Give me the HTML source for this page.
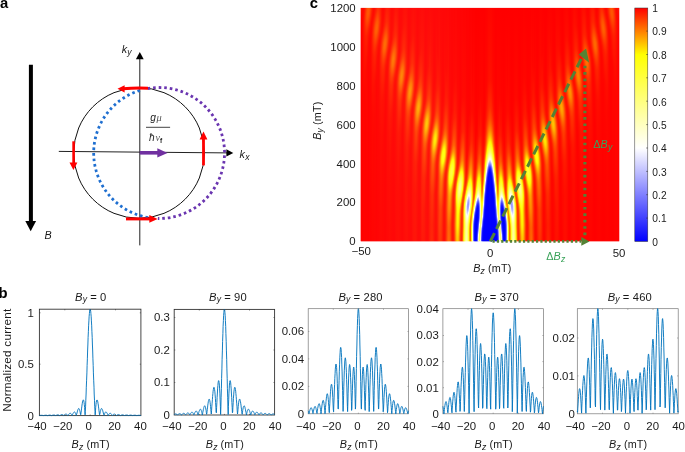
<!DOCTYPE html>
<html><head><meta charset="utf-8"><title>Figure</title>
<style>
html,body{margin:0;padding:0;background:#fff}
svg{display:block}
text{font-family:"Liberation Sans",sans-serif;fill:#1a1a1a;font-size:10.8px;letter-spacing:.15px}
.k{letter-spacing:0}
.i{font-style:italic}
.s{font-size:8.6px;font-style:italic;letter-spacing:0}
.b{font-weight:bold;font-size:14.8px;fill:#000;letter-spacing:0}
.ser{font-family:"Liberation Serif",serif;font-style:italic;fill:#555}
.g{fill:#3aa35a}
</style></head><body>
<svg width="685" height="452" viewBox="0 0 685 452">
<rect width="685" height="452" fill="#fff"/>
<defs>
<clipPath id="hc"><rect x="360.4" y="7.7" width="259.1" height="233.8"/></clipPath>
<linearGradient id="c0" x1="0" y1="0" x2="0" y2="1"><stop offset="0" stop-color="#ff1a00"/><stop offset=".034" stop-color="#ff0800"/><stop offset=".086" stop-color="#ff0100"/><stop offset="1" stop-color="#ff0000"/></linearGradient>
<linearGradient id="c1" x1="0" y1="0" x2="0" y2="1"><stop offset="0" stop-color="#ff0f00"/><stop offset=".052" stop-color="#ff0300"/><stop offset="1" stop-color="#ff0100"/></linearGradient>
<linearGradient id="c2" x1="0" y1="0" x2="0" y2="1"><stop offset="0" stop-color="#ff0600"/><stop offset=".086" stop-color="#ff0a00"/><stop offset="1" stop-color="#ff0100"/></linearGradient>
<linearGradient id="c3" x1="0" y1="0" x2="0" y2="1"><stop offset="0" stop-color="#ff0800"/><stop offset=".069" stop-color="#ff1800"/><stop offset=".378" stop-color="#ff0500"/><stop offset="1" stop-color="#ff0200"/></linearGradient>
<linearGradient id="c4" x1="0" y1="0" x2="0" y2="1"><stop offset="0" stop-color="#ff1700"/><stop offset=".039" stop-color="#ff2a00"/><stop offset=".06" stop-color="#ff2b00"/><stop offset=".133" stop-color="#ff1900"/><stop offset=".365" stop-color="#ff0600"/><stop offset="1" stop-color="#ff0200"/></linearGradient>
<linearGradient id="c5" x1="0" y1="0" x2="0" y2="1"><stop offset="0" stop-color="#ff2e00"/><stop offset=".03" stop-color="#ff3e00"/><stop offset=".047" stop-color="#ff4000"/><stop offset=".12" stop-color="#ff2000"/><stop offset=".275" stop-color="#ff0900"/><stop offset=".511" stop-color="#ff0200"/><stop offset="1" stop-color="#ff0100"/></linearGradient>
<linearGradient id="c6" x1="0" y1="0" x2="0" y2="1"><stop offset="0" stop-color="#ff4500"/><stop offset=".026" stop-color="#ff5100"/><stop offset=".043" stop-color="#ff5000"/><stop offset=".12" stop-color="#ff1e00"/><stop offset=".258" stop-color="#ff0700"/><stop offset="1" stop-color="#ff0000"/></linearGradient>
<linearGradient id="c7" x1="0" y1="0" x2="0" y2="1"><stop offset="0" stop-color="#ff5400"/><stop offset=".026" stop-color="#ff5a00"/><stop offset=".043" stop-color="#ff5300"/><stop offset=".094" stop-color="#ff2400"/><stop offset=".12" stop-color="#ff1600"/><stop offset=".227" stop-color="#ff0500"/><stop offset="1" stop-color="#ff0000"/></linearGradient>
<linearGradient id="c8" x1="0" y1="0" x2="0" y2="1"><stop offset="0" stop-color="#ff5700"/><stop offset=".03" stop-color="#ff5200"/><stop offset=".094" stop-color="#ff1700"/><stop offset=".146" stop-color="#ff0700"/><stop offset=".361" stop-color="#ff0000"/><stop offset="1" stop-color="#ff0000"/></linearGradient>
<linearGradient id="c9" x1="0" y1="0" x2="0" y2="1"><stop offset="0" stop-color="#ff4c00"/><stop offset=".026" stop-color="#ff4300"/><stop offset=".082" stop-color="#ff1100"/><stop offset=".124" stop-color="#ff0400"/><stop offset="1" stop-color="#ff0000"/></linearGradient>
<linearGradient id="c10" x1="0" y1="0" x2="0" y2="1"><stop offset="0" stop-color="#ff3700"/><stop offset=".021" stop-color="#ff2e00"/><stop offset=".06" stop-color="#ff1000"/><stop offset=".099" stop-color="#ff0500"/><stop offset="1" stop-color="#ff0100"/></linearGradient>
<linearGradient id="c11" x1="0" y1="0" x2="0" y2="1"><stop offset="0" stop-color="#ff2000"/><stop offset=".06" stop-color="#ff0700"/><stop offset=".146" stop-color="#ff1300"/><stop offset=".446" stop-color="#ff0500"/><stop offset="1" stop-color="#ff0200"/></linearGradient>
<linearGradient id="c12" x1="0" y1="0" x2="0" y2="1"><stop offset="0" stop-color="#ff0d00"/><stop offset=".043" stop-color="#ff0700"/><stop offset=".107" stop-color="#ff2400"/><stop offset=".133" stop-color="#ff2600"/><stop offset=".202" stop-color="#ff1800"/><stop offset=".451" stop-color="#ff0600"/><stop offset="1" stop-color="#ff0200"/></linearGradient>
<linearGradient id="c13" x1="0" y1="0" x2="0" y2="1"><stop offset="0" stop-color="#ff0500"/><stop offset=".03" stop-color="#ff0900"/><stop offset=".094" stop-color="#ff3800"/><stop offset=".12" stop-color="#ff3d00"/><stop offset=".21" stop-color="#ff1d00"/><stop offset=".339" stop-color="#ff0b00"/><stop offset=".575" stop-color="#ff0300"/><stop offset="1" stop-color="#ff0200"/></linearGradient>
<linearGradient id="c14" x1="0" y1="0" x2="0" y2="1"><stop offset="0" stop-color="#ff0800"/><stop offset=".034" stop-color="#ff1900"/><stop offset=".086" stop-color="#ff4c00"/><stop offset=".107" stop-color="#ff5200"/><stop offset=".193" stop-color="#ff2100"/><stop offset=".318" stop-color="#ff0a00"/><stop offset=".472" stop-color="#ff0300"/><stop offset="1" stop-color="#ff0100"/></linearGradient>
<linearGradient id="c15" x1="0" y1="0" x2="0" y2="1"><stop offset="0" stop-color="#ff1200"/><stop offset=".021" stop-color="#ff1f00"/><stop offset=".073" stop-color="#ff5600"/><stop offset=".099" stop-color="#ff5f00"/><stop offset=".12" stop-color="#ff5400"/><stop offset=".159" stop-color="#ff2f00"/><stop offset=".189" stop-color="#ff1c00"/><stop offset=".313" stop-color="#ff0600"/><stop offset="1" stop-color="#ff0000"/></linearGradient>
<linearGradient id="c16" x1="0" y1="0" x2="0" y2="1"><stop offset="0" stop-color="#ff1e00"/><stop offset=".017" stop-color="#ff2900"/><stop offset=".06" stop-color="#ff5600"/><stop offset=".086" stop-color="#ff6200"/><stop offset=".107" stop-color="#ff5800"/><stop offset=".146" stop-color="#ff2e00"/><stop offset=".172" stop-color="#ff1900"/><stop offset=".232" stop-color="#ff0900"/><stop offset=".361" stop-color="#ff0100"/><stop offset="1" stop-color="#ff0000"/></linearGradient>
<linearGradient id="c17" x1="0" y1="0" x2="0" y2="1"><stop offset="0" stop-color="#ff2700"/><stop offset=".056" stop-color="#ff5200"/><stop offset=".077" stop-color="#ff5800"/><stop offset=".099" stop-color="#ff4e00"/><stop offset=".142" stop-color="#ff2000"/><stop offset=".163" stop-color="#ff1000"/><stop offset=".206" stop-color="#ff0500"/><stop offset="1" stop-color="#ff0000"/></linearGradient>
<linearGradient id="c18" x1="0" y1="0" x2="0" y2="1"><stop offset="0" stop-color="#ff2700"/><stop offset=".064" stop-color="#ff4600"/><stop offset=".094" stop-color="#ff3900"/><stop offset=".142" stop-color="#ff0f00"/><stop offset=".176" stop-color="#ff0500"/><stop offset="1" stop-color="#ff0100"/></linearGradient>
<linearGradient id="c19" x1="0" y1="0" x2="0" y2="1"><stop offset="0" stop-color="#ff2000"/><stop offset=".06" stop-color="#ff2f00"/><stop offset=".142" stop-color="#ff0700"/><stop offset=".227" stop-color="#ff0e00"/><stop offset=".648" stop-color="#ff0300"/><stop offset="1" stop-color="#ff0300"/></linearGradient>
<linearGradient id="c20" x1="0" y1="0" x2="0" y2="1"><stop offset="0" stop-color="#ff1400"/><stop offset=".047" stop-color="#ff1a00"/><stop offset=".124" stop-color="#ff0800"/><stop offset=".197" stop-color="#ff2100"/><stop offset=".382" stop-color="#ff0d00"/><stop offset=".511" stop-color="#ff0700"/><stop offset="1" stop-color="#ff0300"/></linearGradient>
<linearGradient id="c21" x1="0" y1="0" x2="0" y2="1"><stop offset="0" stop-color="#ff0900"/><stop offset=".107" stop-color="#ff0a00"/><stop offset=".163" stop-color="#ff3200"/><stop offset=".189" stop-color="#ff3900"/><stop offset=".266" stop-color="#ff2000"/><stop offset=".403" stop-color="#ff0d00"/><stop offset=".644" stop-color="#ff0400"/><stop offset="1" stop-color="#ff0300"/></linearGradient>
<linearGradient id="c22" x1="0" y1="0" x2="0" y2="1"><stop offset="0" stop-color="#ff0300"/><stop offset=".082" stop-color="#ff0900"/><stop offset=".103" stop-color="#ff1500"/><stop offset=".15" stop-color="#ff4600"/><stop offset=".18" stop-color="#ff5100"/><stop offset=".262" stop-color="#ff2500"/><stop offset=".395" stop-color="#ff0c00"/><stop offset=".635" stop-color="#ff0300"/><stop offset="1" stop-color="#ff0200"/></linearGradient>
<linearGradient id="c23" x1="0" y1="0" x2="0" y2="1"><stop offset="0" stop-color="#ff0300"/><stop offset=".043" stop-color="#ff0600"/><stop offset=".077" stop-color="#ff1200"/><stop offset=".099" stop-color="#ff2400"/><stop offset=".15" stop-color="#ff5f00"/><stop offset=".172" stop-color="#ff6400"/><stop offset=".189" stop-color="#ff5b00"/><stop offset=".236" stop-color="#ff2f00"/><stop offset=".266" stop-color="#ff1f00"/><stop offset=".373" stop-color="#ff0a00"/><stop offset=".554" stop-color="#ff0200"/><stop offset="1" stop-color="#ff0100"/></linearGradient>
<linearGradient id="c24" x1="0" y1="0" x2="0" y2="1"><stop offset="0" stop-color="#ff0800"/><stop offset=".064" stop-color="#ff1800"/><stop offset=".082" stop-color="#ff2400"/><stop offset=".137" stop-color="#ff6400"/><stop offset=".159" stop-color="#ff6c00"/><stop offset=".176" stop-color="#ff6400"/><stop offset=".219" stop-color="#ff3400"/><stop offset=".249" stop-color="#ff1c00"/><stop offset=".335" stop-color="#ff0900"/><stop offset=".489" stop-color="#ff0100"/><stop offset="1" stop-color="#ff0000"/></linearGradient>
<linearGradient id="c25" x1="0" y1="0" x2="0" y2="1"><stop offset="0" stop-color="#ff1000"/><stop offset=".06" stop-color="#ff2000"/><stop offset=".077" stop-color="#ff2c00"/><stop offset=".129" stop-color="#ff6000"/><stop offset=".15" stop-color="#ff6600"/><stop offset=".172" stop-color="#ff5a00"/><stop offset=".227" stop-color="#ff1b00"/><stop offset=".253" stop-color="#ff0d00"/><stop offset=".283" stop-color="#ff0700"/><stop offset=".403" stop-color="#ff0100"/><stop offset="1" stop-color="#ff0000"/></linearGradient>
<linearGradient id="c26" x1="0" y1="0" x2="0" y2="1"><stop offset="0" stop-color="#ff1500"/><stop offset=".064" stop-color="#ff2700"/><stop offset=".12" stop-color="#ff5100"/><stop offset=".137" stop-color="#ff5600"/><stop offset=".159" stop-color="#ff4d00"/><stop offset=".197" stop-color="#ff2300"/><stop offset=".223" stop-color="#ff0e00"/><stop offset=".258" stop-color="#ff0500"/><stop offset="1" stop-color="#ff0100"/></linearGradient>
<linearGradient id="c27" x1="0" y1="0" x2="0" y2="1"><stop offset="0" stop-color="#ff1600"/><stop offset=".052" stop-color="#ff1f00"/><stop offset=".129" stop-color="#ff3e00"/><stop offset=".146" stop-color="#ff3900"/><stop offset=".197" stop-color="#ff0f00"/><stop offset=".223" stop-color="#ff0700"/><stop offset=".403" stop-color="#ff0b00"/><stop offset="1" stop-color="#ff0200"/></linearGradient>
<linearGradient id="c28" x1="0" y1="0" x2="0" y2="1"><stop offset="0" stop-color="#ff1300"/><stop offset=".124" stop-color="#ff2500"/><stop offset=".189" stop-color="#ff0900"/><stop offset=".275" stop-color="#ff1b00"/><stop offset=".588" stop-color="#ff0700"/><stop offset="1" stop-color="#ff0300"/></linearGradient>
<linearGradient id="c29" x1="0" y1="0" x2="0" y2="1"><stop offset="0" stop-color="#ff0c00"/><stop offset=".12" stop-color="#ff1100"/><stop offset=".172" stop-color="#ff0800"/><stop offset=".193" stop-color="#ff0f00"/><stop offset=".236" stop-color="#ff2e00"/><stop offset=".262" stop-color="#ff3400"/><stop offset=".33" stop-color="#ff2100"/><stop offset=".468" stop-color="#ff0f00"/><stop offset=".717" stop-color="#ff0500"/><stop offset="1" stop-color="#ff0400"/></linearGradient>
<linearGradient id="c30" x1="0" y1="0" x2="0" y2="1"><stop offset="0" stop-color="#ff0600"/><stop offset=".15" stop-color="#ff0700"/><stop offset=".176" stop-color="#ff1400"/><stop offset=".223" stop-color="#ff4500"/><stop offset=".249" stop-color="#ff5000"/><stop offset=".33" stop-color="#ff2800"/><stop offset=".472" stop-color="#ff0e00"/><stop offset=".717" stop-color="#ff0400"/><stop offset="1" stop-color="#ff0300"/></linearGradient>
<linearGradient id="c31" x1="0" y1="0" x2="0" y2="1"><stop offset="0" stop-color="#ff0200"/><stop offset=".133" stop-color="#ff0900"/><stop offset=".155" stop-color="#ff1400"/><stop offset=".215" stop-color="#ff5c00"/><stop offset=".236" stop-color="#ff6800"/><stop offset=".253" stop-color="#ff6300"/><stop offset=".3" stop-color="#ff3900"/><stop offset=".33" stop-color="#ff2700"/><stop offset=".446" stop-color="#ff0d00"/><stop offset=".597" stop-color="#ff0400"/><stop offset="1" stop-color="#ff0200"/></linearGradient>
<linearGradient id="c32" x1="0" y1="0" x2="0" y2="1"><stop offset="0" stop-color="#ff0200"/><stop offset=".09" stop-color="#ff0800"/><stop offset=".133" stop-color="#ff1500"/><stop offset=".159" stop-color="#ff2b00"/><stop offset=".21" stop-color="#ff6e00"/><stop offset=".227" stop-color="#ff7600"/><stop offset=".245" stop-color="#ff7000"/><stop offset=".3" stop-color="#ff3100"/><stop offset=".318" stop-color="#ff2400"/><stop offset=".348" stop-color="#ff1900"/><stop offset=".438" stop-color="#ff0800"/><stop offset=".567" stop-color="#ff0200"/><stop offset="1" stop-color="#ff0000"/></linearGradient>
<linearGradient id="c33" x1="0" y1="0" x2="0" y2="1"><stop offset="0" stop-color="#ff0500"/><stop offset=".086" stop-color="#ff1000"/><stop offset=".124" stop-color="#ff1d00"/><stop offset=".155" stop-color="#ff3600"/><stop offset=".197" stop-color="#ff6b00"/><stop offset=".219" stop-color="#ff7600"/><stop offset=".245" stop-color="#ff6600"/><stop offset=".3" stop-color="#ff2100"/><stop offset=".326" stop-color="#ff1200"/><stop offset=".356" stop-color="#ff0b00"/><stop offset=".455" stop-color="#ff0200"/><stop offset="1" stop-color="#ff0000"/></linearGradient>
<linearGradient id="c34" x1="0" y1="0" x2="0" y2="1"><stop offset="0" stop-color="#ff0900"/><stop offset=".116" stop-color="#ff2100"/><stop offset=".142" stop-color="#ff3100"/><stop offset=".185" stop-color="#ff5c00"/><stop offset=".215" stop-color="#ff6700"/><stop offset=".236" stop-color="#ff5800"/><stop offset=".288" stop-color="#ff1900"/><stop offset=".309" stop-color="#ff0c00"/><stop offset=".335" stop-color="#ff0600"/><stop offset="1" stop-color="#ff0100"/></linearGradient>
<linearGradient id="c35" x1="0" y1="0" x2="0" y2="1"><stop offset="0" stop-color="#ff0c00"/><stop offset=".112" stop-color="#ff2100"/><stop offset=".18" stop-color="#ff4a00"/><stop offset=".202" stop-color="#ff4f00"/><stop offset=".223" stop-color="#ff4500"/><stop offset=".275" stop-color="#ff1100"/><stop offset=".305" stop-color="#ff0700"/><stop offset="1" stop-color="#ff0300"/></linearGradient>
<linearGradient id="c36" x1="0" y1="0" x2="0" y2="1"><stop offset="0" stop-color="#ff0c00"/><stop offset=".107" stop-color="#ff1b00"/><stop offset=".189" stop-color="#ff3400"/><stop offset=".21" stop-color="#ff2e00"/><stop offset=".253" stop-color="#ff0f00"/><stop offset=".275" stop-color="#ff0900"/><stop offset=".322" stop-color="#ff1400"/><stop offset=".356" stop-color="#ff1500"/><stop offset=".67" stop-color="#ff0700"/><stop offset="1" stop-color="#ff0500"/></linearGradient>
<linearGradient id="c37" x1="0" y1="0" x2="0" y2="1"><stop offset="0" stop-color="#ff0a00"/><stop offset=".185" stop-color="#ff1b00"/><stop offset=".249" stop-color="#ff0900"/><stop offset=".27" stop-color="#ff1000"/><stop offset=".313" stop-color="#ff2b00"/><stop offset=".335" stop-color="#ff2e00"/><stop offset=".391" stop-color="#ff2100"/><stop offset=".541" stop-color="#ff1000"/><stop offset=".798" stop-color="#ff0600"/><stop offset="1" stop-color="#ff0600"/></linearGradient>
<linearGradient id="c38" x1="0" y1="0" x2="0" y2="1"><stop offset="0" stop-color="#ff0600"/><stop offset=".223" stop-color="#ff0800"/><stop offset=".249" stop-color="#ff1300"/><stop offset=".296" stop-color="#ff4300"/><stop offset=".322" stop-color="#ff4d00"/><stop offset=".395" stop-color="#ff2c00"/><stop offset=".541" stop-color="#ff1100"/><stop offset=".777" stop-color="#ff0600"/><stop offset="1" stop-color="#ff0600"/></linearGradient>
<linearGradient id="c39" x1="0" y1="0" x2="0" y2="1"><stop offset="0" stop-color="#ff0200"/><stop offset=".176" stop-color="#ff0400"/><stop offset=".21" stop-color="#ff0a00"/><stop offset=".24" stop-color="#ff2000"/><stop offset=".288" stop-color="#ff5f00"/><stop offset=".309" stop-color="#ff6a00"/><stop offset=".326" stop-color="#ff6500"/><stop offset=".373" stop-color="#ff3c00"/><stop offset=".403" stop-color="#ff2c00"/><stop offset=".515" stop-color="#ff1100"/><stop offset=".674" stop-color="#ff0600"/><stop offset="1" stop-color="#ff0400"/></linearGradient>
<linearGradient id="c40" x1="0" y1="0" x2="0" y2="1"><stop offset="0" stop-color="#ff0100"/><stop offset=".12" stop-color="#ff0300"/><stop offset=".193" stop-color="#ff0e00"/><stop offset=".227" stop-color="#ff2800"/><stop offset=".279" stop-color="#ff7300"/><stop offset=".3" stop-color="#ff7f00"/><stop offset=".322" stop-color="#ff7400"/><stop offset=".365" stop-color="#ff4000"/><stop offset=".391" stop-color="#ff2b00"/><stop offset=".506" stop-color="#ff0c00"/><stop offset=".657" stop-color="#ff0300"/><stop offset="1" stop-color="#ff0200"/></linearGradient>
<linearGradient id="c41" x1="0" y1="0" x2="0" y2="1"><stop offset="0" stop-color="#ff0100"/><stop offset=".082" stop-color="#ff0400"/><stop offset=".18" stop-color="#ff1500"/><stop offset=".215" stop-color="#ff2d00"/><stop offset=".27" stop-color="#ff7a00"/><stop offset=".292" stop-color="#ff8500"/><stop offset=".313" stop-color="#ff7800"/><stop offset=".373" stop-color="#ff2800"/><stop offset=".403" stop-color="#ff1700"/><stop offset=".433" stop-color="#ff1000"/><stop offset=".545" stop-color="#ff0300"/><stop offset="1" stop-color="#ff0000"/></linearGradient>
<linearGradient id="c42" x1="0" y1="0" x2="0" y2="1"><stop offset="0" stop-color="#ff0400"/><stop offset=".082" stop-color="#ff0900"/><stop offset=".18" stop-color="#ff2000"/><stop offset=".206" stop-color="#ff3100"/><stop offset=".266" stop-color="#ff7600"/><stop offset=".283" stop-color="#ff7b00"/><stop offset=".309" stop-color="#ff6800"/><stop offset=".348" stop-color="#ff2e00"/><stop offset=".365" stop-color="#ff1c00"/><stop offset=".408" stop-color="#ff0900"/><stop offset=".519" stop-color="#ff0200"/><stop offset="1" stop-color="#ff0100"/></linearGradient>
<linearGradient id="c43" x1="0" y1="0" x2="0" y2="1"><stop offset="0" stop-color="#ff0600"/><stop offset=".073" stop-color="#ff0c00"/><stop offset=".172" stop-color="#ff2200"/><stop offset=".206" stop-color="#ff3400"/><stop offset=".253" stop-color="#ff5e00"/><stop offset=".275" stop-color="#ff6400"/><stop offset=".3" stop-color="#ff5200"/><stop offset=".33" stop-color="#ff2900"/><stop offset=".352" stop-color="#ff1300"/><stop offset=".378" stop-color="#ff0800"/><stop offset="1" stop-color="#ff0300"/></linearGradient>
<linearGradient id="c44" x1="0" y1="0" x2="0" y2="1"><stop offset="0" stop-color="#ff0800"/><stop offset=".069" stop-color="#ff0d00"/><stop offset=".176" stop-color="#ff2100"/><stop offset=".262" stop-color="#ff4600"/><stop offset=".283" stop-color="#ff3e00"/><stop offset=".322" stop-color="#ff1800"/><stop offset=".348" stop-color="#ff0a00"/><stop offset=".528" stop-color="#ff1100"/><stop offset=".712" stop-color="#ff0800"/><stop offset="1" stop-color="#ff0500"/></linearGradient>
<linearGradient id="c45" x1="0" y1="0" x2="0" y2="1"><stop offset="0" stop-color="#ff0800"/><stop offset=".18" stop-color="#ff1900"/><stop offset=".24" stop-color="#ff2800"/><stop offset=".266" stop-color="#ff2600"/><stop offset=".313" stop-color="#ff0d00"/><stop offset=".33" stop-color="#ff0b00"/><stop offset=".382" stop-color="#ff2400"/><stop offset=".408" stop-color="#ff2800"/><stop offset=".609" stop-color="#ff1100"/><stop offset="1" stop-color="#ff0700"/></linearGradient>
<linearGradient id="c46" x1="0" y1="0" x2="0" y2="1"><stop offset="0" stop-color="#ff0600"/><stop offset=".232" stop-color="#ff1200"/><stop offset=".305" stop-color="#ff0a00"/><stop offset=".326" stop-color="#ff1500"/><stop offset=".365" stop-color="#ff3d00"/><stop offset=".386" stop-color="#ff4800"/><stop offset=".412" stop-color="#ff4400"/><stop offset=".455" stop-color="#ff3000"/><stop offset=".601" stop-color="#ff1500"/><stop offset=".742" stop-color="#ff0b00"/><stop offset="1" stop-color="#ff0700"/></linearGradient>
<linearGradient id="c47" x1="0" y1="0" x2="0" y2="1"><stop offset="0" stop-color="#ff0300"/><stop offset=".283" stop-color="#ff0a00"/><stop offset=".309" stop-color="#ff1b00"/><stop offset=".356" stop-color="#ff5c00"/><stop offset=".378" stop-color="#ff6b00"/><stop offset=".399" stop-color="#ff6600"/><stop offset=".442" stop-color="#ff4200"/><stop offset=".468" stop-color="#ff3400"/><stop offset=".584" stop-color="#ff1600"/><stop offset=".738" stop-color="#ff0900"/><stop offset="1" stop-color="#ff0600"/></linearGradient>
<linearGradient id="c48" x1="0" y1="0" x2="0" y2="1"><stop offset="0" stop-color="#ff0100"/><stop offset=".176" stop-color="#ff0200"/><stop offset=".262" stop-color="#ff0b00"/><stop offset=".279" stop-color="#ff1400"/><stop offset=".3" stop-color="#ff2a00"/><stop offset=".348" stop-color="#ff7700"/><stop offset=".369" stop-color="#ff8800"/><stop offset=".386" stop-color="#ff8300"/><stop offset=".442" stop-color="#ff4200"/><stop offset=".468" stop-color="#ff3000"/><stop offset=".588" stop-color="#ff0f00"/><stop offset=".747" stop-color="#ff0500"/><stop offset="1" stop-color="#ff0300"/></linearGradient>
<linearGradient id="c49" x1="0" y1="0" x2="0" y2="1"><stop offset="0" stop-color="#ff0000"/><stop offset=".137" stop-color="#ff0200"/><stop offset=".245" stop-color="#ff1100"/><stop offset=".279" stop-color="#ff2700"/><stop offset=".296" stop-color="#ff3d00"/><stop offset=".343" stop-color="#ff8b00"/><stop offset=".361" stop-color="#ff9600"/><stop offset=".382" stop-color="#ff8b00"/><stop offset=".442" stop-color="#ff3500"/><stop offset=".485" stop-color="#ff1c00"/><stop offset=".605" stop-color="#ff0600"/><stop offset="1" stop-color="#ff0100"/></linearGradient>
<linearGradient id="c50" x1="0" y1="0" x2="0" y2="1"><stop offset="0" stop-color="#ff0100"/><stop offset=".137" stop-color="#ff0600"/><stop offset=".24" stop-color="#ff1c00"/><stop offset=".275" stop-color="#ff3400"/><stop offset=".326" stop-color="#ff7e00"/><stop offset=".352" stop-color="#ff9200"/><stop offset=".373" stop-color="#ff8500"/><stop offset=".433" stop-color="#ff2800"/><stop offset=".459" stop-color="#ff1500"/><stop offset=".494" stop-color="#ff0c00"/><stop offset=".614" stop-color="#ff0200"/><stop offset="1" stop-color="#ff0100"/></linearGradient>
<linearGradient id="c51" x1="0" y1="0" x2="0" y2="1"><stop offset="0" stop-color="#ff0300"/><stop offset=".137" stop-color="#ff0b00"/><stop offset=".24" stop-color="#ff2500"/><stop offset=".279" stop-color="#ff4000"/><stop offset=".326" stop-color="#ff7600"/><stop offset=".343" stop-color="#ff7d00"/><stop offset=".369" stop-color="#ff6b00"/><stop offset=".421" stop-color="#ff1e00"/><stop offset=".438" stop-color="#ff1000"/><stop offset=".464" stop-color="#ff0800"/><stop offset="1" stop-color="#ff0300"/></linearGradient>
<linearGradient id="c52" x1="0" y1="0" x2="0" y2="1"><stop offset="0" stop-color="#ff0400"/><stop offset=".116" stop-color="#ff0b00"/><stop offset=".24" stop-color="#ff2600"/><stop offset=".33" stop-color="#ff5d00"/><stop offset=".352" stop-color="#ff5500"/><stop offset=".399" stop-color="#ff1c00"/><stop offset=".429" stop-color="#ff0a00"/><stop offset=".592" stop-color="#ff0f00"/><stop offset="1" stop-color="#ff0700"/></linearGradient>
<linearGradient id="c53" x1="0" y1="0" x2="0" y2="1"><stop offset="0" stop-color="#ff0500"/><stop offset=".112" stop-color="#ff0b00"/><stop offset=".24" stop-color="#ff1f00"/><stop offset=".318" stop-color="#ff3a00"/><stop offset=".343" stop-color="#ff3400"/><stop offset=".386" stop-color="#ff1200"/><stop offset=".403" stop-color="#ff0c00"/><stop offset=".476" stop-color="#ff2200"/><stop offset=".798" stop-color="#ff0c00"/><stop offset="1" stop-color="#ff0b00"/></linearGradient>
<linearGradient id="c54" x1="0" y1="0" x2="0" y2="1"><stop offset="0" stop-color="#ff0400"/><stop offset=".129" stop-color="#ff0a00"/><stop offset=".305" stop-color="#ff1d00"/><stop offset=".382" stop-color="#ff0c00"/><stop offset=".399" stop-color="#ff1400"/><stop offset=".446" stop-color="#ff3f00"/><stop offset=".464" stop-color="#ff4400"/><stop offset=".541" stop-color="#ff2d00"/><stop offset=".597" stop-color="#ff2800"/><stop offset=".661" stop-color="#ff1900"/><stop offset=".79" stop-color="#ff0f00"/><stop offset="1" stop-color="#ff0d00"/></linearGradient>
<linearGradient id="c55" x1="0" y1="0" x2="0" y2="1"><stop offset="0" stop-color="#ff0300"/><stop offset=".356" stop-color="#ff0a00"/><stop offset=".382" stop-color="#ff1b00"/><stop offset=".429" stop-color="#ff5e00"/><stop offset=".451" stop-color="#ff6c00"/><stop offset=".472" stop-color="#ff6600"/><stop offset=".532" stop-color="#ff3c00"/><stop offset=".661" stop-color="#ff1a00"/><stop offset=".807" stop-color="#ff0d00"/><stop offset="1" stop-color="#ff0b00"/></linearGradient>
<linearGradient id="c56" x1="0" y1="0" x2="0" y2="1"><stop offset="0" stop-color="#ff0100"/><stop offset=".262" stop-color="#ff0300"/><stop offset=".33" stop-color="#ff0900"/><stop offset=".365" stop-color="#ff2000"/><stop offset=".382" stop-color="#ff3a00"/><stop offset=".416" stop-color="#ff7a00"/><stop offset=".429" stop-color="#ff8a00"/><stop offset=".442" stop-color="#ff9000"/><stop offset=".459" stop-color="#ff8a00"/><stop offset=".506" stop-color="#ff5200"/><stop offset=".528" stop-color="#ff4000"/><stop offset=".631" stop-color="#ff1c00"/><stop offset=".674" stop-color="#ff1300"/><stop offset=".803" stop-color="#ff0900"/><stop offset="1" stop-color="#ff0800"/></linearGradient>
<linearGradient id="c57" x1="0" y1="0" x2="0" y2="1"><stop offset="0" stop-color="#ff0000"/><stop offset=".215" stop-color="#ff0200"/><stop offset=".318" stop-color="#ff1000"/><stop offset=".352" stop-color="#ff2a00"/><stop offset=".369" stop-color="#ff4400"/><stop offset=".412" stop-color="#ff9700"/><stop offset=".433" stop-color="#ffa800"/><stop offset=".455" stop-color="#ff9a00"/><stop offset=".511" stop-color="#ff4400"/><stop offset=".536" stop-color="#ff2f00"/><stop offset=".562" stop-color="#ff2500"/><stop offset=".67" stop-color="#ff0b00"/><stop offset="1" stop-color="#ff0300"/></linearGradient>
<linearGradient id="c58" x1="0" y1="0" x2="0" y2="1"><stop offset="0" stop-color="#ff0000"/><stop offset=".197" stop-color="#ff0400"/><stop offset=".305" stop-color="#ff1900"/><stop offset=".343" stop-color="#ff3500"/><stop offset=".361" stop-color="#ff4e00"/><stop offset=".399" stop-color="#ff9600"/><stop offset=".421" stop-color="#ffab00"/><stop offset=".442" stop-color="#ffa100"/><stop offset=".485" stop-color="#ff5300"/><stop offset=".511" stop-color="#ff2e00"/><stop offset=".549" stop-color="#ff1700"/><stop offset=".674" stop-color="#ff0400"/><stop offset="1" stop-color="#ff0100"/></linearGradient>
<linearGradient id="c59" x1="0" y1="0" x2="0" y2="1"><stop offset="0" stop-color="#ff0100"/><stop offset=".189" stop-color="#ff0800"/><stop offset=".296" stop-color="#ff2200"/><stop offset=".339" stop-color="#ff3e00"/><stop offset=".391" stop-color="#ff8900"/><stop offset=".412" stop-color="#ff9a00"/><stop offset=".425" stop-color="#ff9700"/><stop offset=".438" stop-color="#ff8900"/><stop offset=".476" stop-color="#ff4100"/><stop offset=".494" stop-color="#ff2700"/><stop offset=".528" stop-color="#ff0e00"/><stop offset=".622" stop-color="#ff0400"/><stop offset="1" stop-color="#ff0200"/></linearGradient>
<linearGradient id="c60" x1="0" y1="0" x2="0" y2="1"><stop offset="0" stop-color="#ff0200"/><stop offset=".18" stop-color="#ff0b00"/><stop offset=".292" stop-color="#ff2600"/><stop offset=".335" stop-color="#ff3c00"/><stop offset=".386" stop-color="#ff7100"/><stop offset=".403" stop-color="#ff7900"/><stop offset=".416" stop-color="#ff7600"/><stop offset=".429" stop-color="#ff6900"/><stop offset=".481" stop-color="#ff1b00"/><stop offset=".515" stop-color="#ff0a00"/><stop offset="1" stop-color="#ff0700"/></linearGradient>
<linearGradient id="c61" x1="0" y1="0" x2="0" y2="1"><stop offset="0" stop-color="#ff0300"/><stop offset=".163" stop-color="#ff0b00"/><stop offset=".223" stop-color="#ff1400"/><stop offset=".318" stop-color="#ff2a00"/><stop offset=".373" stop-color="#ff4b00"/><stop offset=".395" stop-color="#ff5200"/><stop offset=".412" stop-color="#ff4c00"/><stop offset=".459" stop-color="#ff1800"/><stop offset=".485" stop-color="#ff0d00"/><stop offset=".545" stop-color="#ff1c00"/><stop offset="1" stop-color="#ff0d00"/></linearGradient>
<linearGradient id="c62" x1="0" y1="0" x2="0" y2="1"><stop offset="0" stop-color="#ff0300"/><stop offset=".18" stop-color="#ff0b00"/><stop offset=".318" stop-color="#ff1d00"/><stop offset=".382" stop-color="#ff2d00"/><stop offset=".399" stop-color="#ff2a00"/><stop offset=".455" stop-color="#ff0e00"/><stop offset=".468" stop-color="#ff1100"/><stop offset=".515" stop-color="#ff3800"/><stop offset=".532" stop-color="#ff3e00"/><stop offset=".592" stop-color="#ff3000"/><stop offset=".661" stop-color="#ff2c00"/><stop offset=".738" stop-color="#ff1c00"/><stop offset="1" stop-color="#ff1000"/></linearGradient>
<linearGradient id="c63" x1="0" y1="0" x2="0" y2="1"><stop offset="0" stop-color="#ff0300"/><stop offset=".369" stop-color="#ff1300"/><stop offset=".429" stop-color="#ff0c00"/><stop offset=".455" stop-color="#ff1b00"/><stop offset=".498" stop-color="#ff5900"/><stop offset=".524" stop-color="#ff6c00"/><stop offset=".541" stop-color="#ff6800"/><stop offset=".601" stop-color="#ff4200"/><stop offset=".734" stop-color="#ff2000"/><stop offset=".871" stop-color="#ff1300"/><stop offset="1" stop-color="#ff1000"/></linearGradient>
<linearGradient id="c64" x1="0" y1="0" x2="0" y2="1"><stop offset="0" stop-color="#ff0100"/><stop offset=".33" stop-color="#ff0500"/><stop offset=".412" stop-color="#ff0c00"/><stop offset=".442" stop-color="#ff2700"/><stop offset=".489" stop-color="#ff8300"/><stop offset=".511" stop-color="#ff9900"/><stop offset=".532" stop-color="#ff9200"/><stop offset=".575" stop-color="#ff5f00"/><stop offset=".601" stop-color="#ff4a00"/><stop offset=".717" stop-color="#ff2000"/><stop offset=".867" stop-color="#ff0f00"/><stop offset="1" stop-color="#ff0d00"/></linearGradient>
<linearGradient id="c65" x1="0" y1="0" x2="0" y2="1"><stop offset="0" stop-color="#ff0000"/><stop offset=".288" stop-color="#ff0200"/><stop offset=".386" stop-color="#ff0d00"/><stop offset=".408" stop-color="#ff1900"/><stop offset=".429" stop-color="#ff3300"/><stop offset=".481" stop-color="#ffa300"/><stop offset=".494" stop-color="#ffb500"/><stop offset=".506" stop-color="#ffbc00"/><stop offset=".524" stop-color="#ffb100"/><stop offset=".579" stop-color="#ff5600"/><stop offset=".618" stop-color="#ff3800"/><stop offset=".738" stop-color="#ff1200"/><stop offset=".854" stop-color="#ff0900"/><stop offset="1" stop-color="#ff0700"/></linearGradient>
<linearGradient id="c66" x1="0" y1="0" x2="0" y2="1"><stop offset="0" stop-color="#ff0000"/><stop offset=".266" stop-color="#ff0300"/><stop offset=".373" stop-color="#ff1700"/><stop offset=".399" stop-color="#ff2700"/><stop offset=".416" stop-color="#ff3c00"/><stop offset=".429" stop-color="#ff5200"/><stop offset=".476" stop-color="#ffb900"/><stop offset=".494" stop-color="#ffc900"/><stop offset=".502" stop-color="#ffc800"/><stop offset=".515" stop-color="#ffbb00"/><stop offset=".554" stop-color="#ff6c00"/><stop offset=".579" stop-color="#ff4100"/><stop offset=".592" stop-color="#ff3300"/><stop offset=".618" stop-color="#ff2400"/><stop offset=".738" stop-color="#ff0800"/><stop offset="1" stop-color="#ff0300"/></linearGradient>
<linearGradient id="c67" x1="0" y1="0" x2="0" y2="1"><stop offset="0" stop-color="#ff0000"/><stop offset=".258" stop-color="#ff0700"/><stop offset=".356" stop-color="#ff1f00"/><stop offset=".391" stop-color="#ff3200"/><stop offset=".408" stop-color="#ff4400"/><stop offset=".421" stop-color="#ff5700"/><stop offset=".464" stop-color="#ffaa00"/><stop offset=".485" stop-color="#ffbe00"/><stop offset=".498" stop-color="#ffb900"/><stop offset=".511" stop-color="#ffa700"/><stop offset=".562" stop-color="#ff3a00"/><stop offset=".584" stop-color="#ff2000"/><stop offset=".605" stop-color="#ff1400"/><stop offset=".704" stop-color="#ff0500"/><stop offset="1" stop-color="#ff0300"/></linearGradient>
<linearGradient id="c68" x1="0" y1="0" x2="0" y2="1"><stop offset="0" stop-color="#ff0100"/><stop offset=".249" stop-color="#ff0b00"/><stop offset=".339" stop-color="#ff2300"/><stop offset=".373" stop-color="#ff3000"/><stop offset=".399" stop-color="#ff4200"/><stop offset=".455" stop-color="#ff8f00"/><stop offset=".472" stop-color="#ff9d00"/><stop offset=".494" stop-color="#ff9400"/><stop offset=".511" stop-color="#ff7800"/><stop offset=".549" stop-color="#ff2b00"/><stop offset=".567" stop-color="#ff1700"/><stop offset=".579" stop-color="#ff0f00"/><stop offset=".631" stop-color="#ff0800"/><stop offset="1" stop-color="#ff0900"/></linearGradient>
<linearGradient id="c69" x1="0" y1="0" x2="0" y2="1"><stop offset="0" stop-color="#ff0200"/><stop offset=".137" stop-color="#ff0500"/><stop offset=".288" stop-color="#ff1600"/><stop offset=".386" stop-color="#ff3500"/><stop offset=".446" stop-color="#ff6800"/><stop offset=".464" stop-color="#ff7100"/><stop offset=".485" stop-color="#ff6800"/><stop offset=".528" stop-color="#ff2700"/><stop offset=".545" stop-color="#ff1500"/><stop offset=".558" stop-color="#ff0f00"/><stop offset=".708" stop-color="#ff1a00"/><stop offset=".914" stop-color="#ff1100"/><stop offset="1" stop-color="#ff1300"/></linearGradient>
<linearGradient id="c70" x1="0" y1="0" x2="0" y2="1"><stop offset="0" stop-color="#ff0200"/><stop offset=".266" stop-color="#ff1000"/><stop offset=".386" stop-color="#ff2800"/><stop offset=".451" stop-color="#ff4300"/><stop offset=".472" stop-color="#ff3f00"/><stop offset=".515" stop-color="#ff1800"/><stop offset=".532" stop-color="#ff1100"/><stop offset=".549" stop-color="#ff1600"/><stop offset=".584" stop-color="#ff3100"/><stop offset=".605" stop-color="#ff3900"/><stop offset=".665" stop-color="#ff2f00"/><stop offset=".734" stop-color="#ff2f00"/><stop offset=".798" stop-color="#ff2100"/><stop offset=".927" stop-color="#ff1900"/><stop offset="1" stop-color="#ff1c00"/></linearGradient>
<linearGradient id="c71" x1="0" y1="0" x2="0" y2="1"><stop offset="0" stop-color="#ff0200"/><stop offset=".245" stop-color="#ff0a00"/><stop offset=".433" stop-color="#ff1f00"/><stop offset=".455" stop-color="#ff1f00"/><stop offset=".511" stop-color="#ff1000"/><stop offset=".532" stop-color="#ff2000"/><stop offset=".575" stop-color="#ff5f00"/><stop offset=".597" stop-color="#ff6c00"/><stop offset=".614" stop-color="#ff6800"/><stop offset=".661" stop-color="#ff4c00"/><stop offset=".738" stop-color="#ff3e00"/><stop offset=".803" stop-color="#ff2900"/><stop offset=".931" stop-color="#ff1d00"/><stop offset="1" stop-color="#ff2000"/></linearGradient>
<linearGradient id="c72" x1="0" y1="0" x2="0" y2="1"><stop offset="0" stop-color="#ff0100"/><stop offset=".485" stop-color="#ff0d00"/><stop offset=".502" stop-color="#ff1800"/><stop offset=".515" stop-color="#ff2900"/><stop offset=".562" stop-color="#ff8d00"/><stop offset=".575" stop-color="#ff9e00"/><stop offset=".588" stop-color="#ffa400"/><stop offset=".605" stop-color="#ff9c00"/><stop offset=".644" stop-color="#ff6e00"/><stop offset=".67" stop-color="#ff5900"/><stop offset=".79" stop-color="#ff2b00"/><stop offset=".927" stop-color="#ff1a00"/><stop offset="1" stop-color="#ff1c00"/></linearGradient>
<linearGradient id="c73" x1="0" y1="0" x2="0" y2="1"><stop offset="0" stop-color="#ff0000"/><stop offset=".365" stop-color="#ff0300"/><stop offset=".464" stop-color="#ff0e00"/><stop offset=".485" stop-color="#ff1e00"/><stop offset=".498" stop-color="#ff3000"/><stop offset=".511" stop-color="#ff4a00"/><stop offset=".549" stop-color="#ffb000"/><stop offset=".562" stop-color="#ffc800"/><stop offset=".575" stop-color="#ffd300"/><stop offset=".588" stop-color="#ffcf00"/><stop offset=".601" stop-color="#ffc000"/><stop offset=".631" stop-color="#ff8800"/><stop offset=".652" stop-color="#ff6700"/><stop offset=".67" stop-color="#ff5600"/><stop offset=".691" stop-color="#ff4a00"/><stop offset=".803" stop-color="#ff1e00"/><stop offset=".931" stop-color="#ff1100"/><stop offset="1" stop-color="#ff1300"/></linearGradient>
<linearGradient id="c74" x1="0" y1="0" x2="0" y2="1"><stop offset="0" stop-color="#ff0000"/><stop offset=".326" stop-color="#ff0200"/><stop offset=".438" stop-color="#ff1300"/><stop offset=".459" stop-color="#ff1e00"/><stop offset=".485" stop-color="#ff3c00"/><stop offset=".502" stop-color="#ff6000"/><stop offset=".541" stop-color="#ffca00"/><stop offset=".554" stop-color="#ffe300"/><stop offset=".567" stop-color="#ffed00"/><stop offset=".579" stop-color="#ffe800"/><stop offset=".588" stop-color="#ffdc00"/><stop offset=".627" stop-color="#ff8200"/><stop offset=".644" stop-color="#ff6000"/><stop offset=".661" stop-color="#ff4900"/><stop offset=".678" stop-color="#ff3b00"/><stop offset=".794" stop-color="#ff1100"/><stop offset="1" stop-color="#ff0900"/></linearGradient>
<linearGradient id="c75" x1="0" y1="0" x2="0" y2="1"><stop offset="0" stop-color="#ff0000"/><stop offset=".3" stop-color="#ff0400"/><stop offset=".348" stop-color="#ff0900"/><stop offset=".421" stop-color="#ff1d00"/><stop offset=".455" stop-color="#ff3000"/><stop offset=".476" stop-color="#ff4a00"/><stop offset=".489" stop-color="#ff6100"/><stop offset=".536" stop-color="#ffd400"/><stop offset=".545" stop-color="#ffe200"/><stop offset=".558" stop-color="#ffeb00"/><stop offset=".567" stop-color="#ffe800"/><stop offset=".579" stop-color="#ffd600"/><stop offset=".618" stop-color="#ff7200"/><stop offset=".635" stop-color="#ff4c00"/><stop offset=".657" stop-color="#ff2e00"/><stop offset=".67" stop-color="#ff2400"/><stop offset=".79" stop-color="#ff0700"/><stop offset="1" stop-color="#ff0400"/></linearGradient>
<linearGradient id="c76" x1="0" y1="0" x2="0" y2="1"><stop offset="0" stop-color="#ff0000"/><stop offset=".3" stop-color="#ff0900"/><stop offset=".352" stop-color="#ff1200"/><stop offset=".403" stop-color="#ff2400"/><stop offset=".438" stop-color="#ff3300"/><stop offset=".468" stop-color="#ff4d00"/><stop offset=".485" stop-color="#ff6700"/><stop offset=".524" stop-color="#ffb400"/><stop offset=".545" stop-color="#ffcc00"/><stop offset=".558" stop-color="#ffc800"/><stop offset=".571" stop-color="#ffb700"/><stop offset=".614" stop-color="#ff4c00"/><stop offset=".631" stop-color="#ff2c00"/><stop offset=".648" stop-color="#ff1900"/><stop offset=".661" stop-color="#ff1200"/><stop offset=".734" stop-color="#ff0800"/><stop offset="1" stop-color="#ff0800"/></linearGradient>
<linearGradient id="c77" x1="0" y1="0" x2="0" y2="1"><stop offset="0" stop-color="#ff0100"/><stop offset=".185" stop-color="#ff0400"/><stop offset=".343" stop-color="#ff1500"/><stop offset=".446" stop-color="#ff3c00"/><stop offset=".472" stop-color="#ff5100"/><stop offset=".524" stop-color="#ff9400"/><stop offset=".536" stop-color="#ff9b00"/><stop offset=".549" stop-color="#ff9700"/><stop offset=".562" stop-color="#ff8700"/><stop offset=".605" stop-color="#ff2f00"/><stop offset=".631" stop-color="#ff1300"/><stop offset=".721" stop-color="#ff1200"/><stop offset=".794" stop-color="#ff1a00"/><stop offset="1" stop-color="#ff1400"/></linearGradient>
<linearGradient id="c78" x1="0" y1="0" x2="0" y2="1"><stop offset="0" stop-color="#ff0200"/><stop offset=".202" stop-color="#ff0600"/><stop offset=".326" stop-color="#ff1200"/><stop offset=".451" stop-color="#ff3400"/><stop offset=".524" stop-color="#ff6300"/><stop offset=".536" stop-color="#ff6200"/><stop offset=".554" stop-color="#ff5400"/><stop offset=".584" stop-color="#ff2800"/><stop offset=".605" stop-color="#ff1500"/><stop offset=".618" stop-color="#ff1500"/><stop offset=".674" stop-color="#ff3400"/><stop offset=".734" stop-color="#ff2f00"/><stop offset=".79" stop-color="#ff3500"/><stop offset=".863" stop-color="#ff2800"/><stop offset=".936" stop-color="#ff2a00"/><stop offset="1" stop-color="#ff2300"/></linearGradient>
<linearGradient id="c79" x1="0" y1="0" x2="0" y2="1"><stop offset="0" stop-color="#ff0200"/><stop offset=".309" stop-color="#ff0d00"/><stop offset=".446" stop-color="#ff2100"/><stop offset=".511" stop-color="#ff3300"/><stop offset=".528" stop-color="#ff3200"/><stop offset=".584" stop-color="#ff1400"/><stop offset=".601" stop-color="#ff1d00"/><stop offset=".639" stop-color="#ff5700"/><stop offset=".665" stop-color="#ff6d00"/><stop offset=".678" stop-color="#ff6d00"/><stop offset=".725" stop-color="#ff5600"/><stop offset=".79" stop-color="#ff5000"/><stop offset=".863" stop-color="#ff3800"/><stop offset=".923" stop-color="#ff3800"/><stop offset="1" stop-color="#ff2e00"/></linearGradient>
<linearGradient id="c80" x1="0" y1="0" x2="0" y2="1"><stop offset="0" stop-color="#ff0100"/><stop offset=".206" stop-color="#ff0400"/><stop offset=".502" stop-color="#ff1400"/><stop offset=".558" stop-color="#ff1000"/><stop offset=".584" stop-color="#ff2600"/><stop offset=".597" stop-color="#ff3e00"/><stop offset=".635" stop-color="#ff9b00"/><stop offset=".648" stop-color="#ffad00"/><stop offset=".661" stop-color="#ffb300"/><stop offset=".674" stop-color="#ffad00"/><stop offset=".712" stop-color="#ff8100"/><stop offset=".734" stop-color="#ff7000"/><stop offset=".794" stop-color="#ff5e00"/><stop offset=".854" stop-color="#ff4000"/><stop offset="1" stop-color="#ff2f00"/></linearGradient>
<linearGradient id="c81" x1="0" y1="0" x2="0" y2="1"><stop offset="0" stop-color="#ff0000"/><stop offset=".472" stop-color="#ff0600"/><stop offset=".532" stop-color="#ff0d00"/><stop offset=".549" stop-color="#ff1700"/><stop offset=".571" stop-color="#ff3600"/><stop offset=".588" stop-color="#ff6100"/><stop offset=".614" stop-color="#ffb400"/><stop offset=".627" stop-color="#ffd700"/><stop offset=".639" stop-color="#ffed00"/><stop offset=".648" stop-color="#fff300"/><stop offset=".665" stop-color="#ffe900"/><stop offset=".717" stop-color="#ff8b00"/><stop offset=".747" stop-color="#ff6d00"/><stop offset=".863" stop-color="#ff3400"/><stop offset="1" stop-color="#ff2500"/></linearGradient>
<linearGradient id="c82" x1="0" y1="0" x2="0" y2="1"><stop offset="0" stop-color="#ff0000"/><stop offset=".391" stop-color="#ff0200"/><stop offset=".459" stop-color="#ff0700"/><stop offset=".511" stop-color="#ff1200"/><stop offset=".541" stop-color="#ff2900"/><stop offset=".562" stop-color="#ff4f00"/><stop offset=".579" stop-color="#ff8000"/><stop offset=".605" stop-color="#ffdb00"/><stop offset=".618" stop-color="#ffff01"/><stop offset=".631" stop-color="#ffff0c"/><stop offset=".644" stop-color="#ffff0f"/><stop offset=".665" stop-color="#fffe00"/><stop offset=".695" stop-color="#ffad00"/><stop offset=".712" stop-color="#ff8500"/><stop offset=".734" stop-color="#ff6400"/><stop offset=".755" stop-color="#ff5300"/><stop offset=".854" stop-color="#ff2300"/><stop offset="1" stop-color="#ff1500"/></linearGradient>
<linearGradient id="c83" x1="0" y1="0" x2="0" y2="1"><stop offset="0" stop-color="#ff0000"/><stop offset=".365" stop-color="#ff0300"/><stop offset=".416" stop-color="#ff0800"/><stop offset=".489" stop-color="#ff1c00"/><stop offset=".524" stop-color="#ff3200"/><stop offset=".545" stop-color="#ff5000"/><stop offset=".562" stop-color="#ff7800"/><stop offset=".597" stop-color="#ffe800"/><stop offset=".605" stop-color="#ffff01"/><stop offset=".618" stop-color="#ffff0f"/><stop offset=".631" stop-color="#ffff14"/><stop offset=".648" stop-color="#ffff0b"/><stop offset=".657" stop-color="#ffff00"/><stop offset=".691" stop-color="#ff9300"/><stop offset=".708" stop-color="#ff6700"/><stop offset=".725" stop-color="#ff4a00"/><stop offset=".751" stop-color="#ff3300"/><stop offset=".858" stop-color="#ff0f00"/><stop offset="1" stop-color="#ff0900"/></linearGradient>
<linearGradient id="c84" x1="0" y1="0" x2="0" y2="1"><stop offset="0" stop-color="#ff0000"/><stop offset=".365" stop-color="#ff0800"/><stop offset=".421" stop-color="#ff1200"/><stop offset=".476" stop-color="#ff2800"/><stop offset=".515" stop-color="#ff3f00"/><stop offset=".541" stop-color="#ff6100"/><stop offset=".558" stop-color="#ff8500"/><stop offset=".588" stop-color="#ffd800"/><stop offset=".605" stop-color="#ffff00"/><stop offset=".618" stop-color="#ffff06"/><stop offset=".635" stop-color="#ffff00"/><stop offset=".639" stop-color="#fff800"/><stop offset=".657" stop-color="#ffc900"/><stop offset=".682" stop-color="#ff7300"/><stop offset=".7" stop-color="#ff4700"/><stop offset=".712" stop-color="#ff3100"/><stop offset=".734" stop-color="#ff1d00"/><stop offset=".768" stop-color="#ff1200"/><stop offset=".828" stop-color="#ff0a00"/><stop offset="1" stop-color="#ff0900"/></linearGradient>
<linearGradient id="c85" x1="0" y1="0" x2="0" y2="1"><stop offset="0" stop-color="#ff0000"/><stop offset=".253" stop-color="#ff0400"/><stop offset=".408" stop-color="#ff1600"/><stop offset=".494" stop-color="#ff3b00"/><stop offset=".528" stop-color="#ff5500"/><stop offset=".549" stop-color="#ff7400"/><stop offset=".592" stop-color="#ffc700"/><stop offset=".609" stop-color="#ffd500"/><stop offset=".618" stop-color="#ffd300"/><stop offset=".631" stop-color="#ffc100"/><stop offset=".644" stop-color="#ffa300"/><stop offset=".678" stop-color="#ff4200"/><stop offset=".695" stop-color="#ff2400"/><stop offset=".708" stop-color="#ff1800"/><stop offset=".73" stop-color="#ff1200"/><stop offset=".794" stop-color="#ff1100"/><stop offset=".867" stop-color="#ff1a00"/><stop offset=".944" stop-color="#ff1600"/><stop offset="1" stop-color="#ff1b00"/></linearGradient>
<linearGradient id="c86" x1="0" y1="0" x2="0" y2="1"><stop offset="0" stop-color="#ff0100"/><stop offset=".275" stop-color="#ff0700"/><stop offset=".412" stop-color="#ff1a00"/><stop offset=".519" stop-color="#ff4500"/><stop offset=".541" stop-color="#ff5700"/><stop offset=".575" stop-color="#ff8100"/><stop offset=".597" stop-color="#ff9100"/><stop offset=".618" stop-color="#ff8600"/><stop offset=".665" stop-color="#ff2b00"/><stop offset=".687" stop-color="#ff1900"/><stop offset=".751" stop-color="#ff3200"/><stop offset=".794" stop-color="#ff3000"/><stop offset=".854" stop-color="#ff3c00"/><stop offset=".927" stop-color="#ff3200"/><stop offset="1" stop-color="#ff3900"/></linearGradient>
<linearGradient id="c87" x1="0" y1="0" x2="0" y2="1"><stop offset="0" stop-color="#ff0100"/><stop offset=".232" stop-color="#ff0500"/><stop offset=".386" stop-color="#ff1200"/><stop offset=".515" stop-color="#ff3000"/><stop offset=".584" stop-color="#ff5100"/><stop offset=".609" stop-color="#ff4900"/><stop offset=".648" stop-color="#ff1f00"/><stop offset=".661" stop-color="#ff1a00"/><stop offset=".678" stop-color="#ff2500"/><stop offset=".721" stop-color="#ff6700"/><stop offset=".742" stop-color="#ff7300"/><stop offset=".803" stop-color="#ff6100"/><stop offset=".863" stop-color="#ff6600"/><stop offset=".94" stop-color="#ff4f00"/><stop offset="1" stop-color="#ff5700"/></linearGradient>
<linearGradient id="c88" x1="0" y1="0" x2="0" y2="1"><stop offset="0" stop-color="#ff0100"/><stop offset=".382" stop-color="#ff0c00"/><stop offset=".575" stop-color="#ff2300"/><stop offset=".627" stop-color="#ff1600"/><stop offset=".639" stop-color="#ff1800"/><stop offset=".661" stop-color="#ff3300"/><stop offset=".708" stop-color="#ffb100"/><stop offset=".721" stop-color="#ffc500"/><stop offset=".734" stop-color="#ffcb00"/><stop offset=".747" stop-color="#ffc500"/><stop offset=".785" stop-color="#ff9b00"/><stop offset=".807" stop-color="#ff8d00"/><stop offset=".854" stop-color="#ff8700"/><stop offset=".94" stop-color="#ff6000"/><stop offset="1" stop-color="#ff6800"/></linearGradient>
<linearGradient id="c89" x1="0" y1="0" x2="0" y2="1"><stop offset="0" stop-color="#ff0000"/><stop offset=".275" stop-color="#ff0300"/><stop offset=".605" stop-color="#ff1000"/><stop offset=".627" stop-color="#ff1f00"/><stop offset=".644" stop-color="#ff3f00"/><stop offset=".661" stop-color="#ff7500"/><stop offset=".691" stop-color="#ffe900"/><stop offset=".7" stop-color="#ffff02"/><stop offset=".712" stop-color="#ffff0f"/><stop offset=".725" stop-color="#ffff12"/><stop offset=".751" stop-color="#ffff00"/><stop offset=".781" stop-color="#ffc200"/><stop offset=".803" stop-color="#ffa500"/><stop offset=".863" stop-color="#ff8900"/><stop offset=".918" stop-color="#ff6200"/><stop offset=".944" stop-color="#ff5b00"/><stop offset="1" stop-color="#ff6100"/></linearGradient>
<linearGradient id="c90" x1="0" y1="0" x2="0" y2="1"><stop offset="0" stop-color="#ff0000"/><stop offset=".494" stop-color="#ff0400"/><stop offset=".575" stop-color="#ff0f00"/><stop offset=".601" stop-color="#ff1e00"/><stop offset=".618" stop-color="#ff3600"/><stop offset=".627" stop-color="#ff4900"/><stop offset=".639" stop-color="#ff6f00"/><stop offset=".648" stop-color="#ff8f00"/><stop offset=".674" stop-color="#ffff01"/><stop offset=".695" stop-color="#ffff28"/><stop offset=".704" stop-color="#ffff31"/><stop offset=".717" stop-color="#ffff33"/><stop offset=".738" stop-color="#ffff20"/><stop offset=".76" stop-color="#fffb00"/><stop offset=".777" stop-color="#ffc900"/><stop offset=".794" stop-color="#ffa500"/><stop offset=".807" stop-color="#ff9300"/><stop offset=".828" stop-color="#ff8200"/><stop offset=".931" stop-color="#ff4400"/><stop offset="1" stop-color="#ff4700"/></linearGradient>
<linearGradient id="c91" x1="0" y1="0" x2="0" y2="1"><stop offset="0" stop-color="#ff0000"/><stop offset=".446" stop-color="#ff0300"/><stop offset=".549" stop-color="#ff1800"/><stop offset=".584" stop-color="#ff2b00"/><stop offset=".605" stop-color="#ff4700"/><stop offset=".618" stop-color="#ff6400"/><stop offset=".631" stop-color="#ff8b00"/><stop offset=".657" stop-color="#fff800"/><stop offset=".661" stop-color="#ffff06"/><stop offset=".687" stop-color="#ffff37"/><stop offset=".704" stop-color="#ffff41"/><stop offset=".721" stop-color="#ffff34"/><stop offset=".747" stop-color="#ffff06"/><stop offset=".751" stop-color="#fffa00"/><stop offset=".773" stop-color="#ffac00"/><stop offset=".785" stop-color="#ff8a00"/><stop offset=".803" stop-color="#ff6c00"/><stop offset=".824" stop-color="#ff5800"/><stop offset=".918" stop-color="#ff2700"/><stop offset=".94" stop-color="#ff2200"/><stop offset="1" stop-color="#ff2500"/></linearGradient>
<linearGradient id="c92" x1="0" y1="0" x2="0" y2="1"><stop offset="0" stop-color="#ff0000"/><stop offset=".343" stop-color="#ff0200"/><stop offset=".442" stop-color="#ff0800"/><stop offset=".502" stop-color="#ff1700"/><stop offset=".562" stop-color="#ff3500"/><stop offset=".592" stop-color="#ff5300"/><stop offset=".609" stop-color="#ff7300"/><stop offset=".622" stop-color="#ff9600"/><stop offset=".648" stop-color="#fff500"/><stop offset=".652" stop-color="#ffff04"/><stop offset=".674" stop-color="#ffff29"/><stop offset=".687" stop-color="#ffff35"/><stop offset=".695" stop-color="#ffff36"/><stop offset=".712" stop-color="#ffff28"/><stop offset=".734" stop-color="#fffe00"/><stop offset=".76" stop-color="#ff9300"/><stop offset=".777" stop-color="#ff6000"/><stop offset=".794" stop-color="#ff4100"/><stop offset=".815" stop-color="#ff2e00"/><stop offset=".914" stop-color="#ff1100"/><stop offset="1" stop-color="#ff1000"/></linearGradient>
<linearGradient id="c93" x1="0" y1="0" x2="0" y2="1"><stop offset="0" stop-color="#ff0000"/><stop offset=".326" stop-color="#ff0400"/><stop offset=".433" stop-color="#ff0e00"/><stop offset=".476" stop-color="#ff1800"/><stop offset=".549" stop-color="#ff3e00"/><stop offset=".588" stop-color="#ff5f00"/><stop offset=".614" stop-color="#ff8c00"/><stop offset=".652" stop-color="#fffb00"/><stop offset=".657" stop-color="#ffff04"/><stop offset=".674" stop-color="#ffff15"/><stop offset=".687" stop-color="#ffff17"/><stop offset=".708" stop-color="#ffff02"/><stop offset=".717" stop-color="#ffe500"/><stop offset=".742" stop-color="#ff7e00"/><stop offset=".76" stop-color="#ff4900"/><stop offset=".773" stop-color="#ff3000"/><stop offset=".79" stop-color="#ff1f00"/><stop offset=".85" stop-color="#ff1400"/><stop offset=".931" stop-color="#ff1b00"/><stop offset="1" stop-color="#ff1700"/></linearGradient>
<linearGradient id="c94" x1="0" y1="0" x2="0" y2="1"><stop offset="0" stop-color="#ff0000"/><stop offset=".322" stop-color="#ff0600"/><stop offset=".472" stop-color="#ff1c00"/><stop offset=".562" stop-color="#ff4900"/><stop offset=".588" stop-color="#ff5c00"/><stop offset=".618" stop-color="#ff8600"/><stop offset=".652" stop-color="#ffc700"/><stop offset=".67" stop-color="#ffd800"/><stop offset=".682" stop-color="#ffd300"/><stop offset=".691" stop-color="#ffc600"/><stop offset=".708" stop-color="#ff9a00"/><stop offset=".725" stop-color="#ff6300"/><stop offset=".738" stop-color="#ff4100"/><stop offset=".751" stop-color="#ff2a00"/><stop offset=".764" stop-color="#ff2100"/><stop offset=".82" stop-color="#ff3300"/><stop offset=".876" stop-color="#ff3700"/><stop offset=".927" stop-color="#ff4900"/><stop offset="1" stop-color="#ff3f00"/></linearGradient>
<linearGradient id="c95" x1="0" y1="0" x2="0" y2="1"><stop offset="0" stop-color="#ff0100"/><stop offset=".3" stop-color="#ff0600"/><stop offset=".451" stop-color="#ff1600"/><stop offset=".588" stop-color="#ff4700"/><stop offset=".644" stop-color="#ff7900"/><stop offset=".661" stop-color="#ff8100"/><stop offset=".678" stop-color="#ff7800"/><stop offset=".721" stop-color="#ff2f00"/><stop offset=".738" stop-color="#ff2500"/><stop offset=".755" stop-color="#ff3400"/><stop offset=".79" stop-color="#ff7100"/><stop offset=".811" stop-color="#ff8300"/><stop offset=".867" stop-color="#ff7b00"/><stop offset=".931" stop-color="#ff9000"/><stop offset="1" stop-color="#ff7b00"/></linearGradient>
<linearGradient id="c96" x1="0" y1="0" x2="0" y2="1"><stop offset="0" stop-color="#ff0100"/><stop offset=".292" stop-color="#ff0500"/><stop offset=".442" stop-color="#ff1000"/><stop offset=".584" stop-color="#ff2900"/><stop offset=".644" stop-color="#ff3c00"/><stop offset=".665" stop-color="#ff3900"/><stop offset=".695" stop-color="#ff2400"/><stop offset=".712" stop-color="#ff2200"/><stop offset=".725" stop-color="#ff2f00"/><stop offset=".734" stop-color="#ff4100"/><stop offset=".747" stop-color="#ff6800"/><stop offset=".768" stop-color="#ffb600"/><stop offset=".781" stop-color="#ffdc00"/><stop offset=".79" stop-color="#ffee00"/><stop offset=".803" stop-color="#fffb00"/><stop offset=".82" stop-color="#fff600"/><stop offset=".854" stop-color="#ffd300"/><stop offset=".867" stop-color="#ffcc00"/><stop offset=".927" stop-color="#ffd300"/><stop offset="1" stop-color="#ffb000"/></linearGradient>
<linearGradient id="c97" x1="0" y1="0" x2="0" y2="1"><stop offset="0" stop-color="#ff0000"/><stop offset=".326" stop-color="#ff0400"/><stop offset=".674" stop-color="#ff1600"/><stop offset=".695" stop-color="#ff2300"/><stop offset=".712" stop-color="#ff4600"/><stop offset=".725" stop-color="#ff7400"/><stop offset=".751" stop-color="#fff500"/><stop offset=".755" stop-color="#ffff06"/><stop offset=".768" stop-color="#ffff24"/><stop offset=".781" stop-color="#ffff38"/><stop offset=".798" stop-color="#ffff40"/><stop offset=".82" stop-color="#ffff31"/><stop offset=".854" stop-color="#ffff0b"/><stop offset=".871" stop-color="#ffff01"/><stop offset=".923" stop-color="#fff600"/><stop offset=".94" stop-color="#ffee00"/><stop offset=".979" stop-color="#ffcd00"/><stop offset="1" stop-color="#ffc500"/></linearGradient>
<linearGradient id="c98" x1="0" y1="0" x2="0" y2="1"><stop offset="0" stop-color="#ff0000"/><stop offset=".558" stop-color="#ff0600"/><stop offset=".644" stop-color="#ff1000"/><stop offset=".67" stop-color="#ff2000"/><stop offset=".678" stop-color="#ff2b00"/><stop offset=".691" stop-color="#ff4600"/><stop offset=".708" stop-color="#ff8300"/><stop offset=".717" stop-color="#ffad00"/><stop offset=".73" stop-color="#fff900"/><stop offset=".734" stop-color="#ffff0a"/><stop offset=".751" stop-color="#ffff40"/><stop offset=".764" stop-color="#ffff60"/><stop offset=".777" stop-color="#ffff73"/><stop offset=".79" stop-color="#ffff76"/><stop offset=".807" stop-color="#ffff65"/><stop offset=".85" stop-color="#ffff18"/><stop offset=".871" stop-color="#ffff02"/><stop offset=".888" stop-color="#fff200"/><stop offset=".931" stop-color="#ffe000"/><stop offset=".979" stop-color="#ffb500"/><stop offset="1" stop-color="#ffac00"/></linearGradient>
<linearGradient id="c99" x1="0" y1="0" x2="0" y2="1"><stop offset="0" stop-color="#ff0000"/><stop offset=".485" stop-color="#ff0200"/><stop offset=".549" stop-color="#ff0600"/><stop offset=".614" stop-color="#ff1700"/><stop offset=".648" stop-color="#ff2b00"/><stop offset=".661" stop-color="#ff3b00"/><stop offset=".674" stop-color="#ff5300"/><stop offset=".691" stop-color="#ff8800"/><stop offset=".7" stop-color="#ffae00"/><stop offset=".712" stop-color="#fff400"/><stop offset=".717" stop-color="#ffff08"/><stop offset=".747" stop-color="#ffff68"/><stop offset=".755" stop-color="#ffff7d"/><stop offset=".768" stop-color="#ffff90"/><stop offset=".777" stop-color="#ffff93"/><stop offset=".785" stop-color="#ffff8e"/><stop offset=".798" stop-color="#ffff7a"/><stop offset=".828" stop-color="#ffff2f"/><stop offset=".85" stop-color="#ffff01"/><stop offset=".867" stop-color="#ffd500"/><stop offset=".88" stop-color="#ffc000"/><stop offset=".94" stop-color="#ff9900"/><stop offset=".983" stop-color="#ff7600"/><stop offset="1" stop-color="#ff7100"/></linearGradient>
<linearGradient id="c100" x1="0" y1="0" x2="0" y2="1"><stop offset="0" stop-color="#ff0000"/><stop offset=".395" stop-color="#ff0100"/><stop offset=".502" stop-color="#ff0700"/><stop offset=".558" stop-color="#ff1300"/><stop offset=".627" stop-color="#ff3a00"/><stop offset=".652" stop-color="#ff5700"/><stop offset=".661" stop-color="#ff6600"/><stop offset=".678" stop-color="#ff9300"/><stop offset=".704" stop-color="#ffff03"/><stop offset=".742" stop-color="#ffff71"/><stop offset=".755" stop-color="#ffff87"/><stop offset=".764" stop-color="#ffff8d"/><stop offset=".777" stop-color="#ffff86"/><stop offset=".785" stop-color="#ffff78"/><stop offset=".828" stop-color="#ffff01"/><stop offset=".841" stop-color="#ffc600"/><stop offset=".85" stop-color="#ffa800"/><stop offset=".863" stop-color="#ff8600"/><stop offset=".871" stop-color="#ff7700"/><stop offset=".893" stop-color="#ff6300"/><stop offset=".97" stop-color="#ff3c00"/><stop offset="1" stop-color="#ff3400"/></linearGradient>
<linearGradient id="c101" x1="0" y1="0" x2="0" y2="1"><stop offset="0" stop-color="#ff0000"/><stop offset=".382" stop-color="#ff0300"/><stop offset=".532" stop-color="#ff1600"/><stop offset=".597" stop-color="#ff3c00"/><stop offset=".639" stop-color="#ff6200"/><stop offset=".657" stop-color="#ff7c00"/><stop offset=".67" stop-color="#ff9900"/><stop offset=".682" stop-color="#ffc000"/><stop offset=".7" stop-color="#ffff03"/><stop offset=".734" stop-color="#ffff52"/><stop offset=".747" stop-color="#ffff63"/><stop offset=".755" stop-color="#ffff66"/><stop offset=".768" stop-color="#ffff5e"/><stop offset=".777" stop-color="#ffff4f"/><stop offset=".803" stop-color="#ffff0a"/><stop offset=".807" stop-color="#fffa00"/><stop offset=".824" stop-color="#ffa000"/><stop offset=".837" stop-color="#ff6f00"/><stop offset=".85" stop-color="#ff4f00"/><stop offset=".867" stop-color="#ff3700"/><stop offset=".906" stop-color="#ff2800"/><stop offset="1" stop-color="#ff2200"/></linearGradient>
<linearGradient id="c102" x1="0" y1="0" x2="0" y2="1"><stop offset="0" stop-color="#ff0000"/><stop offset=".382" stop-color="#ff0600"/><stop offset=".528" stop-color="#ff1d00"/><stop offset=".588" stop-color="#ff4100"/><stop offset=".622" stop-color="#ff5b00"/><stop offset=".652" stop-color="#ff7a00"/><stop offset=".678" stop-color="#ffac00"/><stop offset=".704" stop-color="#fffa00"/><stop offset=".708" stop-color="#ffff05"/><stop offset=".73" stop-color="#ffff23"/><stop offset=".747" stop-color="#ffff2b"/><stop offset=".76" stop-color="#ffff22"/><stop offset=".777" stop-color="#ffff03"/><stop offset=".781" stop-color="#fff200"/><stop offset=".798" stop-color="#ff9f00"/><stop offset=".811" stop-color="#ff6a00"/><stop offset=".824" stop-color="#ff4700"/><stop offset=".837" stop-color="#ff3500"/><stop offset=".85" stop-color="#ff3100"/><stop offset=".893" stop-color="#ff3d00"/><stop offset=".923" stop-color="#ff3e00"/><stop offset="1" stop-color="#ff5900"/></linearGradient>
<linearGradient id="c103" x1="0" y1="0" x2="0" y2="1"><stop offset="0" stop-color="#ff0000"/><stop offset=".386" stop-color="#ff0800"/><stop offset=".528" stop-color="#ff1f00"/><stop offset=".648" stop-color="#ff6200"/><stop offset=".678" stop-color="#ff8500"/><stop offset=".712" stop-color="#ffc200"/><stop offset=".73" stop-color="#ffd400"/><stop offset=".742" stop-color="#ffd000"/><stop offset=".751" stop-color="#ffc400"/><stop offset=".76" stop-color="#ffb000"/><stop offset=".794" stop-color="#ff4c00"/><stop offset=".811" stop-color="#ff3a00"/><stop offset=".828" stop-color="#ff4b00"/><stop offset=".863" stop-color="#ff9700"/><stop offset=".88" stop-color="#ffab00"/><stop offset=".936" stop-color="#ffaf00"/><stop offset=".974" stop-color="#ffcf00"/><stop offset="1" stop-color="#ffdd00"/></linearGradient>
<linearGradient id="c104" x1="0" y1="0" x2="0" y2="1"><stop offset="0" stop-color="#ff0000"/><stop offset=".373" stop-color="#ff0700"/><stop offset=".494" stop-color="#ff1400"/><stop offset=".536" stop-color="#ff1c00"/><stop offset=".657" stop-color="#ff4300"/><stop offset=".721" stop-color="#ff6900"/><stop offset=".738" stop-color="#ff6200"/><stop offset=".768" stop-color="#ff3d00"/><stop offset=".781" stop-color="#ff3500"/><stop offset=".794" stop-color="#ff4100"/><stop offset=".803" stop-color="#ff5700"/><stop offset=".815" stop-color="#ff8a00"/><stop offset=".837" stop-color="#fffa00"/><stop offset=".841" stop-color="#ffff08"/><stop offset=".858" stop-color="#ffff2a"/><stop offset=".876" stop-color="#ffff39"/><stop offset=".931" stop-color="#ffff29"/><stop offset="1" stop-color="#ffff44"/></linearGradient>
<linearGradient id="c105" x1="0" y1="0" x2="0" y2="1"><stop offset="0" stop-color="#ff0000"/><stop offset=".395" stop-color="#ff0600"/><stop offset=".519" stop-color="#ff0f00"/><stop offset=".704" stop-color="#ff2700"/><stop offset=".747" stop-color="#ff2500"/><stop offset=".764" stop-color="#ff3200"/><stop offset=".777" stop-color="#ff5000"/><stop offset=".79" stop-color="#ff8800"/><stop offset=".798" stop-color="#ffbc00"/><stop offset=".807" stop-color="#fffb00"/><stop offset=".811" stop-color="#ffff0f"/><stop offset=".833" stop-color="#ffff67"/><stop offset=".841" stop-color="#ffff84"/><stop offset=".854" stop-color="#ffffa3"/><stop offset=".867" stop-color="#ffffb1"/><stop offset=".88" stop-color="#ffffae"/><stop offset=".918" stop-color="#ffff81"/><stop offset=".931" stop-color="#ffff78"/><stop offset=".953" stop-color="#ffff78"/><stop offset="1" stop-color="#ffff8d"/></linearGradient>
<linearGradient id="c106" x1="0" y1="0" x2="0" y2="1"><stop offset="0" stop-color="#ff0000"/><stop offset=".399" stop-color="#ff0300"/><stop offset=".648" stop-color="#ff0b00"/><stop offset=".704" stop-color="#ff1400"/><stop offset=".73" stop-color="#ff2200"/><stop offset=".742" stop-color="#ff3300"/><stop offset=".751" stop-color="#ff4600"/><stop offset=".76" stop-color="#ff6200"/><stop offset=".768" stop-color="#ff8a00"/><stop offset=".777" stop-color="#ffbe00"/><stop offset=".785" stop-color="#ffff00"/><stop offset=".798" stop-color="#ffff3c"/><stop offset=".824" stop-color="#ffffc2"/><stop offset=".837" stop-color="#fffff7"/><stop offset=".841" stop-color="#f9f9ff"/><stop offset=".85" stop-color="#e6e6ff"/><stop offset=".863" stop-color="#dfdfff"/><stop offset=".876" stop-color="#ececff"/><stop offset=".884" stop-color="#fdfdff"/><stop offset=".918" stop-color="#ffffb1"/><stop offset=".94" stop-color="#ffff99"/><stop offset=".961" stop-color="#ffff99"/><stop offset="1" stop-color="#ffffa8"/></linearGradient>
<linearGradient id="c107" x1="0" y1="0" x2="0" y2="1"><stop offset="0" stop-color="#ff0000"/><stop offset=".519" stop-color="#ff0200"/><stop offset=".631" stop-color="#ff0a00"/><stop offset=".695" stop-color="#ff2500"/><stop offset=".712" stop-color="#ff3500"/><stop offset=".725" stop-color="#ff4900"/><stop offset=".734" stop-color="#ff5d00"/><stop offset=".747" stop-color="#ff8900"/><stop offset=".755" stop-color="#ffb400"/><stop offset=".768" stop-color="#ffff05"/><stop offset=".781" stop-color="#ffff3f"/><stop offset=".815" stop-color="#fefeff"/><stop offset=".824" stop-color="#d5d5ff"/><stop offset=".833" stop-color="#b5b5ff"/><stop offset=".841" stop-color="#a1a1ff"/><stop offset=".85" stop-color="#9a9aff"/><stop offset=".858" stop-color="#a0a0ff"/><stop offset=".867" stop-color="#b1b1ff"/><stop offset=".888" stop-color="#f8f8ff"/><stop offset=".893" stop-color="#fffff5"/><stop offset=".914" stop-color="#ffffae"/><stop offset=".923" stop-color="#ffff99"/><stop offset=".936" stop-color="#ffff84"/><stop offset=".957" stop-color="#ffff79"/><stop offset="1" stop-color="#ffff84"/></linearGradient>
<linearGradient id="c108" x1="0" y1="0" x2="0" y2="1"><stop offset="0" stop-color="#ff0000"/><stop offset=".459" stop-color="#ff0100"/><stop offset=".605" stop-color="#ff0f00"/><stop offset=".665" stop-color="#ff3300"/><stop offset=".682" stop-color="#ff4300"/><stop offset=".708" stop-color="#ff6500"/><stop offset=".725" stop-color="#ff8c00"/><stop offset=".734" stop-color="#ffa900"/><stop offset=".742" stop-color="#ffcf00"/><stop offset=".751" stop-color="#ffff00"/><stop offset=".76" stop-color="#ffff1e"/><stop offset=".773" stop-color="#ffff55"/><stop offset=".803" stop-color="#fffff7"/><stop offset=".807" stop-color="#f0f0ff"/><stop offset=".815" stop-color="#c9c9ff"/><stop offset=".824" stop-color="#ababff"/><stop offset=".833" stop-color="#9999ff"/><stop offset=".841" stop-color="#9494ff"/><stop offset=".854" stop-color="#a7a7ff"/><stop offset=".867" stop-color="#d2d2ff"/><stop offset=".876" stop-color="#f8f8ff"/><stop offset=".88" stop-color="#fffff1"/><stop offset=".897" stop-color="#ffffa2"/><stop offset=".91" stop-color="#ffff71"/><stop offset=".923" stop-color="#ffff4d"/><stop offset=".936" stop-color="#ffff36"/><stop offset=".948" stop-color="#ffff2b"/><stop offset=".961" stop-color="#ffff28"/><stop offset="1" stop-color="#ffff2f"/></linearGradient>
<linearGradient id="c109" x1="0" y1="0" x2="0" y2="1"><stop offset="0" stop-color="#ff0000"/><stop offset=".446" stop-color="#ff0300"/><stop offset=".584" stop-color="#ff1600"/><stop offset=".627" stop-color="#ff2e00"/><stop offset=".652" stop-color="#ff4700"/><stop offset=".691" stop-color="#ff7800"/><stop offset=".717" stop-color="#ffab00"/><stop offset=".73" stop-color="#ffd300"/><stop offset=".738" stop-color="#fff800"/><stop offset=".747" stop-color="#ffff12"/><stop offset=".76" stop-color="#ffff3d"/><stop offset=".803" stop-color="#fffff8"/><stop offset=".807" stop-color="#f6f6ff"/><stop offset=".815" stop-color="#ddddff"/><stop offset=".828" stop-color="#cdcdff"/><stop offset=".841" stop-color="#dbdbff"/><stop offset=".854" stop-color="#fffffa"/><stop offset=".893" stop-color="#ffff45"/><stop offset=".906" stop-color="#ffff16"/><stop offset=".914" stop-color="#fffb00"/><stop offset=".927" stop-color="#ffcb00"/><stop offset=".944" stop-color="#ffaa00"/><stop offset=".966" stop-color="#ffa100"/><stop offset="1" stop-color="#ffa700"/></linearGradient>
<linearGradient id="c110" x1="0" y1="0" x2="0" y2="1"><stop offset="0" stop-color="#ff0000"/><stop offset=".433" stop-color="#ff0600"/><stop offset=".485" stop-color="#ff0b00"/><stop offset=".575" stop-color="#ff1f00"/><stop offset=".614" stop-color="#ff3400"/><stop offset=".635" stop-color="#ff4800"/><stop offset=".682" stop-color="#ff8200"/><stop offset=".712" stop-color="#ffb400"/><stop offset=".725" stop-color="#ffd500"/><stop offset=".738" stop-color="#ffff01"/><stop offset=".76" stop-color="#ffff37"/><stop offset=".794" stop-color="#ffffa4"/><stop offset=".807" stop-color="#ffffc0"/><stop offset=".815" stop-color="#ffffc8"/><stop offset=".828" stop-color="#ffffc0"/><stop offset=".841" stop-color="#ffffa1"/><stop offset=".88" stop-color="#ffff04"/><stop offset=".893" stop-color="#ffb900"/><stop offset=".901" stop-color="#ff9500"/><stop offset=".91" stop-color="#ff7e00"/><stop offset=".918" stop-color="#ff7000"/><stop offset=".936" stop-color="#ff6700"/><stop offset="1" stop-color="#ff6300"/></linearGradient>
<linearGradient id="c111" x1="0" y1="0" x2="0" y2="1"><stop offset="0" stop-color="#ff0000"/><stop offset=".438" stop-color="#ff0900"/><stop offset=".571" stop-color="#ff2300"/><stop offset=".618" stop-color="#ff3c00"/><stop offset=".704" stop-color="#ff9400"/><stop offset=".73" stop-color="#ffc000"/><stop offset=".751" stop-color="#fffd00"/><stop offset=".785" stop-color="#ffff3e"/><stop offset=".803" stop-color="#ffff50"/><stop offset=".82" stop-color="#ffff47"/><stop offset=".833" stop-color="#ffff2e"/><stop offset=".845" stop-color="#ffff0a"/><stop offset=".85" stop-color="#fffa00"/><stop offset=".863" stop-color="#ffb500"/><stop offset=".871" stop-color="#ff9400"/><stop offset=".88" stop-color="#ff8100"/><stop offset=".884" stop-color="#ff7e00"/><stop offset=".897" stop-color="#ff8b00"/><stop offset=".927" stop-color="#ffe500"/><stop offset=".94" stop-color="#ffff00"/><stop offset=".957" stop-color="#ffff07"/><stop offset="1" stop-color="#fffe00"/></linearGradient>
<linearGradient id="c112" x1="0" y1="0" x2="0" y2="1"><stop offset="0" stop-color="#ff0000"/><stop offset=".313" stop-color="#ff0300"/><stop offset=".446" stop-color="#ff0a00"/><stop offset=".579" stop-color="#ff2200"/><stop offset=".614" stop-color="#ff3000"/><stop offset=".717" stop-color="#ff7000"/><stop offset=".734" stop-color="#ff8100"/><stop offset=".768" stop-color="#ffb700"/><stop offset=".79" stop-color="#ffd000"/><stop offset=".807" stop-color="#ffc900"/><stop offset=".82" stop-color="#ffb200"/><stop offset=".841" stop-color="#ff8000"/><stop offset=".854" stop-color="#ff7900"/><stop offset=".858" stop-color="#ff7e00"/><stop offset=".867" stop-color="#ff9800"/><stop offset=".871" stop-color="#ffac00"/><stop offset=".88" stop-color="#ffe200"/><stop offset=".884" stop-color="#ffff02"/><stop offset=".918" stop-color="#ffff97"/><stop offset=".927" stop-color="#ffffb0"/><stop offset=".936" stop-color="#ffffc0"/><stop offset=".957" stop-color="#ffffce"/><stop offset="1" stop-color="#ffffc1"/></linearGradient>
<linearGradient id="c113" x1="0" y1="0" x2="0" y2="1"><stop offset="0" stop-color="#ff0000"/><stop offset=".446" stop-color="#ff0800"/><stop offset=".579" stop-color="#ff1700"/><stop offset=".674" stop-color="#ff3200"/><stop offset=".725" stop-color="#ff3800"/><stop offset=".777" stop-color="#ff4f00"/><stop offset=".811" stop-color="#ff5200"/><stop offset=".824" stop-color="#ff5c00"/><stop offset=".833" stop-color="#ff7100"/><stop offset=".841" stop-color="#ff9500"/><stop offset=".85" stop-color="#ffcf00"/><stop offset=".854" stop-color="#fff500"/><stop offset=".858" stop-color="#ffff11"/><stop offset=".863" stop-color="#ffff29"/><stop offset=".893" stop-color="#fffff0"/><stop offset=".897" stop-color="#f4f4ff"/><stop offset=".914" stop-color="#9d9dff"/><stop offset=".923" stop-color="#8080ff"/><stop offset=".931" stop-color="#7070ff"/><stop offset=".944" stop-color="#6565ff"/><stop offset=".957" stop-color="#6363ff"/><stop offset="1" stop-color="#6d6dff"/></linearGradient>
<linearGradient id="c114" x1="0" y1="0" x2="0" y2="1"><stop offset="0" stop-color="#ff0000"/><stop offset=".464" stop-color="#ff0500"/><stop offset=".734" stop-color="#ff1a00"/><stop offset=".773" stop-color="#ff2e00"/><stop offset=".785" stop-color="#ff3b00"/><stop offset=".798" stop-color="#ff5200"/><stop offset=".807" stop-color="#ff6c00"/><stop offset=".815" stop-color="#ff9200"/><stop offset=".824" stop-color="#ffc900"/><stop offset=".828" stop-color="#ffed00"/><stop offset=".833" stop-color="#ffff0c"/><stop offset=".845" stop-color="#ffff5d"/><stop offset=".863" stop-color="#ffffe6"/><stop offset=".867" stop-color="#f5f5ff"/><stop offset=".88" stop-color="#9797ff"/><stop offset=".888" stop-color="#6a6aff"/><stop offset=".901" stop-color="#3e3eff"/><stop offset=".914" stop-color="#2222ff"/><stop offset=".927" stop-color="#1212ff"/><stop offset=".936" stop-color="#0e0eff"/><stop offset="1" stop-color="#1010ff"/></linearGradient>
<linearGradient id="c115" x1="0" y1="0" x2="0" y2="1"><stop offset="0" stop-color="#ff0000"/><stop offset=".584" stop-color="#ff0400"/><stop offset=".687" stop-color="#ff1100"/><stop offset=".717" stop-color="#ff2200"/><stop offset=".734" stop-color="#ff3200"/><stop offset=".764" stop-color="#ff5b00"/><stop offset=".777" stop-color="#ff7900"/><stop offset=".785" stop-color="#ff9500"/><stop offset=".794" stop-color="#ffbb00"/><stop offset=".803" stop-color="#ffef00"/><stop offset=".807" stop-color="#ffff08"/><stop offset=".815" stop-color="#ffff30"/><stop offset=".824" stop-color="#ffff65"/><stop offset=".841" stop-color="#ffffef"/><stop offset=".845" stop-color="#e9e9ff"/><stop offset=".858" stop-color="#8585ff"/><stop offset=".867" stop-color="#5353ff"/><stop offset=".876" stop-color="#3030ff"/><stop offset=".888" stop-color="#1313ff"/><stop offset=".897" stop-color="#0a0aff"/><stop offset=".923" stop-color="#0101ff"/><stop offset="1" stop-color="#0101ff"/></linearGradient>
<linearGradient id="c116" x1="0" y1="0" x2="0" y2="1"><stop offset="0" stop-color="#ff0000"/><stop offset=".524" stop-color="#ff0200"/><stop offset=".644" stop-color="#ff1200"/><stop offset=".67" stop-color="#ff1e00"/><stop offset=".687" stop-color="#ff2d00"/><stop offset=".717" stop-color="#ff5700"/><stop offset=".738" stop-color="#ff8300"/><stop offset=".751" stop-color="#ffa400"/><stop offset=".764" stop-color="#ffcd00"/><stop offset=".777" stop-color="#ffff02"/><stop offset=".79" stop-color="#ffff29"/><stop offset=".803" stop-color="#ffff63"/><stop offset=".811" stop-color="#ffff97"/><stop offset=".824" stop-color="#fffffb"/><stop offset=".841" stop-color="#7575ff"/><stop offset=".85" stop-color="#4242ff"/><stop offset=".858" stop-color="#2222ff"/><stop offset=".867" stop-color="#0f0fff"/><stop offset=".876" stop-color="#0606ff"/><stop offset=".897" stop-color="#0000ff"/><stop offset=".944" stop-color="#0101ff"/><stop offset="1" stop-color="#0e0eff"/></linearGradient>
<linearGradient id="c117" x1="0" y1="0" x2="0" y2="1"><stop offset="0" stop-color="#ff0000"/><stop offset=".489" stop-color="#ff0400"/><stop offset=".545" stop-color="#ff0900"/><stop offset=".609" stop-color="#ff1a00"/><stop offset=".657" stop-color="#ff3300"/><stop offset=".687" stop-color="#ff5900"/><stop offset=".717" stop-color="#ff9d00"/><stop offset=".747" stop-color="#fffe00"/><stop offset=".768" stop-color="#ffff2f"/><stop offset=".785" stop-color="#ffff67"/><stop offset=".798" stop-color="#ffffa5"/><stop offset=".811" stop-color="#fffffb"/><stop offset=".828" stop-color="#7676ff"/><stop offset=".837" stop-color="#3d3dff"/><stop offset=".845" stop-color="#1a1aff"/><stop offset=".858" stop-color="#0505ff"/><stop offset=".901" stop-color="#0101ff"/><stop offset=".94" stop-color="#1111ff"/><stop offset=".953" stop-color="#2222ff"/><stop offset=".983" stop-color="#5f5fff"/><stop offset="1" stop-color="#6c6cff"/></linearGradient>
<linearGradient id="c118" x1="0" y1="0" x2="0" y2="1"><stop offset="0" stop-color="#ff0000"/><stop offset=".399" stop-color="#ff0300"/><stop offset=".549" stop-color="#ff1300"/><stop offset=".622" stop-color="#ff3300"/><stop offset=".657" stop-color="#ff4f00"/><stop offset=".687" stop-color="#ff8000"/><stop offset=".708" stop-color="#ffb700"/><stop offset=".73" stop-color="#fffc00"/><stop offset=".734" stop-color="#ffff06"/><stop offset=".76" stop-color="#ffff3b"/><stop offset=".777" stop-color="#ffff6b"/><stop offset=".794" stop-color="#ffffb0"/><stop offset=".807" stop-color="#fffff9"/><stop offset=".811" stop-color="#e7e7ff"/><stop offset=".828" stop-color="#6b6bff"/><stop offset=".837" stop-color="#3b3bff"/><stop offset=".85" stop-color="#1717ff"/><stop offset=".867" stop-color="#0d0dff"/><stop offset=".897" stop-color="#1313ff"/><stop offset=".91" stop-color="#2222ff"/><stop offset=".927" stop-color="#4e4eff"/><stop offset=".944" stop-color="#8585ff"/><stop offset=".97" stop-color="#f9f9ff"/><stop offset=".974" stop-color="#fffff3"/><stop offset=".987" stop-color="#ffffd0"/><stop offset="1" stop-color="#ffffc2"/></linearGradient>
<linearGradient id="c119" x1="0" y1="0" x2="0" y2="1"><stop offset="0" stop-color="#ff0000"/><stop offset=".395" stop-color="#ff0500"/><stop offset=".502" stop-color="#ff0f00"/><stop offset=".549" stop-color="#ff1a00"/><stop offset=".622" stop-color="#ff3e00"/><stop offset=".661" stop-color="#ff6000"/><stop offset=".674" stop-color="#ff7300"/><stop offset=".695" stop-color="#ff9e00"/><stop offset=".73" stop-color="#fffd00"/><stop offset=".76" stop-color="#ffff31"/><stop offset=".781" stop-color="#ffff61"/><stop offset=".798" stop-color="#ffff9b"/><stop offset=".815" stop-color="#ffffec"/><stop offset=".82" stop-color="#f9f9ff"/><stop offset=".837" stop-color="#9e9eff"/><stop offset=".845" stop-color="#7e7eff"/><stop offset=".854" stop-color="#6c6cff"/><stop offset=".867" stop-color="#6464ff"/><stop offset=".888" stop-color="#7474ff"/><stop offset=".901" stop-color="#8d8dff"/><stop offset=".914" stop-color="#bebeff"/><stop offset=".927" stop-color="#fffffa"/><stop offset=".944" stop-color="#ffffaa"/><stop offset=".961" stop-color="#ffff73"/><stop offset=".97" stop-color="#ffff63"/><stop offset=".979" stop-color="#ffff5c"/><stop offset="1" stop-color="#ffff5e"/></linearGradient>
<linearGradient id="c120" x1="0" y1="0" x2="0" y2="1"><stop offset="0" stop-color="#ff0000"/><stop offset=".378" stop-color="#ff0500"/><stop offset=".545" stop-color="#ff1900"/><stop offset=".635" stop-color="#ff4000"/><stop offset=".67" stop-color="#ff5c00"/><stop offset=".7" stop-color="#ff8800"/><stop offset=".76" stop-color="#fffc00"/><stop offset=".777" stop-color="#ffff12"/><stop offset=".798" stop-color="#ffff36"/><stop offset=".815" stop-color="#ffff61"/><stop offset=".837" stop-color="#ffffa3"/><stop offset=".854" stop-color="#ffffc6"/><stop offset=".863" stop-color="#ffffcb"/><stop offset=".876" stop-color="#ffffc4"/><stop offset=".893" stop-color="#ffffaa"/><stop offset=".918" stop-color="#ffff74"/><stop offset=".931" stop-color="#ffff6d"/><stop offset=".953" stop-color="#ffff8a"/><stop offset=".966" stop-color="#ffffa8"/><stop offset=".987" stop-color="#ffffe8"/><stop offset="1" stop-color="#fffffc"/></linearGradient>
<linearGradient id="c121" x1="0" y1="0" x2="0" y2="1"><stop offset="0" stop-color="#ff0000"/><stop offset=".412" stop-color="#ff0600"/><stop offset=".541" stop-color="#ff1200"/><stop offset=".639" stop-color="#ff2b00"/><stop offset=".687" stop-color="#ff4400"/><stop offset=".781" stop-color="#ff9200"/><stop offset=".803" stop-color="#ffb200"/><stop offset=".833" stop-color="#fffc00"/><stop offset=".88" stop-color="#ffff35"/><stop offset=".893" stop-color="#ffff50"/><stop offset=".914" stop-color="#ffff92"/><stop offset=".923" stop-color="#ffffba"/><stop offset=".931" stop-color="#ffffef"/><stop offset=".936" stop-color="#f2f2ff"/><stop offset=".944" stop-color="#c0c0ff"/><stop offset=".957" stop-color="#9393ff"/><stop offset=".983" stop-color="#5c5cff"/><stop offset="1" stop-color="#4949ff"/></linearGradient>
<linearGradient id="c122" x1="0" y1="0" x2="0" y2="1"><stop offset="0" stop-color="#ff0000"/><stop offset=".506" stop-color="#ff0700"/><stop offset=".674" stop-color="#ff1b00"/><stop offset=".725" stop-color="#ff3200"/><stop offset=".764" stop-color="#ff5500"/><stop offset=".781" stop-color="#ff7300"/><stop offset=".794" stop-color="#ff9200"/><stop offset=".828" stop-color="#ffff03"/><stop offset=".841" stop-color="#ffff24"/><stop offset=".871" stop-color="#ffff86"/><stop offset=".88" stop-color="#ffffa9"/><stop offset=".893" stop-color="#fffff3"/><stop offset=".897" stop-color="#eeeeff"/><stop offset=".906" stop-color="#bcbcff"/><stop offset=".914" stop-color="#9696ff"/><stop offset=".936" stop-color="#4444ff"/><stop offset=".944" stop-color="#2929ff"/><stop offset=".961" stop-color="#1313ff"/><stop offset="1" stop-color="#0808ff"/></linearGradient>
<linearGradient id="c123" x1="0" y1="0" x2="0" y2="1"><stop offset="0" stop-color="#ff0000"/><stop offset=".511" stop-color="#ff0300"/><stop offset=".635" stop-color="#ff1200"/><stop offset=".691" stop-color="#ff3200"/><stop offset=".721" stop-color="#ff5a00"/><stop offset=".742" stop-color="#ff9000"/><stop offset=".755" stop-color="#ffc100"/><stop offset=".768" stop-color="#ffff00"/><stop offset=".824" stop-color="#ffffb4"/><stop offset=".841" stop-color="#fffff6"/><stop offset=".845" stop-color="#f3f3ff"/><stop offset=".863" stop-color="#a8a8ff"/><stop offset=".884" stop-color="#6c6cff"/><stop offset=".906" stop-color="#2727ff"/><stop offset=".914" stop-color="#1818ff"/><stop offset=".944" stop-color="#0303ff"/><stop offset="1" stop-color="#0000ff"/></linearGradient>
<linearGradient id="c124" x1="0" y1="0" x2="0" y2="1"><stop offset="0" stop-color="#ff0000"/><stop offset=".451" stop-color="#ff0200"/><stop offset=".532" stop-color="#ff0900"/><stop offset=".588" stop-color="#ff1600"/><stop offset=".631" stop-color="#ff3400"/><stop offset=".661" stop-color="#ff5d00"/><stop offset=".687" stop-color="#ff9300"/><stop offset=".704" stop-color="#ffc800"/><stop offset=".717" stop-color="#fffe00"/><stop offset=".721" stop-color="#ffff0a"/><stop offset=".742" stop-color="#ffff4f"/><stop offset=".781" stop-color="#fffff9"/><stop offset=".785" stop-color="#f1f1ff"/><stop offset=".798" stop-color="#b5b5ff"/><stop offset=".811" stop-color="#8888ff"/><stop offset=".854" stop-color="#2d2dff"/><stop offset=".867" stop-color="#1919ff"/><stop offset=".914" stop-color="#0101ff"/><stop offset="1" stop-color="#0000ff"/></linearGradient>
<linearGradient id="c125" x1="0" y1="0" x2="0" y2="1"><stop offset="0" stop-color="#ff0100"/><stop offset=".408" stop-color="#ff0500"/><stop offset=".468" stop-color="#ff0a00"/><stop offset=".528" stop-color="#ff1a00"/><stop offset=".579" stop-color="#ff3600"/><stop offset=".609" stop-color="#ff5a00"/><stop offset=".627" stop-color="#ff7b00"/><stop offset=".639" stop-color="#ff9b00"/><stop offset=".665" stop-color="#fff300"/><stop offset=".67" stop-color="#ffff02"/><stop offset=".682" stop-color="#ffff21"/><stop offset=".7" stop-color="#ffff55"/><stop offset=".712" stop-color="#ffff86"/><stop offset=".734" stop-color="#ffffea"/><stop offset=".738" stop-color="#fefeff"/><stop offset=".76" stop-color="#9595ff"/><stop offset=".773" stop-color="#6666ff"/><stop offset=".798" stop-color="#2929ff"/><stop offset=".811" stop-color="#1616ff"/><stop offset=".867" stop-color="#0101ff"/><stop offset="1" stop-color="#0000ff"/></linearGradient>
<linearGradient id="c126" x1="0" y1="0" x2="0" y2="1"><stop offset="0" stop-color="#ff0200"/><stop offset=".335" stop-color="#ff0600"/><stop offset=".433" stop-color="#ff1000"/><stop offset=".476" stop-color="#ff1b00"/><stop offset=".536" stop-color="#ff3e00"/><stop offset=".575" stop-color="#ff6800"/><stop offset=".588" stop-color="#ff7d00"/><stop offset=".605" stop-color="#ffa400"/><stop offset=".618" stop-color="#ffcb00"/><stop offset=".631" stop-color="#fffc00"/><stop offset=".648" stop-color="#ffff28"/><stop offset=".665" stop-color="#ffff5d"/><stop offset=".678" stop-color="#ffff8e"/><stop offset=".7" stop-color="#fffff3"/><stop offset=".704" stop-color="#f4f4ff"/><stop offset=".725" stop-color="#8a8aff"/><stop offset=".738" stop-color="#5757ff"/><stop offset=".76" stop-color="#2121ff"/><stop offset=".777" stop-color="#0c0cff"/><stop offset=".82" stop-color="#0000ff"/><stop offset="1" stop-color="#0000ff"/></linearGradient>
<linearGradient id="c127" x1="0" y1="0" x2="0" y2="1"><stop offset="0" stop-color="#ff0300"/><stop offset=".305" stop-color="#ff0900"/><stop offset=".395" stop-color="#ff1400"/><stop offset=".459" stop-color="#ff2500"/><stop offset=".498" stop-color="#ff3d00"/><stop offset=".545" stop-color="#ff7000"/><stop offset=".579" stop-color="#ffb000"/><stop offset=".605" stop-color="#ffff01"/><stop offset=".622" stop-color="#ffff29"/><stop offset=".644" stop-color="#ffff6d"/><stop offset=".657" stop-color="#ffffa2"/><stop offset=".674" stop-color="#fffff8"/><stop offset=".678" stop-color="#ededff"/><stop offset=".695" stop-color="#8e8eff"/><stop offset=".708" stop-color="#5353ff"/><stop offset=".725" stop-color="#2222ff"/><stop offset=".742" stop-color="#0b0bff"/><stop offset=".777" stop-color="#0000ff"/><stop offset="1" stop-color="#0000ff"/></linearGradient>
<linearGradient id="c128" x1="0" y1="0" x2="0" y2="1"><stop offset="0" stop-color="#ff0500"/><stop offset=".313" stop-color="#ff0e00"/><stop offset=".442" stop-color="#ff2b00"/><stop offset=".481" stop-color="#ff4300"/><stop offset=".502" stop-color="#ff5800"/><stop offset=".528" stop-color="#ff7a00"/><stop offset=".558" stop-color="#ffb100"/><stop offset=".584" stop-color="#fff800"/><stop offset=".588" stop-color="#ffff04"/><stop offset=".605" stop-color="#ffff29"/><stop offset=".622" stop-color="#ffff5c"/><stop offset=".639" stop-color="#ffff9f"/><stop offset=".657" stop-color="#fffff5"/><stop offset=".661" stop-color="#efefff"/><stop offset=".682" stop-color="#6b6bff"/><stop offset=".691" stop-color="#4141ff"/><stop offset=".704" stop-color="#1919ff"/><stop offset=".717" stop-color="#0808ff"/><stop offset=".742" stop-color="#0000ff"/><stop offset="1" stop-color="#0000ff"/></linearGradient>
<linearGradient id="c129" x1="0" y1="0" x2="0" y2="1"><stop offset="0" stop-color="#ff0500"/><stop offset=".309" stop-color="#ff1000"/><stop offset=".425" stop-color="#ff2b00"/><stop offset=".472" stop-color="#ff4600"/><stop offset=".502" stop-color="#ff6600"/><stop offset=".524" stop-color="#ff8500"/><stop offset=".545" stop-color="#ffad00"/><stop offset=".562" stop-color="#ffd600"/><stop offset=".575" stop-color="#fffd00"/><stop offset=".597" stop-color="#ffff2a"/><stop offset=".618" stop-color="#ffff6a"/><stop offset=".635" stop-color="#ffffb0"/><stop offset=".648" stop-color="#fffff2"/><stop offset=".652" stop-color="#f2f2ff"/><stop offset=".674" stop-color="#6767ff"/><stop offset=".682" stop-color="#3636ff"/><stop offset=".687" stop-color="#2424ff"/><stop offset=".695" stop-color="#0d0dff"/><stop offset=".704" stop-color="#0404ff"/><stop offset="1" stop-color="#0000ff"/></linearGradient>
<linearGradient id="c130" x1="0" y1="0" x2="0" y2="1"><stop offset="0" stop-color="#ff0500"/><stop offset=".309" stop-color="#ff1000"/><stop offset=".425" stop-color="#ff2b00"/><stop offset=".472" stop-color="#ff4600"/><stop offset=".502" stop-color="#ff6600"/><stop offset=".524" stop-color="#ff8500"/><stop offset=".545" stop-color="#ffad00"/><stop offset=".562" stop-color="#ffd600"/><stop offset=".575" stop-color="#fffd00"/><stop offset=".597" stop-color="#ffff2a"/><stop offset=".618" stop-color="#ffff6a"/><stop offset=".635" stop-color="#ffffb0"/><stop offset=".648" stop-color="#fffff2"/><stop offset=".652" stop-color="#f2f2ff"/><stop offset=".674" stop-color="#6767ff"/><stop offset=".682" stop-color="#3636ff"/><stop offset=".687" stop-color="#2424ff"/><stop offset=".695" stop-color="#0d0dff"/><stop offset=".704" stop-color="#0404ff"/><stop offset="1" stop-color="#0000ff"/></linearGradient>
<linearGradient id="c131" x1="0" y1="0" x2="0" y2="1"><stop offset="0" stop-color="#ff0500"/><stop offset=".313" stop-color="#ff0e00"/><stop offset=".442" stop-color="#ff2b00"/><stop offset=".481" stop-color="#ff4300"/><stop offset=".502" stop-color="#ff5800"/><stop offset=".528" stop-color="#ff7a00"/><stop offset=".558" stop-color="#ffb100"/><stop offset=".584" stop-color="#fff800"/><stop offset=".588" stop-color="#ffff04"/><stop offset=".605" stop-color="#ffff29"/><stop offset=".622" stop-color="#ffff5c"/><stop offset=".639" stop-color="#ffff9f"/><stop offset=".657" stop-color="#fffff5"/><stop offset=".661" stop-color="#efefff"/><stop offset=".682" stop-color="#6b6bff"/><stop offset=".691" stop-color="#4141ff"/><stop offset=".704" stop-color="#1919ff"/><stop offset=".717" stop-color="#0808ff"/><stop offset=".742" stop-color="#0000ff"/><stop offset="1" stop-color="#0000ff"/></linearGradient>
<linearGradient id="c132" x1="0" y1="0" x2="0" y2="1"><stop offset="0" stop-color="#ff0300"/><stop offset=".305" stop-color="#ff0900"/><stop offset=".395" stop-color="#ff1400"/><stop offset=".459" stop-color="#ff2500"/><stop offset=".498" stop-color="#ff3d00"/><stop offset=".545" stop-color="#ff7000"/><stop offset=".579" stop-color="#ffb000"/><stop offset=".605" stop-color="#ffff01"/><stop offset=".622" stop-color="#ffff29"/><stop offset=".644" stop-color="#ffff6d"/><stop offset=".657" stop-color="#ffffa2"/><stop offset=".674" stop-color="#fffff8"/><stop offset=".678" stop-color="#ededff"/><stop offset=".695" stop-color="#8e8eff"/><stop offset=".708" stop-color="#5353ff"/><stop offset=".725" stop-color="#2222ff"/><stop offset=".742" stop-color="#0b0bff"/><stop offset=".777" stop-color="#0000ff"/><stop offset="1" stop-color="#0000ff"/></linearGradient>
<linearGradient id="c133" x1="0" y1="0" x2="0" y2="1"><stop offset="0" stop-color="#ff0200"/><stop offset=".335" stop-color="#ff0600"/><stop offset=".433" stop-color="#ff1000"/><stop offset=".476" stop-color="#ff1b00"/><stop offset=".536" stop-color="#ff3e00"/><stop offset=".575" stop-color="#ff6800"/><stop offset=".588" stop-color="#ff7d00"/><stop offset=".605" stop-color="#ffa400"/><stop offset=".618" stop-color="#ffcb00"/><stop offset=".631" stop-color="#fffc00"/><stop offset=".648" stop-color="#ffff28"/><stop offset=".665" stop-color="#ffff5d"/><stop offset=".678" stop-color="#ffff8e"/><stop offset=".7" stop-color="#fffff3"/><stop offset=".704" stop-color="#f4f4ff"/><stop offset=".725" stop-color="#8a8aff"/><stop offset=".738" stop-color="#5757ff"/><stop offset=".76" stop-color="#2121ff"/><stop offset=".777" stop-color="#0c0cff"/><stop offset=".82" stop-color="#0000ff"/><stop offset="1" stop-color="#0000ff"/></linearGradient>
<linearGradient id="c134" x1="0" y1="0" x2="0" y2="1"><stop offset="0" stop-color="#ff0100"/><stop offset=".408" stop-color="#ff0500"/><stop offset=".468" stop-color="#ff0a00"/><stop offset=".528" stop-color="#ff1a00"/><stop offset=".579" stop-color="#ff3600"/><stop offset=".609" stop-color="#ff5a00"/><stop offset=".627" stop-color="#ff7b00"/><stop offset=".639" stop-color="#ff9b00"/><stop offset=".665" stop-color="#fff300"/><stop offset=".67" stop-color="#ffff02"/><stop offset=".682" stop-color="#ffff21"/><stop offset=".7" stop-color="#ffff55"/><stop offset=".712" stop-color="#ffff86"/><stop offset=".734" stop-color="#ffffea"/><stop offset=".738" stop-color="#fefeff"/><stop offset=".76" stop-color="#9595ff"/><stop offset=".773" stop-color="#6666ff"/><stop offset=".798" stop-color="#2929ff"/><stop offset=".811" stop-color="#1616ff"/><stop offset=".867" stop-color="#0101ff"/><stop offset="1" stop-color="#0000ff"/></linearGradient>
<linearGradient id="c135" x1="0" y1="0" x2="0" y2="1"><stop offset="0" stop-color="#ff0000"/><stop offset=".451" stop-color="#ff0200"/><stop offset=".532" stop-color="#ff0900"/><stop offset=".588" stop-color="#ff1600"/><stop offset=".631" stop-color="#ff3400"/><stop offset=".661" stop-color="#ff5d00"/><stop offset=".687" stop-color="#ff9300"/><stop offset=".704" stop-color="#ffc800"/><stop offset=".717" stop-color="#fffe00"/><stop offset=".721" stop-color="#ffff0a"/><stop offset=".742" stop-color="#ffff4f"/><stop offset=".781" stop-color="#fffff9"/><stop offset=".785" stop-color="#f1f1ff"/><stop offset=".798" stop-color="#b5b5ff"/><stop offset=".811" stop-color="#8888ff"/><stop offset=".854" stop-color="#2d2dff"/><stop offset=".867" stop-color="#1919ff"/><stop offset=".914" stop-color="#0101ff"/><stop offset="1" stop-color="#0000ff"/></linearGradient>
<linearGradient id="c136" x1="0" y1="0" x2="0" y2="1"><stop offset="0" stop-color="#ff0000"/><stop offset=".511" stop-color="#ff0300"/><stop offset=".635" stop-color="#ff1200"/><stop offset=".691" stop-color="#ff3200"/><stop offset=".721" stop-color="#ff5a00"/><stop offset=".742" stop-color="#ff9000"/><stop offset=".755" stop-color="#ffc100"/><stop offset=".768" stop-color="#ffff00"/><stop offset=".824" stop-color="#ffffb4"/><stop offset=".841" stop-color="#fffff6"/><stop offset=".845" stop-color="#f3f3ff"/><stop offset=".863" stop-color="#a8a8ff"/><stop offset=".884" stop-color="#6c6cff"/><stop offset=".906" stop-color="#2727ff"/><stop offset=".914" stop-color="#1818ff"/><stop offset=".944" stop-color="#0303ff"/><stop offset="1" stop-color="#0000ff"/></linearGradient>
<linearGradient id="c137" x1="0" y1="0" x2="0" y2="1"><stop offset="0" stop-color="#ff0000"/><stop offset=".506" stop-color="#ff0700"/><stop offset=".674" stop-color="#ff1b00"/><stop offset=".725" stop-color="#ff3200"/><stop offset=".764" stop-color="#ff5500"/><stop offset=".781" stop-color="#ff7300"/><stop offset=".794" stop-color="#ff9200"/><stop offset=".828" stop-color="#ffff03"/><stop offset=".841" stop-color="#ffff24"/><stop offset=".871" stop-color="#ffff86"/><stop offset=".88" stop-color="#ffffa9"/><stop offset=".893" stop-color="#fffff3"/><stop offset=".897" stop-color="#eeeeff"/><stop offset=".906" stop-color="#bcbcff"/><stop offset=".914" stop-color="#9696ff"/><stop offset=".936" stop-color="#4444ff"/><stop offset=".944" stop-color="#2929ff"/><stop offset=".961" stop-color="#1313ff"/><stop offset="1" stop-color="#0808ff"/></linearGradient>
<linearGradient id="c138" x1="0" y1="0" x2="0" y2="1"><stop offset="0" stop-color="#ff0000"/><stop offset=".412" stop-color="#ff0600"/><stop offset=".541" stop-color="#ff1200"/><stop offset=".639" stop-color="#ff2b00"/><stop offset=".687" stop-color="#ff4400"/><stop offset=".781" stop-color="#ff9200"/><stop offset=".803" stop-color="#ffb200"/><stop offset=".833" stop-color="#fffc00"/><stop offset=".88" stop-color="#ffff35"/><stop offset=".893" stop-color="#ffff50"/><stop offset=".914" stop-color="#ffff92"/><stop offset=".923" stop-color="#ffffba"/><stop offset=".931" stop-color="#ffffef"/><stop offset=".936" stop-color="#f2f2ff"/><stop offset=".944" stop-color="#c0c0ff"/><stop offset=".957" stop-color="#9393ff"/><stop offset=".983" stop-color="#5c5cff"/><stop offset="1" stop-color="#4949ff"/></linearGradient>
<linearGradient id="c139" x1="0" y1="0" x2="0" y2="1"><stop offset="0" stop-color="#ff0000"/><stop offset=".378" stop-color="#ff0500"/><stop offset=".545" stop-color="#ff1900"/><stop offset=".635" stop-color="#ff4000"/><stop offset=".67" stop-color="#ff5c00"/><stop offset=".7" stop-color="#ff8800"/><stop offset=".76" stop-color="#fffc00"/><stop offset=".777" stop-color="#ffff12"/><stop offset=".798" stop-color="#ffff36"/><stop offset=".815" stop-color="#ffff61"/><stop offset=".837" stop-color="#ffffa3"/><stop offset=".854" stop-color="#ffffc6"/><stop offset=".863" stop-color="#ffffcb"/><stop offset=".876" stop-color="#ffffc4"/><stop offset=".893" stop-color="#ffffaa"/><stop offset=".918" stop-color="#ffff74"/><stop offset=".931" stop-color="#ffff6d"/><stop offset=".953" stop-color="#ffff8a"/><stop offset=".966" stop-color="#ffffa8"/><stop offset=".987" stop-color="#ffffe8"/><stop offset="1" stop-color="#fffffc"/></linearGradient>
<linearGradient id="c140" x1="0" y1="0" x2="0" y2="1"><stop offset="0" stop-color="#ff0000"/><stop offset=".395" stop-color="#ff0500"/><stop offset=".502" stop-color="#ff0f00"/><stop offset=".549" stop-color="#ff1a00"/><stop offset=".622" stop-color="#ff3e00"/><stop offset=".661" stop-color="#ff6000"/><stop offset=".674" stop-color="#ff7300"/><stop offset=".695" stop-color="#ff9e00"/><stop offset=".73" stop-color="#fffd00"/><stop offset=".76" stop-color="#ffff31"/><stop offset=".781" stop-color="#ffff61"/><stop offset=".798" stop-color="#ffff9b"/><stop offset=".815" stop-color="#ffffec"/><stop offset=".82" stop-color="#f9f9ff"/><stop offset=".837" stop-color="#9e9eff"/><stop offset=".845" stop-color="#7e7eff"/><stop offset=".854" stop-color="#6c6cff"/><stop offset=".867" stop-color="#6464ff"/><stop offset=".888" stop-color="#7474ff"/><stop offset=".901" stop-color="#8d8dff"/><stop offset=".914" stop-color="#bebeff"/><stop offset=".927" stop-color="#fffffa"/><stop offset=".944" stop-color="#ffffaa"/><stop offset=".961" stop-color="#ffff73"/><stop offset=".97" stop-color="#ffff63"/><stop offset=".979" stop-color="#ffff5c"/><stop offset="1" stop-color="#ffff5e"/></linearGradient>
<linearGradient id="c141" x1="0" y1="0" x2="0" y2="1"><stop offset="0" stop-color="#ff0000"/><stop offset=".399" stop-color="#ff0300"/><stop offset=".549" stop-color="#ff1300"/><stop offset=".622" stop-color="#ff3300"/><stop offset=".657" stop-color="#ff4f00"/><stop offset=".687" stop-color="#ff8000"/><stop offset=".708" stop-color="#ffb700"/><stop offset=".73" stop-color="#fffc00"/><stop offset=".734" stop-color="#ffff06"/><stop offset=".76" stop-color="#ffff3b"/><stop offset=".777" stop-color="#ffff6b"/><stop offset=".794" stop-color="#ffffb0"/><stop offset=".807" stop-color="#fffff9"/><stop offset=".811" stop-color="#e7e7ff"/><stop offset=".828" stop-color="#6b6bff"/><stop offset=".837" stop-color="#3b3bff"/><stop offset=".85" stop-color="#1717ff"/><stop offset=".867" stop-color="#0d0dff"/><stop offset=".897" stop-color="#1313ff"/><stop offset=".91" stop-color="#2222ff"/><stop offset=".927" stop-color="#4e4eff"/><stop offset=".944" stop-color="#8585ff"/><stop offset=".97" stop-color="#f9f9ff"/><stop offset=".974" stop-color="#fffff3"/><stop offset=".987" stop-color="#ffffd0"/><stop offset="1" stop-color="#ffffc2"/></linearGradient>
<linearGradient id="c142" x1="0" y1="0" x2="0" y2="1"><stop offset="0" stop-color="#ff0000"/><stop offset=".489" stop-color="#ff0400"/><stop offset=".545" stop-color="#ff0900"/><stop offset=".609" stop-color="#ff1a00"/><stop offset=".657" stop-color="#ff3300"/><stop offset=".687" stop-color="#ff5900"/><stop offset=".717" stop-color="#ff9d00"/><stop offset=".747" stop-color="#fffe00"/><stop offset=".768" stop-color="#ffff2f"/><stop offset=".785" stop-color="#ffff67"/><stop offset=".798" stop-color="#ffffa5"/><stop offset=".811" stop-color="#fffffb"/><stop offset=".828" stop-color="#7676ff"/><stop offset=".837" stop-color="#3d3dff"/><stop offset=".845" stop-color="#1a1aff"/><stop offset=".858" stop-color="#0505ff"/><stop offset=".901" stop-color="#0101ff"/><stop offset=".94" stop-color="#1111ff"/><stop offset=".953" stop-color="#2222ff"/><stop offset=".983" stop-color="#5f5fff"/><stop offset="1" stop-color="#6c6cff"/></linearGradient>
<linearGradient id="c143" x1="0" y1="0" x2="0" y2="1"><stop offset="0" stop-color="#ff0000"/><stop offset=".524" stop-color="#ff0200"/><stop offset=".644" stop-color="#ff1200"/><stop offset=".67" stop-color="#ff1e00"/><stop offset=".687" stop-color="#ff2d00"/><stop offset=".717" stop-color="#ff5700"/><stop offset=".738" stop-color="#ff8300"/><stop offset=".751" stop-color="#ffa400"/><stop offset=".764" stop-color="#ffcd00"/><stop offset=".777" stop-color="#ffff02"/><stop offset=".79" stop-color="#ffff29"/><stop offset=".803" stop-color="#ffff63"/><stop offset=".811" stop-color="#ffff97"/><stop offset=".824" stop-color="#fffffb"/><stop offset=".841" stop-color="#7575ff"/><stop offset=".85" stop-color="#4242ff"/><stop offset=".858" stop-color="#2222ff"/><stop offset=".867" stop-color="#0f0fff"/><stop offset=".876" stop-color="#0606ff"/><stop offset=".897" stop-color="#0000ff"/><stop offset=".944" stop-color="#0101ff"/><stop offset="1" stop-color="#0e0eff"/></linearGradient>
<linearGradient id="c144" x1="0" y1="0" x2="0" y2="1"><stop offset="0" stop-color="#ff0000"/><stop offset=".584" stop-color="#ff0400"/><stop offset=".687" stop-color="#ff1100"/><stop offset=".717" stop-color="#ff2200"/><stop offset=".734" stop-color="#ff3200"/><stop offset=".764" stop-color="#ff5b00"/><stop offset=".777" stop-color="#ff7900"/><stop offset=".785" stop-color="#ff9500"/><stop offset=".794" stop-color="#ffbb00"/><stop offset=".803" stop-color="#ffef00"/><stop offset=".807" stop-color="#ffff08"/><stop offset=".815" stop-color="#ffff30"/><stop offset=".824" stop-color="#ffff65"/><stop offset=".841" stop-color="#ffffef"/><stop offset=".845" stop-color="#e9e9ff"/><stop offset=".858" stop-color="#8585ff"/><stop offset=".867" stop-color="#5353ff"/><stop offset=".876" stop-color="#3030ff"/><stop offset=".888" stop-color="#1313ff"/><stop offset=".897" stop-color="#0a0aff"/><stop offset=".923" stop-color="#0101ff"/><stop offset="1" stop-color="#0101ff"/></linearGradient>
<linearGradient id="c145" x1="0" y1="0" x2="0" y2="1"><stop offset="0" stop-color="#ff0000"/><stop offset=".464" stop-color="#ff0500"/><stop offset=".734" stop-color="#ff1a00"/><stop offset=".773" stop-color="#ff2e00"/><stop offset=".785" stop-color="#ff3b00"/><stop offset=".798" stop-color="#ff5200"/><stop offset=".807" stop-color="#ff6c00"/><stop offset=".815" stop-color="#ff9200"/><stop offset=".824" stop-color="#ffc900"/><stop offset=".828" stop-color="#ffed00"/><stop offset=".833" stop-color="#ffff0c"/><stop offset=".845" stop-color="#ffff5d"/><stop offset=".863" stop-color="#ffffe6"/><stop offset=".867" stop-color="#f5f5ff"/><stop offset=".88" stop-color="#9797ff"/><stop offset=".888" stop-color="#6a6aff"/><stop offset=".901" stop-color="#3e3eff"/><stop offset=".914" stop-color="#2222ff"/><stop offset=".927" stop-color="#1212ff"/><stop offset=".936" stop-color="#0e0eff"/><stop offset="1" stop-color="#1010ff"/></linearGradient>
<linearGradient id="c146" x1="0" y1="0" x2="0" y2="1"><stop offset="0" stop-color="#ff0000"/><stop offset=".446" stop-color="#ff0800"/><stop offset=".579" stop-color="#ff1700"/><stop offset=".674" stop-color="#ff3200"/><stop offset=".725" stop-color="#ff3800"/><stop offset=".777" stop-color="#ff4f00"/><stop offset=".811" stop-color="#ff5200"/><stop offset=".824" stop-color="#ff5c00"/><stop offset=".833" stop-color="#ff7100"/><stop offset=".841" stop-color="#ff9500"/><stop offset=".85" stop-color="#ffcf00"/><stop offset=".854" stop-color="#fff500"/><stop offset=".858" stop-color="#ffff11"/><stop offset=".863" stop-color="#ffff29"/><stop offset=".893" stop-color="#fffff0"/><stop offset=".897" stop-color="#f4f4ff"/><stop offset=".914" stop-color="#9d9dff"/><stop offset=".923" stop-color="#8080ff"/><stop offset=".931" stop-color="#7070ff"/><stop offset=".944" stop-color="#6565ff"/><stop offset=".957" stop-color="#6363ff"/><stop offset="1" stop-color="#6d6dff"/></linearGradient>
<linearGradient id="c147" x1="0" y1="0" x2="0" y2="1"><stop offset="0" stop-color="#ff0000"/><stop offset=".313" stop-color="#ff0300"/><stop offset=".446" stop-color="#ff0a00"/><stop offset=".579" stop-color="#ff2200"/><stop offset=".614" stop-color="#ff3000"/><stop offset=".717" stop-color="#ff7000"/><stop offset=".734" stop-color="#ff8100"/><stop offset=".768" stop-color="#ffb700"/><stop offset=".79" stop-color="#ffd000"/><stop offset=".807" stop-color="#ffc900"/><stop offset=".82" stop-color="#ffb200"/><stop offset=".841" stop-color="#ff8000"/><stop offset=".854" stop-color="#ff7900"/><stop offset=".858" stop-color="#ff7e00"/><stop offset=".867" stop-color="#ff9800"/><stop offset=".871" stop-color="#ffac00"/><stop offset=".88" stop-color="#ffe200"/><stop offset=".884" stop-color="#ffff02"/><stop offset=".918" stop-color="#ffff97"/><stop offset=".927" stop-color="#ffffb0"/><stop offset=".936" stop-color="#ffffc0"/><stop offset=".957" stop-color="#ffffce"/><stop offset="1" stop-color="#ffffc1"/></linearGradient>
<linearGradient id="c148" x1="0" y1="0" x2="0" y2="1"><stop offset="0" stop-color="#ff0000"/><stop offset=".438" stop-color="#ff0900"/><stop offset=".571" stop-color="#ff2300"/><stop offset=".618" stop-color="#ff3c00"/><stop offset=".704" stop-color="#ff9400"/><stop offset=".73" stop-color="#ffc000"/><stop offset=".751" stop-color="#fffd00"/><stop offset=".785" stop-color="#ffff3e"/><stop offset=".803" stop-color="#ffff50"/><stop offset=".82" stop-color="#ffff47"/><stop offset=".833" stop-color="#ffff2e"/><stop offset=".845" stop-color="#ffff0a"/><stop offset=".85" stop-color="#fffa00"/><stop offset=".863" stop-color="#ffb500"/><stop offset=".871" stop-color="#ff9400"/><stop offset=".88" stop-color="#ff8100"/><stop offset=".884" stop-color="#ff7e00"/><stop offset=".897" stop-color="#ff8b00"/><stop offset=".927" stop-color="#ffe500"/><stop offset=".94" stop-color="#ffff00"/><stop offset=".957" stop-color="#ffff07"/><stop offset="1" stop-color="#fffe00"/></linearGradient>
<linearGradient id="c149" x1="0" y1="0" x2="0" y2="1"><stop offset="0" stop-color="#ff0000"/><stop offset=".433" stop-color="#ff0600"/><stop offset=".485" stop-color="#ff0b00"/><stop offset=".575" stop-color="#ff1f00"/><stop offset=".614" stop-color="#ff3400"/><stop offset=".635" stop-color="#ff4800"/><stop offset=".682" stop-color="#ff8200"/><stop offset=".712" stop-color="#ffb400"/><stop offset=".725" stop-color="#ffd500"/><stop offset=".738" stop-color="#ffff01"/><stop offset=".76" stop-color="#ffff37"/><stop offset=".794" stop-color="#ffffa4"/><stop offset=".807" stop-color="#ffffc0"/><stop offset=".815" stop-color="#ffffc8"/><stop offset=".828" stop-color="#ffffc0"/><stop offset=".841" stop-color="#ffffa1"/><stop offset=".88" stop-color="#ffff04"/><stop offset=".893" stop-color="#ffb900"/><stop offset=".901" stop-color="#ff9500"/><stop offset=".91" stop-color="#ff7e00"/><stop offset=".918" stop-color="#ff7000"/><stop offset=".936" stop-color="#ff6700"/><stop offset="1" stop-color="#ff6300"/></linearGradient>
<linearGradient id="c150" x1="0" y1="0" x2="0" y2="1"><stop offset="0" stop-color="#ff0000"/><stop offset=".446" stop-color="#ff0300"/><stop offset=".584" stop-color="#ff1600"/><stop offset=".627" stop-color="#ff2e00"/><stop offset=".652" stop-color="#ff4700"/><stop offset=".691" stop-color="#ff7800"/><stop offset=".717" stop-color="#ffab00"/><stop offset=".73" stop-color="#ffd300"/><stop offset=".738" stop-color="#fff800"/><stop offset=".747" stop-color="#ffff12"/><stop offset=".76" stop-color="#ffff3d"/><stop offset=".803" stop-color="#fffff8"/><stop offset=".807" stop-color="#f6f6ff"/><stop offset=".815" stop-color="#ddddff"/><stop offset=".828" stop-color="#cdcdff"/><stop offset=".841" stop-color="#dbdbff"/><stop offset=".854" stop-color="#fffffa"/><stop offset=".893" stop-color="#ffff45"/><stop offset=".906" stop-color="#ffff16"/><stop offset=".914" stop-color="#fffb00"/><stop offset=".927" stop-color="#ffcb00"/><stop offset=".944" stop-color="#ffaa00"/><stop offset=".966" stop-color="#ffa100"/><stop offset="1" stop-color="#ffa700"/></linearGradient>
<linearGradient id="c151" x1="0" y1="0" x2="0" y2="1"><stop offset="0" stop-color="#ff0000"/><stop offset=".459" stop-color="#ff0100"/><stop offset=".605" stop-color="#ff0f00"/><stop offset=".665" stop-color="#ff3300"/><stop offset=".682" stop-color="#ff4300"/><stop offset=".708" stop-color="#ff6500"/><stop offset=".725" stop-color="#ff8c00"/><stop offset=".734" stop-color="#ffa900"/><stop offset=".742" stop-color="#ffcf00"/><stop offset=".751" stop-color="#ffff00"/><stop offset=".76" stop-color="#ffff1e"/><stop offset=".773" stop-color="#ffff55"/><stop offset=".803" stop-color="#fffff7"/><stop offset=".807" stop-color="#f0f0ff"/><stop offset=".815" stop-color="#c9c9ff"/><stop offset=".824" stop-color="#ababff"/><stop offset=".833" stop-color="#9999ff"/><stop offset=".841" stop-color="#9494ff"/><stop offset=".854" stop-color="#a7a7ff"/><stop offset=".867" stop-color="#d2d2ff"/><stop offset=".876" stop-color="#f8f8ff"/><stop offset=".88" stop-color="#fffff1"/><stop offset=".897" stop-color="#ffffa2"/><stop offset=".91" stop-color="#ffff71"/><stop offset=".923" stop-color="#ffff4d"/><stop offset=".936" stop-color="#ffff36"/><stop offset=".948" stop-color="#ffff2b"/><stop offset=".961" stop-color="#ffff28"/><stop offset="1" stop-color="#ffff2f"/></linearGradient>
<linearGradient id="c152" x1="0" y1="0" x2="0" y2="1"><stop offset="0" stop-color="#ff0000"/><stop offset=".519" stop-color="#ff0200"/><stop offset=".631" stop-color="#ff0a00"/><stop offset=".695" stop-color="#ff2500"/><stop offset=".712" stop-color="#ff3500"/><stop offset=".725" stop-color="#ff4900"/><stop offset=".734" stop-color="#ff5d00"/><stop offset=".747" stop-color="#ff8900"/><stop offset=".755" stop-color="#ffb400"/><stop offset=".768" stop-color="#ffff05"/><stop offset=".781" stop-color="#ffff3f"/><stop offset=".815" stop-color="#fefeff"/><stop offset=".824" stop-color="#d5d5ff"/><stop offset=".833" stop-color="#b5b5ff"/><stop offset=".841" stop-color="#a1a1ff"/><stop offset=".85" stop-color="#9a9aff"/><stop offset=".858" stop-color="#a0a0ff"/><stop offset=".867" stop-color="#b1b1ff"/><stop offset=".888" stop-color="#f8f8ff"/><stop offset=".893" stop-color="#fffff5"/><stop offset=".914" stop-color="#ffffae"/><stop offset=".923" stop-color="#ffff99"/><stop offset=".936" stop-color="#ffff84"/><stop offset=".957" stop-color="#ffff79"/><stop offset="1" stop-color="#ffff84"/></linearGradient>
<linearGradient id="c153" x1="0" y1="0" x2="0" y2="1"><stop offset="0" stop-color="#ff0000"/><stop offset=".399" stop-color="#ff0300"/><stop offset=".648" stop-color="#ff0b00"/><stop offset=".704" stop-color="#ff1400"/><stop offset=".73" stop-color="#ff2200"/><stop offset=".742" stop-color="#ff3300"/><stop offset=".751" stop-color="#ff4600"/><stop offset=".76" stop-color="#ff6200"/><stop offset=".768" stop-color="#ff8a00"/><stop offset=".777" stop-color="#ffbe00"/><stop offset=".785" stop-color="#ffff00"/><stop offset=".798" stop-color="#ffff3c"/><stop offset=".824" stop-color="#ffffc2"/><stop offset=".837" stop-color="#fffff7"/><stop offset=".841" stop-color="#f9f9ff"/><stop offset=".85" stop-color="#e6e6ff"/><stop offset=".863" stop-color="#dfdfff"/><stop offset=".876" stop-color="#ececff"/><stop offset=".884" stop-color="#fdfdff"/><stop offset=".918" stop-color="#ffffb1"/><stop offset=".94" stop-color="#ffff99"/><stop offset=".961" stop-color="#ffff99"/><stop offset="1" stop-color="#ffffa8"/></linearGradient>
<linearGradient id="c154" x1="0" y1="0" x2="0" y2="1"><stop offset="0" stop-color="#ff0000"/><stop offset=".395" stop-color="#ff0600"/><stop offset=".519" stop-color="#ff0f00"/><stop offset=".704" stop-color="#ff2700"/><stop offset=".747" stop-color="#ff2500"/><stop offset=".764" stop-color="#ff3200"/><stop offset=".777" stop-color="#ff5000"/><stop offset=".79" stop-color="#ff8800"/><stop offset=".798" stop-color="#ffbc00"/><stop offset=".807" stop-color="#fffb00"/><stop offset=".811" stop-color="#ffff0f"/><stop offset=".833" stop-color="#ffff67"/><stop offset=".841" stop-color="#ffff84"/><stop offset=".854" stop-color="#ffffa3"/><stop offset=".867" stop-color="#ffffb1"/><stop offset=".88" stop-color="#ffffae"/><stop offset=".918" stop-color="#ffff81"/><stop offset=".931" stop-color="#ffff78"/><stop offset=".953" stop-color="#ffff78"/><stop offset="1" stop-color="#ffff8d"/></linearGradient>
<linearGradient id="c155" x1="0" y1="0" x2="0" y2="1"><stop offset="0" stop-color="#ff0000"/><stop offset=".373" stop-color="#ff0700"/><stop offset=".494" stop-color="#ff1400"/><stop offset=".536" stop-color="#ff1c00"/><stop offset=".657" stop-color="#ff4300"/><stop offset=".721" stop-color="#ff6900"/><stop offset=".738" stop-color="#ff6200"/><stop offset=".768" stop-color="#ff3d00"/><stop offset=".781" stop-color="#ff3500"/><stop offset=".794" stop-color="#ff4100"/><stop offset=".803" stop-color="#ff5700"/><stop offset=".815" stop-color="#ff8a00"/><stop offset=".837" stop-color="#fffa00"/><stop offset=".841" stop-color="#ffff08"/><stop offset=".858" stop-color="#ffff2a"/><stop offset=".876" stop-color="#ffff39"/><stop offset=".931" stop-color="#ffff29"/><stop offset="1" stop-color="#ffff44"/></linearGradient>
<linearGradient id="c156" x1="0" y1="0" x2="0" y2="1"><stop offset="0" stop-color="#ff0000"/><stop offset=".386" stop-color="#ff0800"/><stop offset=".528" stop-color="#ff1f00"/><stop offset=".648" stop-color="#ff6200"/><stop offset=".678" stop-color="#ff8500"/><stop offset=".712" stop-color="#ffc200"/><stop offset=".73" stop-color="#ffd400"/><stop offset=".742" stop-color="#ffd000"/><stop offset=".751" stop-color="#ffc400"/><stop offset=".76" stop-color="#ffb000"/><stop offset=".794" stop-color="#ff4c00"/><stop offset=".811" stop-color="#ff3a00"/><stop offset=".828" stop-color="#ff4b00"/><stop offset=".863" stop-color="#ff9700"/><stop offset=".88" stop-color="#ffab00"/><stop offset=".936" stop-color="#ffaf00"/><stop offset=".974" stop-color="#ffcf00"/><stop offset="1" stop-color="#ffdd00"/></linearGradient>
<linearGradient id="c157" x1="0" y1="0" x2="0" y2="1"><stop offset="0" stop-color="#ff0000"/><stop offset=".382" stop-color="#ff0600"/><stop offset=".528" stop-color="#ff1d00"/><stop offset=".588" stop-color="#ff4100"/><stop offset=".622" stop-color="#ff5b00"/><stop offset=".652" stop-color="#ff7a00"/><stop offset=".678" stop-color="#ffac00"/><stop offset=".704" stop-color="#fffa00"/><stop offset=".708" stop-color="#ffff05"/><stop offset=".73" stop-color="#ffff23"/><stop offset=".747" stop-color="#ffff2b"/><stop offset=".76" stop-color="#ffff22"/><stop offset=".777" stop-color="#ffff03"/><stop offset=".781" stop-color="#fff200"/><stop offset=".798" stop-color="#ff9f00"/><stop offset=".811" stop-color="#ff6a00"/><stop offset=".824" stop-color="#ff4700"/><stop offset=".837" stop-color="#ff3500"/><stop offset=".85" stop-color="#ff3100"/><stop offset=".893" stop-color="#ff3d00"/><stop offset=".923" stop-color="#ff3e00"/><stop offset="1" stop-color="#ff5900"/></linearGradient>
<linearGradient id="c158" x1="0" y1="0" x2="0" y2="1"><stop offset="0" stop-color="#ff0000"/><stop offset=".382" stop-color="#ff0300"/><stop offset=".532" stop-color="#ff1600"/><stop offset=".597" stop-color="#ff3c00"/><stop offset=".639" stop-color="#ff6200"/><stop offset=".657" stop-color="#ff7c00"/><stop offset=".67" stop-color="#ff9900"/><stop offset=".682" stop-color="#ffc000"/><stop offset=".7" stop-color="#ffff03"/><stop offset=".734" stop-color="#ffff52"/><stop offset=".747" stop-color="#ffff63"/><stop offset=".755" stop-color="#ffff66"/><stop offset=".768" stop-color="#ffff5e"/><stop offset=".777" stop-color="#ffff4f"/><stop offset=".803" stop-color="#ffff0a"/><stop offset=".807" stop-color="#fffa00"/><stop offset=".824" stop-color="#ffa000"/><stop offset=".837" stop-color="#ff6f00"/><stop offset=".85" stop-color="#ff4f00"/><stop offset=".867" stop-color="#ff3700"/><stop offset=".906" stop-color="#ff2800"/><stop offset="1" stop-color="#ff2200"/></linearGradient>
<linearGradient id="c159" x1="0" y1="0" x2="0" y2="1"><stop offset="0" stop-color="#ff0000"/><stop offset=".395" stop-color="#ff0100"/><stop offset=".502" stop-color="#ff0700"/><stop offset=".558" stop-color="#ff1300"/><stop offset=".627" stop-color="#ff3a00"/><stop offset=".652" stop-color="#ff5700"/><stop offset=".661" stop-color="#ff6600"/><stop offset=".678" stop-color="#ff9300"/><stop offset=".704" stop-color="#ffff03"/><stop offset=".742" stop-color="#ffff71"/><stop offset=".755" stop-color="#ffff87"/><stop offset=".764" stop-color="#ffff8d"/><stop offset=".777" stop-color="#ffff86"/><stop offset=".785" stop-color="#ffff78"/><stop offset=".828" stop-color="#ffff01"/><stop offset=".841" stop-color="#ffc600"/><stop offset=".85" stop-color="#ffa800"/><stop offset=".863" stop-color="#ff8600"/><stop offset=".871" stop-color="#ff7700"/><stop offset=".893" stop-color="#ff6300"/><stop offset=".97" stop-color="#ff3c00"/><stop offset="1" stop-color="#ff3400"/></linearGradient>
<linearGradient id="c160" x1="0" y1="0" x2="0" y2="1"><stop offset="0" stop-color="#ff0000"/><stop offset=".485" stop-color="#ff0200"/><stop offset=".549" stop-color="#ff0600"/><stop offset=".614" stop-color="#ff1700"/><stop offset=".648" stop-color="#ff2b00"/><stop offset=".661" stop-color="#ff3b00"/><stop offset=".674" stop-color="#ff5300"/><stop offset=".691" stop-color="#ff8800"/><stop offset=".7" stop-color="#ffae00"/><stop offset=".712" stop-color="#fff400"/><stop offset=".717" stop-color="#ffff08"/><stop offset=".747" stop-color="#ffff68"/><stop offset=".755" stop-color="#ffff7d"/><stop offset=".768" stop-color="#ffff90"/><stop offset=".777" stop-color="#ffff93"/><stop offset=".785" stop-color="#ffff8e"/><stop offset=".798" stop-color="#ffff7a"/><stop offset=".828" stop-color="#ffff2f"/><stop offset=".85" stop-color="#ffff01"/><stop offset=".867" stop-color="#ffd500"/><stop offset=".88" stop-color="#ffc000"/><stop offset=".94" stop-color="#ff9900"/><stop offset=".983" stop-color="#ff7600"/><stop offset="1" stop-color="#ff7100"/></linearGradient>
<linearGradient id="c161" x1="0" y1="0" x2="0" y2="1"><stop offset="0" stop-color="#ff0000"/><stop offset=".558" stop-color="#ff0600"/><stop offset=".644" stop-color="#ff1000"/><stop offset=".67" stop-color="#ff2000"/><stop offset=".678" stop-color="#ff2b00"/><stop offset=".691" stop-color="#ff4600"/><stop offset=".708" stop-color="#ff8300"/><stop offset=".717" stop-color="#ffad00"/><stop offset=".73" stop-color="#fff900"/><stop offset=".734" stop-color="#ffff0a"/><stop offset=".751" stop-color="#ffff40"/><stop offset=".764" stop-color="#ffff60"/><stop offset=".777" stop-color="#ffff73"/><stop offset=".79" stop-color="#ffff76"/><stop offset=".807" stop-color="#ffff65"/><stop offset=".85" stop-color="#ffff18"/><stop offset=".871" stop-color="#ffff02"/><stop offset=".888" stop-color="#fff200"/><stop offset=".931" stop-color="#ffe000"/><stop offset=".979" stop-color="#ffb500"/><stop offset="1" stop-color="#ffac00"/></linearGradient>
<linearGradient id="c162" x1="0" y1="0" x2="0" y2="1"><stop offset="0" stop-color="#ff0000"/><stop offset=".326" stop-color="#ff0400"/><stop offset=".674" stop-color="#ff1600"/><stop offset=".695" stop-color="#ff2300"/><stop offset=".712" stop-color="#ff4600"/><stop offset=".725" stop-color="#ff7400"/><stop offset=".751" stop-color="#fff500"/><stop offset=".755" stop-color="#ffff06"/><stop offset=".768" stop-color="#ffff24"/><stop offset=".781" stop-color="#ffff38"/><stop offset=".798" stop-color="#ffff40"/><stop offset=".82" stop-color="#ffff31"/><stop offset=".854" stop-color="#ffff0b"/><stop offset=".871" stop-color="#ffff01"/><stop offset=".923" stop-color="#fff600"/><stop offset=".94" stop-color="#ffee00"/><stop offset=".979" stop-color="#ffcd00"/><stop offset="1" stop-color="#ffc500"/></linearGradient>
<linearGradient id="c163" x1="0" y1="0" x2="0" y2="1"><stop offset="0" stop-color="#ff0100"/><stop offset=".292" stop-color="#ff0500"/><stop offset=".442" stop-color="#ff1000"/><stop offset=".584" stop-color="#ff2900"/><stop offset=".644" stop-color="#ff3c00"/><stop offset=".665" stop-color="#ff3900"/><stop offset=".695" stop-color="#ff2400"/><stop offset=".712" stop-color="#ff2200"/><stop offset=".725" stop-color="#ff2f00"/><stop offset=".734" stop-color="#ff4100"/><stop offset=".747" stop-color="#ff6800"/><stop offset=".768" stop-color="#ffb600"/><stop offset=".781" stop-color="#ffdc00"/><stop offset=".79" stop-color="#ffee00"/><stop offset=".803" stop-color="#fffb00"/><stop offset=".82" stop-color="#fff600"/><stop offset=".854" stop-color="#ffd300"/><stop offset=".867" stop-color="#ffcc00"/><stop offset=".927" stop-color="#ffd300"/><stop offset="1" stop-color="#ffb000"/></linearGradient>
<linearGradient id="c164" x1="0" y1="0" x2="0" y2="1"><stop offset="0" stop-color="#ff0100"/><stop offset=".3" stop-color="#ff0600"/><stop offset=".451" stop-color="#ff1600"/><stop offset=".588" stop-color="#ff4700"/><stop offset=".644" stop-color="#ff7900"/><stop offset=".661" stop-color="#ff8100"/><stop offset=".678" stop-color="#ff7800"/><stop offset=".721" stop-color="#ff2f00"/><stop offset=".738" stop-color="#ff2500"/><stop offset=".755" stop-color="#ff3400"/><stop offset=".79" stop-color="#ff7100"/><stop offset=".811" stop-color="#ff8300"/><stop offset=".867" stop-color="#ff7b00"/><stop offset=".931" stop-color="#ff9000"/><stop offset="1" stop-color="#ff7b00"/></linearGradient>
<linearGradient id="c165" x1="0" y1="0" x2="0" y2="1"><stop offset="0" stop-color="#ff0000"/><stop offset=".322" stop-color="#ff0600"/><stop offset=".472" stop-color="#ff1c00"/><stop offset=".562" stop-color="#ff4900"/><stop offset=".588" stop-color="#ff5c00"/><stop offset=".618" stop-color="#ff8600"/><stop offset=".652" stop-color="#ffc700"/><stop offset=".67" stop-color="#ffd800"/><stop offset=".682" stop-color="#ffd300"/><stop offset=".691" stop-color="#ffc600"/><stop offset=".708" stop-color="#ff9a00"/><stop offset=".725" stop-color="#ff6300"/><stop offset=".738" stop-color="#ff4100"/><stop offset=".751" stop-color="#ff2a00"/><stop offset=".764" stop-color="#ff2100"/><stop offset=".82" stop-color="#ff3300"/><stop offset=".876" stop-color="#ff3700"/><stop offset=".927" stop-color="#ff4900"/><stop offset="1" stop-color="#ff3f00"/></linearGradient>
<linearGradient id="c166" x1="0" y1="0" x2="0" y2="1"><stop offset="0" stop-color="#ff0000"/><stop offset=".326" stop-color="#ff0400"/><stop offset=".433" stop-color="#ff0e00"/><stop offset=".476" stop-color="#ff1800"/><stop offset=".549" stop-color="#ff3e00"/><stop offset=".588" stop-color="#ff5f00"/><stop offset=".614" stop-color="#ff8c00"/><stop offset=".652" stop-color="#fffb00"/><stop offset=".657" stop-color="#ffff04"/><stop offset=".674" stop-color="#ffff15"/><stop offset=".687" stop-color="#ffff17"/><stop offset=".708" stop-color="#ffff02"/><stop offset=".717" stop-color="#ffe500"/><stop offset=".742" stop-color="#ff7e00"/><stop offset=".76" stop-color="#ff4900"/><stop offset=".773" stop-color="#ff3000"/><stop offset=".79" stop-color="#ff1f00"/><stop offset=".85" stop-color="#ff1400"/><stop offset=".931" stop-color="#ff1b00"/><stop offset="1" stop-color="#ff1700"/></linearGradient>
<linearGradient id="c167" x1="0" y1="0" x2="0" y2="1"><stop offset="0" stop-color="#ff0000"/><stop offset=".343" stop-color="#ff0200"/><stop offset=".442" stop-color="#ff0800"/><stop offset=".502" stop-color="#ff1700"/><stop offset=".562" stop-color="#ff3500"/><stop offset=".592" stop-color="#ff5300"/><stop offset=".609" stop-color="#ff7300"/><stop offset=".622" stop-color="#ff9600"/><stop offset=".648" stop-color="#fff500"/><stop offset=".652" stop-color="#ffff04"/><stop offset=".674" stop-color="#ffff29"/><stop offset=".687" stop-color="#ffff35"/><stop offset=".695" stop-color="#ffff36"/><stop offset=".712" stop-color="#ffff28"/><stop offset=".734" stop-color="#fffe00"/><stop offset=".76" stop-color="#ff9300"/><stop offset=".777" stop-color="#ff6000"/><stop offset=".794" stop-color="#ff4100"/><stop offset=".815" stop-color="#ff2e00"/><stop offset=".914" stop-color="#ff1100"/><stop offset="1" stop-color="#ff1000"/></linearGradient>
<linearGradient id="c168" x1="0" y1="0" x2="0" y2="1"><stop offset="0" stop-color="#ff0000"/><stop offset=".446" stop-color="#ff0300"/><stop offset=".549" stop-color="#ff1800"/><stop offset=".584" stop-color="#ff2b00"/><stop offset=".605" stop-color="#ff4700"/><stop offset=".618" stop-color="#ff6400"/><stop offset=".631" stop-color="#ff8b00"/><stop offset=".657" stop-color="#fff800"/><stop offset=".661" stop-color="#ffff06"/><stop offset=".687" stop-color="#ffff37"/><stop offset=".704" stop-color="#ffff41"/><stop offset=".721" stop-color="#ffff34"/><stop offset=".747" stop-color="#ffff06"/><stop offset=".751" stop-color="#fffa00"/><stop offset=".773" stop-color="#ffac00"/><stop offset=".785" stop-color="#ff8a00"/><stop offset=".803" stop-color="#ff6c00"/><stop offset=".824" stop-color="#ff5800"/><stop offset=".918" stop-color="#ff2700"/><stop offset=".94" stop-color="#ff2200"/><stop offset="1" stop-color="#ff2500"/></linearGradient>
<linearGradient id="c169" x1="0" y1="0" x2="0" y2="1"><stop offset="0" stop-color="#ff0000"/><stop offset=".494" stop-color="#ff0400"/><stop offset=".575" stop-color="#ff0f00"/><stop offset=".601" stop-color="#ff1e00"/><stop offset=".618" stop-color="#ff3600"/><stop offset=".627" stop-color="#ff4900"/><stop offset=".639" stop-color="#ff6f00"/><stop offset=".648" stop-color="#ff8f00"/><stop offset=".674" stop-color="#ffff01"/><stop offset=".695" stop-color="#ffff28"/><stop offset=".704" stop-color="#ffff31"/><stop offset=".717" stop-color="#ffff33"/><stop offset=".738" stop-color="#ffff20"/><stop offset=".76" stop-color="#fffb00"/><stop offset=".777" stop-color="#ffc900"/><stop offset=".794" stop-color="#ffa500"/><stop offset=".807" stop-color="#ff9300"/><stop offset=".828" stop-color="#ff8200"/><stop offset=".931" stop-color="#ff4400"/><stop offset="1" stop-color="#ff4700"/></linearGradient>
<linearGradient id="c170" x1="0" y1="0" x2="0" y2="1"><stop offset="0" stop-color="#ff0000"/><stop offset=".275" stop-color="#ff0300"/><stop offset=".605" stop-color="#ff1000"/><stop offset=".627" stop-color="#ff1f00"/><stop offset=".644" stop-color="#ff3f00"/><stop offset=".661" stop-color="#ff7500"/><stop offset=".691" stop-color="#ffe900"/><stop offset=".7" stop-color="#ffff02"/><stop offset=".712" stop-color="#ffff0f"/><stop offset=".725" stop-color="#ffff12"/><stop offset=".751" stop-color="#ffff00"/><stop offset=".781" stop-color="#ffc200"/><stop offset=".803" stop-color="#ffa500"/><stop offset=".863" stop-color="#ff8900"/><stop offset=".918" stop-color="#ff6200"/><stop offset=".944" stop-color="#ff5b00"/><stop offset="1" stop-color="#ff6100"/></linearGradient>
<linearGradient id="c171" x1="0" y1="0" x2="0" y2="1"><stop offset="0" stop-color="#ff0100"/><stop offset=".382" stop-color="#ff0c00"/><stop offset=".575" stop-color="#ff2300"/><stop offset=".627" stop-color="#ff1600"/><stop offset=".639" stop-color="#ff1800"/><stop offset=".661" stop-color="#ff3300"/><stop offset=".708" stop-color="#ffb100"/><stop offset=".721" stop-color="#ffc500"/><stop offset=".734" stop-color="#ffcb00"/><stop offset=".747" stop-color="#ffc500"/><stop offset=".785" stop-color="#ff9b00"/><stop offset=".807" stop-color="#ff8d00"/><stop offset=".854" stop-color="#ff8700"/><stop offset=".94" stop-color="#ff6000"/><stop offset="1" stop-color="#ff6800"/></linearGradient>
<linearGradient id="c172" x1="0" y1="0" x2="0" y2="1"><stop offset="0" stop-color="#ff0100"/><stop offset=".232" stop-color="#ff0500"/><stop offset=".386" stop-color="#ff1200"/><stop offset=".515" stop-color="#ff3000"/><stop offset=".584" stop-color="#ff5100"/><stop offset=".609" stop-color="#ff4900"/><stop offset=".648" stop-color="#ff1f00"/><stop offset=".661" stop-color="#ff1a00"/><stop offset=".678" stop-color="#ff2500"/><stop offset=".721" stop-color="#ff6700"/><stop offset=".742" stop-color="#ff7300"/><stop offset=".803" stop-color="#ff6100"/><stop offset=".863" stop-color="#ff6600"/><stop offset=".94" stop-color="#ff4f00"/><stop offset="1" stop-color="#ff5700"/></linearGradient>
<linearGradient id="c173" x1="0" y1="0" x2="0" y2="1"><stop offset="0" stop-color="#ff0100"/><stop offset=".275" stop-color="#ff0700"/><stop offset=".412" stop-color="#ff1a00"/><stop offset=".519" stop-color="#ff4500"/><stop offset=".541" stop-color="#ff5700"/><stop offset=".575" stop-color="#ff8100"/><stop offset=".597" stop-color="#ff9100"/><stop offset=".618" stop-color="#ff8600"/><stop offset=".665" stop-color="#ff2b00"/><stop offset=".687" stop-color="#ff1900"/><stop offset=".751" stop-color="#ff3200"/><stop offset=".794" stop-color="#ff3000"/><stop offset=".854" stop-color="#ff3c00"/><stop offset=".927" stop-color="#ff3200"/><stop offset="1" stop-color="#ff3900"/></linearGradient>
<linearGradient id="c174" x1="0" y1="0" x2="0" y2="1"><stop offset="0" stop-color="#ff0000"/><stop offset=".253" stop-color="#ff0400"/><stop offset=".408" stop-color="#ff1600"/><stop offset=".494" stop-color="#ff3b00"/><stop offset=".528" stop-color="#ff5500"/><stop offset=".549" stop-color="#ff7400"/><stop offset=".592" stop-color="#ffc700"/><stop offset=".609" stop-color="#ffd500"/><stop offset=".618" stop-color="#ffd300"/><stop offset=".631" stop-color="#ffc100"/><stop offset=".644" stop-color="#ffa300"/><stop offset=".678" stop-color="#ff4200"/><stop offset=".695" stop-color="#ff2400"/><stop offset=".708" stop-color="#ff1800"/><stop offset=".73" stop-color="#ff1200"/><stop offset=".794" stop-color="#ff1100"/><stop offset=".867" stop-color="#ff1a00"/><stop offset=".944" stop-color="#ff1600"/><stop offset="1" stop-color="#ff1b00"/></linearGradient>
<linearGradient id="c175" x1="0" y1="0" x2="0" y2="1"><stop offset="0" stop-color="#ff0000"/><stop offset=".365" stop-color="#ff0800"/><stop offset=".421" stop-color="#ff1200"/><stop offset=".476" stop-color="#ff2800"/><stop offset=".515" stop-color="#ff3f00"/><stop offset=".541" stop-color="#ff6100"/><stop offset=".558" stop-color="#ff8500"/><stop offset=".588" stop-color="#ffd800"/><stop offset=".605" stop-color="#ffff00"/><stop offset=".618" stop-color="#ffff06"/><stop offset=".635" stop-color="#ffff00"/><stop offset=".639" stop-color="#fff800"/><stop offset=".657" stop-color="#ffc900"/><stop offset=".682" stop-color="#ff7300"/><stop offset=".7" stop-color="#ff4700"/><stop offset=".712" stop-color="#ff3100"/><stop offset=".734" stop-color="#ff1d00"/><stop offset=".768" stop-color="#ff1200"/><stop offset=".828" stop-color="#ff0a00"/><stop offset="1" stop-color="#ff0900"/></linearGradient>
<linearGradient id="c176" x1="0" y1="0" x2="0" y2="1"><stop offset="0" stop-color="#ff0000"/><stop offset=".365" stop-color="#ff0300"/><stop offset=".416" stop-color="#ff0800"/><stop offset=".489" stop-color="#ff1c00"/><stop offset=".524" stop-color="#ff3200"/><stop offset=".545" stop-color="#ff5000"/><stop offset=".562" stop-color="#ff7800"/><stop offset=".597" stop-color="#ffe800"/><stop offset=".605" stop-color="#ffff01"/><stop offset=".618" stop-color="#ffff0f"/><stop offset=".631" stop-color="#ffff14"/><stop offset=".648" stop-color="#ffff0b"/><stop offset=".657" stop-color="#ffff00"/><stop offset=".691" stop-color="#ff9300"/><stop offset=".708" stop-color="#ff6700"/><stop offset=".725" stop-color="#ff4a00"/><stop offset=".751" stop-color="#ff3300"/><stop offset=".858" stop-color="#ff0f00"/><stop offset="1" stop-color="#ff0900"/></linearGradient>
<linearGradient id="c177" x1="0" y1="0" x2="0" y2="1"><stop offset="0" stop-color="#ff0000"/><stop offset=".391" stop-color="#ff0200"/><stop offset=".459" stop-color="#ff0700"/><stop offset=".511" stop-color="#ff1200"/><stop offset=".541" stop-color="#ff2900"/><stop offset=".562" stop-color="#ff4f00"/><stop offset=".579" stop-color="#ff8000"/><stop offset=".605" stop-color="#ffdb00"/><stop offset=".618" stop-color="#ffff01"/><stop offset=".631" stop-color="#ffff0c"/><stop offset=".644" stop-color="#ffff0f"/><stop offset=".665" stop-color="#fffe00"/><stop offset=".695" stop-color="#ffad00"/><stop offset=".712" stop-color="#ff8500"/><stop offset=".734" stop-color="#ff6400"/><stop offset=".755" stop-color="#ff5300"/><stop offset=".854" stop-color="#ff2300"/><stop offset="1" stop-color="#ff1500"/></linearGradient>
<linearGradient id="c178" x1="0" y1="0" x2="0" y2="1"><stop offset="0" stop-color="#ff0000"/><stop offset=".472" stop-color="#ff0600"/><stop offset=".532" stop-color="#ff0d00"/><stop offset=".549" stop-color="#ff1700"/><stop offset=".571" stop-color="#ff3600"/><stop offset=".588" stop-color="#ff6100"/><stop offset=".614" stop-color="#ffb400"/><stop offset=".627" stop-color="#ffd700"/><stop offset=".639" stop-color="#ffed00"/><stop offset=".648" stop-color="#fff300"/><stop offset=".665" stop-color="#ffe900"/><stop offset=".717" stop-color="#ff8b00"/><stop offset=".747" stop-color="#ff6d00"/><stop offset=".863" stop-color="#ff3400"/><stop offset="1" stop-color="#ff2500"/></linearGradient>
<linearGradient id="c179" x1="0" y1="0" x2="0" y2="1"><stop offset="0" stop-color="#ff0100"/><stop offset=".206" stop-color="#ff0400"/><stop offset=".502" stop-color="#ff1400"/><stop offset=".558" stop-color="#ff1000"/><stop offset=".584" stop-color="#ff2600"/><stop offset=".597" stop-color="#ff3e00"/><stop offset=".635" stop-color="#ff9b00"/><stop offset=".648" stop-color="#ffad00"/><stop offset=".661" stop-color="#ffb300"/><stop offset=".674" stop-color="#ffad00"/><stop offset=".712" stop-color="#ff8100"/><stop offset=".734" stop-color="#ff7000"/><stop offset=".794" stop-color="#ff5e00"/><stop offset=".854" stop-color="#ff4000"/><stop offset="1" stop-color="#ff2f00"/></linearGradient>
<linearGradient id="c180" x1="0" y1="0" x2="0" y2="1"><stop offset="0" stop-color="#ff0200"/><stop offset=".309" stop-color="#ff0d00"/><stop offset=".446" stop-color="#ff2100"/><stop offset=".511" stop-color="#ff3300"/><stop offset=".528" stop-color="#ff3200"/><stop offset=".584" stop-color="#ff1400"/><stop offset=".601" stop-color="#ff1d00"/><stop offset=".639" stop-color="#ff5700"/><stop offset=".665" stop-color="#ff6d00"/><stop offset=".678" stop-color="#ff6d00"/><stop offset=".725" stop-color="#ff5600"/><stop offset=".79" stop-color="#ff5000"/><stop offset=".863" stop-color="#ff3800"/><stop offset=".923" stop-color="#ff3800"/><stop offset="1" stop-color="#ff2e00"/></linearGradient>
<linearGradient id="c181" x1="0" y1="0" x2="0" y2="1"><stop offset="0" stop-color="#ff0200"/><stop offset=".202" stop-color="#ff0600"/><stop offset=".326" stop-color="#ff1200"/><stop offset=".451" stop-color="#ff3400"/><stop offset=".524" stop-color="#ff6300"/><stop offset=".536" stop-color="#ff6200"/><stop offset=".554" stop-color="#ff5400"/><stop offset=".584" stop-color="#ff2800"/><stop offset=".605" stop-color="#ff1500"/><stop offset=".618" stop-color="#ff1500"/><stop offset=".674" stop-color="#ff3400"/><stop offset=".734" stop-color="#ff2f00"/><stop offset=".79" stop-color="#ff3500"/><stop offset=".863" stop-color="#ff2800"/><stop offset=".936" stop-color="#ff2a00"/><stop offset="1" stop-color="#ff2300"/></linearGradient>
<linearGradient id="c182" x1="0" y1="0" x2="0" y2="1"><stop offset="0" stop-color="#ff0100"/><stop offset=".185" stop-color="#ff0400"/><stop offset=".343" stop-color="#ff1500"/><stop offset=".446" stop-color="#ff3c00"/><stop offset=".472" stop-color="#ff5100"/><stop offset=".524" stop-color="#ff9400"/><stop offset=".536" stop-color="#ff9b00"/><stop offset=".549" stop-color="#ff9700"/><stop offset=".562" stop-color="#ff8700"/><stop offset=".605" stop-color="#ff2f00"/><stop offset=".631" stop-color="#ff1300"/><stop offset=".721" stop-color="#ff1200"/><stop offset=".794" stop-color="#ff1a00"/><stop offset="1" stop-color="#ff1400"/></linearGradient>
<linearGradient id="c183" x1="0" y1="0" x2="0" y2="1"><stop offset="0" stop-color="#ff0000"/><stop offset=".3" stop-color="#ff0900"/><stop offset=".352" stop-color="#ff1200"/><stop offset=".403" stop-color="#ff2400"/><stop offset=".438" stop-color="#ff3300"/><stop offset=".468" stop-color="#ff4d00"/><stop offset=".485" stop-color="#ff6700"/><stop offset=".524" stop-color="#ffb400"/><stop offset=".545" stop-color="#ffcc00"/><stop offset=".558" stop-color="#ffc800"/><stop offset=".571" stop-color="#ffb700"/><stop offset=".614" stop-color="#ff4c00"/><stop offset=".631" stop-color="#ff2c00"/><stop offset=".648" stop-color="#ff1900"/><stop offset=".661" stop-color="#ff1200"/><stop offset=".734" stop-color="#ff0800"/><stop offset="1" stop-color="#ff0800"/></linearGradient>
<linearGradient id="c184" x1="0" y1="0" x2="0" y2="1"><stop offset="0" stop-color="#ff0000"/><stop offset=".3" stop-color="#ff0400"/><stop offset=".348" stop-color="#ff0900"/><stop offset=".421" stop-color="#ff1d00"/><stop offset=".455" stop-color="#ff3000"/><stop offset=".476" stop-color="#ff4a00"/><stop offset=".489" stop-color="#ff6100"/><stop offset=".536" stop-color="#ffd400"/><stop offset=".545" stop-color="#ffe200"/><stop offset=".558" stop-color="#ffeb00"/><stop offset=".567" stop-color="#ffe800"/><stop offset=".579" stop-color="#ffd600"/><stop offset=".618" stop-color="#ff7200"/><stop offset=".635" stop-color="#ff4c00"/><stop offset=".657" stop-color="#ff2e00"/><stop offset=".67" stop-color="#ff2400"/><stop offset=".79" stop-color="#ff0700"/><stop offset="1" stop-color="#ff0400"/></linearGradient>
<linearGradient id="c185" x1="0" y1="0" x2="0" y2="1"><stop offset="0" stop-color="#ff0000"/><stop offset=".326" stop-color="#ff0200"/><stop offset=".438" stop-color="#ff1300"/><stop offset=".459" stop-color="#ff1e00"/><stop offset=".485" stop-color="#ff3c00"/><stop offset=".502" stop-color="#ff6000"/><stop offset=".541" stop-color="#ffca00"/><stop offset=".554" stop-color="#ffe300"/><stop offset=".567" stop-color="#ffed00"/><stop offset=".579" stop-color="#ffe800"/><stop offset=".588" stop-color="#ffdc00"/><stop offset=".627" stop-color="#ff8200"/><stop offset=".644" stop-color="#ff6000"/><stop offset=".661" stop-color="#ff4900"/><stop offset=".678" stop-color="#ff3b00"/><stop offset=".794" stop-color="#ff1100"/><stop offset="1" stop-color="#ff0900"/></linearGradient>
<linearGradient id="c186" x1="0" y1="0" x2="0" y2="1"><stop offset="0" stop-color="#ff0000"/><stop offset=".365" stop-color="#ff0300"/><stop offset=".464" stop-color="#ff0e00"/><stop offset=".485" stop-color="#ff1e00"/><stop offset=".498" stop-color="#ff3000"/><stop offset=".511" stop-color="#ff4a00"/><stop offset=".549" stop-color="#ffb000"/><stop offset=".562" stop-color="#ffc800"/><stop offset=".575" stop-color="#ffd300"/><stop offset=".588" stop-color="#ffcf00"/><stop offset=".601" stop-color="#ffc000"/><stop offset=".631" stop-color="#ff8800"/><stop offset=".652" stop-color="#ff6700"/><stop offset=".67" stop-color="#ff5600"/><stop offset=".691" stop-color="#ff4a00"/><stop offset=".803" stop-color="#ff1e00"/><stop offset=".931" stop-color="#ff1100"/><stop offset="1" stop-color="#ff1300"/></linearGradient>
<linearGradient id="c187" x1="0" y1="0" x2="0" y2="1"><stop offset="0" stop-color="#ff0100"/><stop offset=".485" stop-color="#ff0d00"/><stop offset=".502" stop-color="#ff1800"/><stop offset=".515" stop-color="#ff2900"/><stop offset=".562" stop-color="#ff8d00"/><stop offset=".575" stop-color="#ff9e00"/><stop offset=".588" stop-color="#ffa400"/><stop offset=".605" stop-color="#ff9c00"/><stop offset=".644" stop-color="#ff6e00"/><stop offset=".67" stop-color="#ff5900"/><stop offset=".79" stop-color="#ff2b00"/><stop offset=".927" stop-color="#ff1a00"/><stop offset="1" stop-color="#ff1c00"/></linearGradient>
<linearGradient id="c188" x1="0" y1="0" x2="0" y2="1"><stop offset="0" stop-color="#ff0200"/><stop offset=".245" stop-color="#ff0a00"/><stop offset=".433" stop-color="#ff1f00"/><stop offset=".455" stop-color="#ff1f00"/><stop offset=".511" stop-color="#ff1000"/><stop offset=".532" stop-color="#ff2000"/><stop offset=".575" stop-color="#ff5f00"/><stop offset=".597" stop-color="#ff6c00"/><stop offset=".614" stop-color="#ff6800"/><stop offset=".661" stop-color="#ff4c00"/><stop offset=".738" stop-color="#ff3e00"/><stop offset=".803" stop-color="#ff2900"/><stop offset=".931" stop-color="#ff1d00"/><stop offset="1" stop-color="#ff2000"/></linearGradient>
<linearGradient id="c189" x1="0" y1="0" x2="0" y2="1"><stop offset="0" stop-color="#ff0200"/><stop offset=".266" stop-color="#ff1000"/><stop offset=".386" stop-color="#ff2800"/><stop offset=".451" stop-color="#ff4300"/><stop offset=".472" stop-color="#ff3f00"/><stop offset=".515" stop-color="#ff1800"/><stop offset=".532" stop-color="#ff1100"/><stop offset=".549" stop-color="#ff1600"/><stop offset=".584" stop-color="#ff3100"/><stop offset=".605" stop-color="#ff3900"/><stop offset=".665" stop-color="#ff2f00"/><stop offset=".734" stop-color="#ff2f00"/><stop offset=".798" stop-color="#ff2100"/><stop offset=".927" stop-color="#ff1900"/><stop offset="1" stop-color="#ff1c00"/></linearGradient>
<linearGradient id="c190" x1="0" y1="0" x2="0" y2="1"><stop offset="0" stop-color="#ff0200"/><stop offset=".137" stop-color="#ff0500"/><stop offset=".288" stop-color="#ff1600"/><stop offset=".386" stop-color="#ff3500"/><stop offset=".446" stop-color="#ff6800"/><stop offset=".464" stop-color="#ff7100"/><stop offset=".485" stop-color="#ff6800"/><stop offset=".528" stop-color="#ff2700"/><stop offset=".545" stop-color="#ff1500"/><stop offset=".558" stop-color="#ff0f00"/><stop offset=".708" stop-color="#ff1a00"/><stop offset=".914" stop-color="#ff1100"/><stop offset="1" stop-color="#ff1300"/></linearGradient>
<linearGradient id="c191" x1="0" y1="0" x2="0" y2="1"><stop offset="0" stop-color="#ff0100"/><stop offset=".249" stop-color="#ff0b00"/><stop offset=".339" stop-color="#ff2300"/><stop offset=".373" stop-color="#ff3000"/><stop offset=".399" stop-color="#ff4200"/><stop offset=".455" stop-color="#ff8f00"/><stop offset=".472" stop-color="#ff9d00"/><stop offset=".494" stop-color="#ff9400"/><stop offset=".511" stop-color="#ff7800"/><stop offset=".549" stop-color="#ff2b00"/><stop offset=".567" stop-color="#ff1700"/><stop offset=".579" stop-color="#ff0f00"/><stop offset=".631" stop-color="#ff0800"/><stop offset="1" stop-color="#ff0900"/></linearGradient>
<linearGradient id="c192" x1="0" y1="0" x2="0" y2="1"><stop offset="0" stop-color="#ff0000"/><stop offset=".258" stop-color="#ff0700"/><stop offset=".356" stop-color="#ff1f00"/><stop offset=".391" stop-color="#ff3200"/><stop offset=".408" stop-color="#ff4400"/><stop offset=".421" stop-color="#ff5700"/><stop offset=".464" stop-color="#ffaa00"/><stop offset=".485" stop-color="#ffbe00"/><stop offset=".498" stop-color="#ffb900"/><stop offset=".511" stop-color="#ffa700"/><stop offset=".562" stop-color="#ff3a00"/><stop offset=".584" stop-color="#ff2000"/><stop offset=".605" stop-color="#ff1400"/><stop offset=".704" stop-color="#ff0500"/><stop offset="1" stop-color="#ff0300"/></linearGradient>
<linearGradient id="c193" x1="0" y1="0" x2="0" y2="1"><stop offset="0" stop-color="#ff0000"/><stop offset=".266" stop-color="#ff0300"/><stop offset=".373" stop-color="#ff1700"/><stop offset=".399" stop-color="#ff2700"/><stop offset=".416" stop-color="#ff3c00"/><stop offset=".429" stop-color="#ff5200"/><stop offset=".476" stop-color="#ffb900"/><stop offset=".494" stop-color="#ffc900"/><stop offset=".502" stop-color="#ffc800"/><stop offset=".515" stop-color="#ffbb00"/><stop offset=".554" stop-color="#ff6c00"/><stop offset=".579" stop-color="#ff4100"/><stop offset=".592" stop-color="#ff3300"/><stop offset=".618" stop-color="#ff2400"/><stop offset=".738" stop-color="#ff0800"/><stop offset="1" stop-color="#ff0300"/></linearGradient>
<linearGradient id="c194" x1="0" y1="0" x2="0" y2="1"><stop offset="0" stop-color="#ff0000"/><stop offset=".288" stop-color="#ff0200"/><stop offset=".386" stop-color="#ff0d00"/><stop offset=".408" stop-color="#ff1900"/><stop offset=".429" stop-color="#ff3300"/><stop offset=".481" stop-color="#ffa300"/><stop offset=".494" stop-color="#ffb500"/><stop offset=".506" stop-color="#ffbc00"/><stop offset=".524" stop-color="#ffb100"/><stop offset=".579" stop-color="#ff5600"/><stop offset=".618" stop-color="#ff3800"/><stop offset=".738" stop-color="#ff1200"/><stop offset=".854" stop-color="#ff0900"/><stop offset="1" stop-color="#ff0700"/></linearGradient>
<linearGradient id="c195" x1="0" y1="0" x2="0" y2="1"><stop offset="0" stop-color="#ff0100"/><stop offset=".33" stop-color="#ff0500"/><stop offset=".412" stop-color="#ff0c00"/><stop offset=".442" stop-color="#ff2700"/><stop offset=".489" stop-color="#ff8300"/><stop offset=".511" stop-color="#ff9900"/><stop offset=".532" stop-color="#ff9200"/><stop offset=".575" stop-color="#ff5f00"/><stop offset=".601" stop-color="#ff4a00"/><stop offset=".717" stop-color="#ff2000"/><stop offset=".867" stop-color="#ff0f00"/><stop offset="1" stop-color="#ff0d00"/></linearGradient>
<linearGradient id="c196" x1="0" y1="0" x2="0" y2="1"><stop offset="0" stop-color="#ff0300"/><stop offset=".369" stop-color="#ff1300"/><stop offset=".429" stop-color="#ff0c00"/><stop offset=".455" stop-color="#ff1b00"/><stop offset=".498" stop-color="#ff5900"/><stop offset=".524" stop-color="#ff6c00"/><stop offset=".541" stop-color="#ff6800"/><stop offset=".601" stop-color="#ff4200"/><stop offset=".734" stop-color="#ff2000"/><stop offset=".871" stop-color="#ff1300"/><stop offset="1" stop-color="#ff1000"/></linearGradient>
<linearGradient id="c197" x1="0" y1="0" x2="0" y2="1"><stop offset="0" stop-color="#ff0300"/><stop offset=".18" stop-color="#ff0b00"/><stop offset=".318" stop-color="#ff1d00"/><stop offset=".382" stop-color="#ff2d00"/><stop offset=".399" stop-color="#ff2a00"/><stop offset=".455" stop-color="#ff0e00"/><stop offset=".468" stop-color="#ff1100"/><stop offset=".515" stop-color="#ff3800"/><stop offset=".532" stop-color="#ff3e00"/><stop offset=".592" stop-color="#ff3000"/><stop offset=".661" stop-color="#ff2c00"/><stop offset=".738" stop-color="#ff1c00"/><stop offset="1" stop-color="#ff1000"/></linearGradient>
<linearGradient id="c198" x1="0" y1="0" x2="0" y2="1"><stop offset="0" stop-color="#ff0300"/><stop offset=".163" stop-color="#ff0b00"/><stop offset=".223" stop-color="#ff1400"/><stop offset=".318" stop-color="#ff2a00"/><stop offset=".373" stop-color="#ff4b00"/><stop offset=".395" stop-color="#ff5200"/><stop offset=".412" stop-color="#ff4c00"/><stop offset=".459" stop-color="#ff1800"/><stop offset=".485" stop-color="#ff0d00"/><stop offset=".545" stop-color="#ff1c00"/><stop offset="1" stop-color="#ff0d00"/></linearGradient>
<linearGradient id="c199" x1="0" y1="0" x2="0" y2="1"><stop offset="0" stop-color="#ff0200"/><stop offset=".18" stop-color="#ff0b00"/><stop offset=".292" stop-color="#ff2600"/><stop offset=".335" stop-color="#ff3c00"/><stop offset=".386" stop-color="#ff7100"/><stop offset=".403" stop-color="#ff7900"/><stop offset=".416" stop-color="#ff7600"/><stop offset=".429" stop-color="#ff6900"/><stop offset=".481" stop-color="#ff1b00"/><stop offset=".515" stop-color="#ff0a00"/><stop offset="1" stop-color="#ff0700"/></linearGradient>
<linearGradient id="c200" x1="0" y1="0" x2="0" y2="1"><stop offset="0" stop-color="#ff0100"/><stop offset=".189" stop-color="#ff0800"/><stop offset=".296" stop-color="#ff2200"/><stop offset=".339" stop-color="#ff3e00"/><stop offset=".391" stop-color="#ff8900"/><stop offset=".412" stop-color="#ff9a00"/><stop offset=".425" stop-color="#ff9700"/><stop offset=".438" stop-color="#ff8900"/><stop offset=".476" stop-color="#ff4100"/><stop offset=".494" stop-color="#ff2700"/><stop offset=".528" stop-color="#ff0e00"/><stop offset=".622" stop-color="#ff0400"/><stop offset="1" stop-color="#ff0200"/></linearGradient>
<linearGradient id="c201" x1="0" y1="0" x2="0" y2="1"><stop offset="0" stop-color="#ff0000"/><stop offset=".197" stop-color="#ff0400"/><stop offset=".305" stop-color="#ff1900"/><stop offset=".343" stop-color="#ff3500"/><stop offset=".361" stop-color="#ff4e00"/><stop offset=".399" stop-color="#ff9600"/><stop offset=".421" stop-color="#ffab00"/><stop offset=".442" stop-color="#ffa100"/><stop offset=".485" stop-color="#ff5300"/><stop offset=".511" stop-color="#ff2e00"/><stop offset=".549" stop-color="#ff1700"/><stop offset=".674" stop-color="#ff0400"/><stop offset="1" stop-color="#ff0100"/></linearGradient>
<linearGradient id="c202" x1="0" y1="0" x2="0" y2="1"><stop offset="0" stop-color="#ff0000"/><stop offset=".215" stop-color="#ff0200"/><stop offset=".318" stop-color="#ff1000"/><stop offset=".352" stop-color="#ff2a00"/><stop offset=".369" stop-color="#ff4400"/><stop offset=".412" stop-color="#ff9700"/><stop offset=".433" stop-color="#ffa800"/><stop offset=".455" stop-color="#ff9a00"/><stop offset=".511" stop-color="#ff4400"/><stop offset=".536" stop-color="#ff2f00"/><stop offset=".562" stop-color="#ff2500"/><stop offset=".67" stop-color="#ff0b00"/><stop offset="1" stop-color="#ff0300"/></linearGradient>
<linearGradient id="c203" x1="0" y1="0" x2="0" y2="1"><stop offset="0" stop-color="#ff0100"/><stop offset=".262" stop-color="#ff0300"/><stop offset=".33" stop-color="#ff0900"/><stop offset=".365" stop-color="#ff2000"/><stop offset=".382" stop-color="#ff3a00"/><stop offset=".416" stop-color="#ff7a00"/><stop offset=".429" stop-color="#ff8a00"/><stop offset=".442" stop-color="#ff9000"/><stop offset=".459" stop-color="#ff8a00"/><stop offset=".506" stop-color="#ff5200"/><stop offset=".528" stop-color="#ff4000"/><stop offset=".631" stop-color="#ff1c00"/><stop offset=".674" stop-color="#ff1300"/><stop offset=".803" stop-color="#ff0900"/><stop offset="1" stop-color="#ff0800"/></linearGradient>
<linearGradient id="c204" x1="0" y1="0" x2="0" y2="1"><stop offset="0" stop-color="#ff0300"/><stop offset=".356" stop-color="#ff0a00"/><stop offset=".382" stop-color="#ff1b00"/><stop offset=".429" stop-color="#ff5e00"/><stop offset=".451" stop-color="#ff6c00"/><stop offset=".472" stop-color="#ff6600"/><stop offset=".532" stop-color="#ff3c00"/><stop offset=".661" stop-color="#ff1a00"/><stop offset=".807" stop-color="#ff0d00"/><stop offset="1" stop-color="#ff0b00"/></linearGradient>
<linearGradient id="c205" x1="0" y1="0" x2="0" y2="1"><stop offset="0" stop-color="#ff0400"/><stop offset=".129" stop-color="#ff0a00"/><stop offset=".305" stop-color="#ff1d00"/><stop offset=".382" stop-color="#ff0c00"/><stop offset=".399" stop-color="#ff1400"/><stop offset=".446" stop-color="#ff3f00"/><stop offset=".464" stop-color="#ff4400"/><stop offset=".541" stop-color="#ff2d00"/><stop offset=".597" stop-color="#ff2800"/><stop offset=".661" stop-color="#ff1900"/><stop offset=".79" stop-color="#ff0f00"/><stop offset="1" stop-color="#ff0d00"/></linearGradient>
<linearGradient id="c206" x1="0" y1="0" x2="0" y2="1"><stop offset="0" stop-color="#ff0500"/><stop offset=".112" stop-color="#ff0b00"/><stop offset=".24" stop-color="#ff1f00"/><stop offset=".318" stop-color="#ff3a00"/><stop offset=".343" stop-color="#ff3400"/><stop offset=".386" stop-color="#ff1200"/><stop offset=".403" stop-color="#ff0c00"/><stop offset=".476" stop-color="#ff2200"/><stop offset=".798" stop-color="#ff0c00"/><stop offset="1" stop-color="#ff0b00"/></linearGradient>
<linearGradient id="c207" x1="0" y1="0" x2="0" y2="1"><stop offset="0" stop-color="#ff0400"/><stop offset=".116" stop-color="#ff0b00"/><stop offset=".24" stop-color="#ff2600"/><stop offset=".33" stop-color="#ff5d00"/><stop offset=".352" stop-color="#ff5500"/><stop offset=".399" stop-color="#ff1c00"/><stop offset=".429" stop-color="#ff0a00"/><stop offset=".592" stop-color="#ff0f00"/><stop offset="1" stop-color="#ff0700"/></linearGradient>
<linearGradient id="c208" x1="0" y1="0" x2="0" y2="1"><stop offset="0" stop-color="#ff0300"/><stop offset=".137" stop-color="#ff0b00"/><stop offset=".24" stop-color="#ff2500"/><stop offset=".279" stop-color="#ff4000"/><stop offset=".326" stop-color="#ff7600"/><stop offset=".343" stop-color="#ff7d00"/><stop offset=".369" stop-color="#ff6b00"/><stop offset=".421" stop-color="#ff1e00"/><stop offset=".438" stop-color="#ff1000"/><stop offset=".464" stop-color="#ff0800"/><stop offset="1" stop-color="#ff0300"/></linearGradient>
<linearGradient id="c209" x1="0" y1="0" x2="0" y2="1"><stop offset="0" stop-color="#ff0100"/><stop offset=".137" stop-color="#ff0600"/><stop offset=".24" stop-color="#ff1c00"/><stop offset=".275" stop-color="#ff3400"/><stop offset=".326" stop-color="#ff7e00"/><stop offset=".352" stop-color="#ff9200"/><stop offset=".373" stop-color="#ff8500"/><stop offset=".433" stop-color="#ff2800"/><stop offset=".459" stop-color="#ff1500"/><stop offset=".494" stop-color="#ff0c00"/><stop offset=".614" stop-color="#ff0200"/><stop offset="1" stop-color="#ff0100"/></linearGradient>
<linearGradient id="c210" x1="0" y1="0" x2="0" y2="1"><stop offset="0" stop-color="#ff0000"/><stop offset=".137" stop-color="#ff0200"/><stop offset=".245" stop-color="#ff1100"/><stop offset=".279" stop-color="#ff2700"/><stop offset=".296" stop-color="#ff3d00"/><stop offset=".343" stop-color="#ff8b00"/><stop offset=".361" stop-color="#ff9600"/><stop offset=".382" stop-color="#ff8b00"/><stop offset=".442" stop-color="#ff3500"/><stop offset=".485" stop-color="#ff1c00"/><stop offset=".605" stop-color="#ff0600"/><stop offset="1" stop-color="#ff0100"/></linearGradient>
<linearGradient id="c211" x1="0" y1="0" x2="0" y2="1"><stop offset="0" stop-color="#ff0100"/><stop offset=".176" stop-color="#ff0200"/><stop offset=".262" stop-color="#ff0b00"/><stop offset=".279" stop-color="#ff1400"/><stop offset=".3" stop-color="#ff2a00"/><stop offset=".348" stop-color="#ff7700"/><stop offset=".369" stop-color="#ff8800"/><stop offset=".386" stop-color="#ff8300"/><stop offset=".442" stop-color="#ff4200"/><stop offset=".468" stop-color="#ff3000"/><stop offset=".588" stop-color="#ff0f00"/><stop offset=".747" stop-color="#ff0500"/><stop offset="1" stop-color="#ff0300"/></linearGradient>
<linearGradient id="c212" x1="0" y1="0" x2="0" y2="1"><stop offset="0" stop-color="#ff0300"/><stop offset=".283" stop-color="#ff0a00"/><stop offset=".309" stop-color="#ff1b00"/><stop offset=".356" stop-color="#ff5c00"/><stop offset=".378" stop-color="#ff6b00"/><stop offset=".399" stop-color="#ff6600"/><stop offset=".442" stop-color="#ff4200"/><stop offset=".468" stop-color="#ff3400"/><stop offset=".584" stop-color="#ff1600"/><stop offset=".738" stop-color="#ff0900"/><stop offset="1" stop-color="#ff0600"/></linearGradient>
<linearGradient id="c213" x1="0" y1="0" x2="0" y2="1"><stop offset="0" stop-color="#ff0600"/><stop offset=".232" stop-color="#ff1200"/><stop offset=".305" stop-color="#ff0a00"/><stop offset=".326" stop-color="#ff1500"/><stop offset=".365" stop-color="#ff3d00"/><stop offset=".386" stop-color="#ff4800"/><stop offset=".412" stop-color="#ff4400"/><stop offset=".455" stop-color="#ff3000"/><stop offset=".601" stop-color="#ff1500"/><stop offset=".742" stop-color="#ff0b00"/><stop offset="1" stop-color="#ff0700"/></linearGradient>
<linearGradient id="c214" x1="0" y1="0" x2="0" y2="1"><stop offset="0" stop-color="#ff0800"/><stop offset=".18" stop-color="#ff1900"/><stop offset=".24" stop-color="#ff2800"/><stop offset=".266" stop-color="#ff2600"/><stop offset=".313" stop-color="#ff0d00"/><stop offset=".33" stop-color="#ff0b00"/><stop offset=".382" stop-color="#ff2400"/><stop offset=".408" stop-color="#ff2800"/><stop offset=".609" stop-color="#ff1100"/><stop offset="1" stop-color="#ff0700"/></linearGradient>
<linearGradient id="c215" x1="0" y1="0" x2="0" y2="1"><stop offset="0" stop-color="#ff0800"/><stop offset=".069" stop-color="#ff0d00"/><stop offset=".176" stop-color="#ff2100"/><stop offset=".262" stop-color="#ff4600"/><stop offset=".283" stop-color="#ff3e00"/><stop offset=".322" stop-color="#ff1800"/><stop offset=".348" stop-color="#ff0a00"/><stop offset=".528" stop-color="#ff1100"/><stop offset=".712" stop-color="#ff0800"/><stop offset="1" stop-color="#ff0500"/></linearGradient>
<linearGradient id="c216" x1="0" y1="0" x2="0" y2="1"><stop offset="0" stop-color="#ff0600"/><stop offset=".073" stop-color="#ff0c00"/><stop offset=".172" stop-color="#ff2200"/><stop offset=".206" stop-color="#ff3400"/><stop offset=".253" stop-color="#ff5e00"/><stop offset=".275" stop-color="#ff6400"/><stop offset=".3" stop-color="#ff5200"/><stop offset=".33" stop-color="#ff2900"/><stop offset=".352" stop-color="#ff1300"/><stop offset=".378" stop-color="#ff0800"/><stop offset="1" stop-color="#ff0300"/></linearGradient>
<linearGradient id="c217" x1="0" y1="0" x2="0" y2="1"><stop offset="0" stop-color="#ff0400"/><stop offset=".082" stop-color="#ff0900"/><stop offset=".18" stop-color="#ff2000"/><stop offset=".206" stop-color="#ff3100"/><stop offset=".266" stop-color="#ff7600"/><stop offset=".283" stop-color="#ff7b00"/><stop offset=".309" stop-color="#ff6800"/><stop offset=".348" stop-color="#ff2e00"/><stop offset=".365" stop-color="#ff1c00"/><stop offset=".408" stop-color="#ff0900"/><stop offset=".519" stop-color="#ff0200"/><stop offset="1" stop-color="#ff0100"/></linearGradient>
<linearGradient id="c218" x1="0" y1="0" x2="0" y2="1"><stop offset="0" stop-color="#ff0100"/><stop offset=".082" stop-color="#ff0400"/><stop offset=".18" stop-color="#ff1500"/><stop offset=".215" stop-color="#ff2d00"/><stop offset=".27" stop-color="#ff7a00"/><stop offset=".292" stop-color="#ff8500"/><stop offset=".313" stop-color="#ff7800"/><stop offset=".373" stop-color="#ff2800"/><stop offset=".403" stop-color="#ff1700"/><stop offset=".433" stop-color="#ff1000"/><stop offset=".545" stop-color="#ff0300"/><stop offset="1" stop-color="#ff0000"/></linearGradient>
<linearGradient id="c219" x1="0" y1="0" x2="0" y2="1"><stop offset="0" stop-color="#ff0100"/><stop offset=".12" stop-color="#ff0300"/><stop offset=".193" stop-color="#ff0e00"/><stop offset=".227" stop-color="#ff2800"/><stop offset=".279" stop-color="#ff7300"/><stop offset=".3" stop-color="#ff7f00"/><stop offset=".322" stop-color="#ff7400"/><stop offset=".365" stop-color="#ff4000"/><stop offset=".391" stop-color="#ff2b00"/><stop offset=".506" stop-color="#ff0c00"/><stop offset=".657" stop-color="#ff0300"/><stop offset="1" stop-color="#ff0200"/></linearGradient>
<linearGradient id="c220" x1="0" y1="0" x2="0" y2="1"><stop offset="0" stop-color="#ff0200"/><stop offset=".176" stop-color="#ff0400"/><stop offset=".21" stop-color="#ff0a00"/><stop offset=".24" stop-color="#ff2000"/><stop offset=".288" stop-color="#ff5f00"/><stop offset=".309" stop-color="#ff6a00"/><stop offset=".326" stop-color="#ff6500"/><stop offset=".373" stop-color="#ff3c00"/><stop offset=".403" stop-color="#ff2c00"/><stop offset=".515" stop-color="#ff1100"/><stop offset=".674" stop-color="#ff0600"/><stop offset="1" stop-color="#ff0400"/></linearGradient>
<linearGradient id="c221" x1="0" y1="0" x2="0" y2="1"><stop offset="0" stop-color="#ff0600"/><stop offset=".223" stop-color="#ff0800"/><stop offset=".249" stop-color="#ff1300"/><stop offset=".296" stop-color="#ff4300"/><stop offset=".322" stop-color="#ff4d00"/><stop offset=".395" stop-color="#ff2c00"/><stop offset=".541" stop-color="#ff1100"/><stop offset=".777" stop-color="#ff0600"/><stop offset="1" stop-color="#ff0600"/></linearGradient>
<linearGradient id="c222" x1="0" y1="0" x2="0" y2="1"><stop offset="0" stop-color="#ff0a00"/><stop offset=".185" stop-color="#ff1b00"/><stop offset=".249" stop-color="#ff0900"/><stop offset=".27" stop-color="#ff1000"/><stop offset=".313" stop-color="#ff2b00"/><stop offset=".335" stop-color="#ff2e00"/><stop offset=".391" stop-color="#ff2100"/><stop offset=".541" stop-color="#ff1000"/><stop offset=".798" stop-color="#ff0600"/><stop offset="1" stop-color="#ff0600"/></linearGradient>
<linearGradient id="c223" x1="0" y1="0" x2="0" y2="1"><stop offset="0" stop-color="#ff0c00"/><stop offset=".107" stop-color="#ff1b00"/><stop offset=".189" stop-color="#ff3400"/><stop offset=".21" stop-color="#ff2e00"/><stop offset=".253" stop-color="#ff0f00"/><stop offset=".275" stop-color="#ff0900"/><stop offset=".322" stop-color="#ff1400"/><stop offset=".356" stop-color="#ff1500"/><stop offset=".67" stop-color="#ff0700"/><stop offset="1" stop-color="#ff0500"/></linearGradient>
<linearGradient id="c224" x1="0" y1="0" x2="0" y2="1"><stop offset="0" stop-color="#ff0c00"/><stop offset=".112" stop-color="#ff2100"/><stop offset=".18" stop-color="#ff4a00"/><stop offset=".202" stop-color="#ff4f00"/><stop offset=".223" stop-color="#ff4500"/><stop offset=".275" stop-color="#ff1100"/><stop offset=".305" stop-color="#ff0700"/><stop offset="1" stop-color="#ff0300"/></linearGradient>
<linearGradient id="c225" x1="0" y1="0" x2="0" y2="1"><stop offset="0" stop-color="#ff0900"/><stop offset=".116" stop-color="#ff2100"/><stop offset=".142" stop-color="#ff3100"/><stop offset=".185" stop-color="#ff5c00"/><stop offset=".215" stop-color="#ff6700"/><stop offset=".236" stop-color="#ff5800"/><stop offset=".288" stop-color="#ff1900"/><stop offset=".309" stop-color="#ff0c00"/><stop offset=".335" stop-color="#ff0600"/><stop offset="1" stop-color="#ff0100"/></linearGradient>
<linearGradient id="c226" x1="0" y1="0" x2="0" y2="1"><stop offset="0" stop-color="#ff0500"/><stop offset=".086" stop-color="#ff1000"/><stop offset=".124" stop-color="#ff1d00"/><stop offset=".155" stop-color="#ff3600"/><stop offset=".197" stop-color="#ff6b00"/><stop offset=".219" stop-color="#ff7600"/><stop offset=".245" stop-color="#ff6600"/><stop offset=".3" stop-color="#ff2100"/><stop offset=".326" stop-color="#ff1200"/><stop offset=".356" stop-color="#ff0b00"/><stop offset=".455" stop-color="#ff0200"/><stop offset="1" stop-color="#ff0000"/></linearGradient>
<linearGradient id="c227" x1="0" y1="0" x2="0" y2="1"><stop offset="0" stop-color="#ff0200"/><stop offset=".09" stop-color="#ff0800"/><stop offset=".133" stop-color="#ff1500"/><stop offset=".159" stop-color="#ff2b00"/><stop offset=".21" stop-color="#ff6e00"/><stop offset=".227" stop-color="#ff7600"/><stop offset=".245" stop-color="#ff7000"/><stop offset=".3" stop-color="#ff3100"/><stop offset=".318" stop-color="#ff2400"/><stop offset=".348" stop-color="#ff1900"/><stop offset=".438" stop-color="#ff0800"/><stop offset=".567" stop-color="#ff0200"/><stop offset="1" stop-color="#ff0000"/></linearGradient>
<linearGradient id="c228" x1="0" y1="0" x2="0" y2="1"><stop offset="0" stop-color="#ff0200"/><stop offset=".133" stop-color="#ff0900"/><stop offset=".155" stop-color="#ff1400"/><stop offset=".215" stop-color="#ff5c00"/><stop offset=".236" stop-color="#ff6800"/><stop offset=".253" stop-color="#ff6300"/><stop offset=".3" stop-color="#ff3900"/><stop offset=".33" stop-color="#ff2700"/><stop offset=".446" stop-color="#ff0d00"/><stop offset=".597" stop-color="#ff0400"/><stop offset="1" stop-color="#ff0200"/></linearGradient>
<linearGradient id="c229" x1="0" y1="0" x2="0" y2="1"><stop offset="0" stop-color="#ff0600"/><stop offset=".15" stop-color="#ff0700"/><stop offset=".176" stop-color="#ff1400"/><stop offset=".223" stop-color="#ff4500"/><stop offset=".249" stop-color="#ff5000"/><stop offset=".33" stop-color="#ff2800"/><stop offset=".472" stop-color="#ff0e00"/><stop offset=".717" stop-color="#ff0400"/><stop offset="1" stop-color="#ff0300"/></linearGradient>
<linearGradient id="c230" x1="0" y1="0" x2="0" y2="1"><stop offset="0" stop-color="#ff0c00"/><stop offset=".12" stop-color="#ff1100"/><stop offset=".172" stop-color="#ff0800"/><stop offset=".193" stop-color="#ff0f00"/><stop offset=".236" stop-color="#ff2e00"/><stop offset=".262" stop-color="#ff3400"/><stop offset=".33" stop-color="#ff2100"/><stop offset=".468" stop-color="#ff0f00"/><stop offset=".717" stop-color="#ff0500"/><stop offset="1" stop-color="#ff0400"/></linearGradient>
<linearGradient id="c231" x1="0" y1="0" x2="0" y2="1"><stop offset="0" stop-color="#ff1300"/><stop offset=".124" stop-color="#ff2500"/><stop offset=".189" stop-color="#ff0900"/><stop offset=".275" stop-color="#ff1b00"/><stop offset=".588" stop-color="#ff0700"/><stop offset="1" stop-color="#ff0300"/></linearGradient>
<linearGradient id="c232" x1="0" y1="0" x2="0" y2="1"><stop offset="0" stop-color="#ff1600"/><stop offset=".052" stop-color="#ff1f00"/><stop offset=".129" stop-color="#ff3e00"/><stop offset=".146" stop-color="#ff3900"/><stop offset=".197" stop-color="#ff0f00"/><stop offset=".223" stop-color="#ff0700"/><stop offset=".403" stop-color="#ff0b00"/><stop offset="1" stop-color="#ff0200"/></linearGradient>
<linearGradient id="c233" x1="0" y1="0" x2="0" y2="1"><stop offset="0" stop-color="#ff1500"/><stop offset=".064" stop-color="#ff2700"/><stop offset=".12" stop-color="#ff5100"/><stop offset=".137" stop-color="#ff5600"/><stop offset=".159" stop-color="#ff4d00"/><stop offset=".197" stop-color="#ff2300"/><stop offset=".223" stop-color="#ff0e00"/><stop offset=".258" stop-color="#ff0500"/><stop offset="1" stop-color="#ff0100"/></linearGradient>
<linearGradient id="c234" x1="0" y1="0" x2="0" y2="1"><stop offset="0" stop-color="#ff1000"/><stop offset=".06" stop-color="#ff2000"/><stop offset=".077" stop-color="#ff2c00"/><stop offset=".129" stop-color="#ff6000"/><stop offset=".15" stop-color="#ff6600"/><stop offset=".172" stop-color="#ff5a00"/><stop offset=".227" stop-color="#ff1b00"/><stop offset=".253" stop-color="#ff0d00"/><stop offset=".283" stop-color="#ff0700"/><stop offset=".403" stop-color="#ff0100"/><stop offset="1" stop-color="#ff0000"/></linearGradient>
<linearGradient id="c235" x1="0" y1="0" x2="0" y2="1"><stop offset="0" stop-color="#ff0800"/><stop offset=".064" stop-color="#ff1800"/><stop offset=".082" stop-color="#ff2400"/><stop offset=".137" stop-color="#ff6400"/><stop offset=".159" stop-color="#ff6c00"/><stop offset=".176" stop-color="#ff6400"/><stop offset=".219" stop-color="#ff3400"/><stop offset=".249" stop-color="#ff1c00"/><stop offset=".335" stop-color="#ff0900"/><stop offset=".489" stop-color="#ff0100"/><stop offset="1" stop-color="#ff0000"/></linearGradient>
<linearGradient id="c236" x1="0" y1="0" x2="0" y2="1"><stop offset="0" stop-color="#ff0300"/><stop offset=".043" stop-color="#ff0600"/><stop offset=".077" stop-color="#ff1200"/><stop offset=".099" stop-color="#ff2400"/><stop offset=".15" stop-color="#ff5f00"/><stop offset=".172" stop-color="#ff6400"/><stop offset=".189" stop-color="#ff5b00"/><stop offset=".236" stop-color="#ff2f00"/><stop offset=".266" stop-color="#ff1f00"/><stop offset=".373" stop-color="#ff0a00"/><stop offset=".554" stop-color="#ff0200"/><stop offset="1" stop-color="#ff0100"/></linearGradient>
<linearGradient id="c237" x1="0" y1="0" x2="0" y2="1"><stop offset="0" stop-color="#ff0300"/><stop offset=".082" stop-color="#ff0900"/><stop offset=".103" stop-color="#ff1500"/><stop offset=".15" stop-color="#ff4600"/><stop offset=".18" stop-color="#ff5100"/><stop offset=".262" stop-color="#ff2500"/><stop offset=".395" stop-color="#ff0c00"/><stop offset=".635" stop-color="#ff0300"/><stop offset="1" stop-color="#ff0200"/></linearGradient>
<linearGradient id="c238" x1="0" y1="0" x2="0" y2="1"><stop offset="0" stop-color="#ff0900"/><stop offset=".107" stop-color="#ff0a00"/><stop offset=".163" stop-color="#ff3200"/><stop offset=".189" stop-color="#ff3900"/><stop offset=".266" stop-color="#ff2000"/><stop offset=".403" stop-color="#ff0d00"/><stop offset=".644" stop-color="#ff0400"/><stop offset="1" stop-color="#ff0300"/></linearGradient>
<linearGradient id="c239" x1="0" y1="0" x2="0" y2="1"><stop offset="0" stop-color="#ff1400"/><stop offset=".047" stop-color="#ff1a00"/><stop offset=".124" stop-color="#ff0800"/><stop offset=".197" stop-color="#ff2100"/><stop offset=".382" stop-color="#ff0d00"/><stop offset=".511" stop-color="#ff0700"/><stop offset="1" stop-color="#ff0300"/></linearGradient>
<linearGradient id="c240" x1="0" y1="0" x2="0" y2="1"><stop offset="0" stop-color="#ff2000"/><stop offset=".06" stop-color="#ff2f00"/><stop offset=".142" stop-color="#ff0700"/><stop offset=".227" stop-color="#ff0e00"/><stop offset=".648" stop-color="#ff0300"/><stop offset="1" stop-color="#ff0300"/></linearGradient>
<linearGradient id="c241" x1="0" y1="0" x2="0" y2="1"><stop offset="0" stop-color="#ff2700"/><stop offset=".064" stop-color="#ff4600"/><stop offset=".094" stop-color="#ff3900"/><stop offset=".142" stop-color="#ff0f00"/><stop offset=".176" stop-color="#ff0500"/><stop offset="1" stop-color="#ff0100"/></linearGradient>
<linearGradient id="c242" x1="0" y1="0" x2="0" y2="1"><stop offset="0" stop-color="#ff2700"/><stop offset=".056" stop-color="#ff5200"/><stop offset=".077" stop-color="#ff5800"/><stop offset=".099" stop-color="#ff4e00"/><stop offset=".142" stop-color="#ff2000"/><stop offset=".163" stop-color="#ff1000"/><stop offset=".206" stop-color="#ff0500"/><stop offset="1" stop-color="#ff0000"/></linearGradient>
<linearGradient id="c243" x1="0" y1="0" x2="0" y2="1"><stop offset="0" stop-color="#ff1e00"/><stop offset=".017" stop-color="#ff2900"/><stop offset=".06" stop-color="#ff5600"/><stop offset=".086" stop-color="#ff6200"/><stop offset=".107" stop-color="#ff5800"/><stop offset=".146" stop-color="#ff2e00"/><stop offset=".172" stop-color="#ff1900"/><stop offset=".232" stop-color="#ff0900"/><stop offset=".361" stop-color="#ff0100"/><stop offset="1" stop-color="#ff0000"/></linearGradient>
<linearGradient id="c244" x1="0" y1="0" x2="0" y2="1"><stop offset="0" stop-color="#ff1200"/><stop offset=".021" stop-color="#ff1f00"/><stop offset=".073" stop-color="#ff5600"/><stop offset=".099" stop-color="#ff5f00"/><stop offset=".12" stop-color="#ff5400"/><stop offset=".159" stop-color="#ff2f00"/><stop offset=".189" stop-color="#ff1c00"/><stop offset=".313" stop-color="#ff0600"/><stop offset="1" stop-color="#ff0000"/></linearGradient>
<linearGradient id="c245" x1="0" y1="0" x2="0" y2="1"><stop offset="0" stop-color="#ff0800"/><stop offset=".034" stop-color="#ff1900"/><stop offset=".086" stop-color="#ff4c00"/><stop offset=".107" stop-color="#ff5200"/><stop offset=".193" stop-color="#ff2100"/><stop offset=".318" stop-color="#ff0a00"/><stop offset=".472" stop-color="#ff0300"/><stop offset="1" stop-color="#ff0100"/></linearGradient>
<linearGradient id="c246" x1="0" y1="0" x2="0" y2="1"><stop offset="0" stop-color="#ff0500"/><stop offset=".03" stop-color="#ff0900"/><stop offset=".094" stop-color="#ff3800"/><stop offset=".12" stop-color="#ff3d00"/><stop offset=".21" stop-color="#ff1d00"/><stop offset=".339" stop-color="#ff0b00"/><stop offset=".575" stop-color="#ff0300"/><stop offset="1" stop-color="#ff0200"/></linearGradient>
<linearGradient id="c247" x1="0" y1="0" x2="0" y2="1"><stop offset="0" stop-color="#ff0d00"/><stop offset=".043" stop-color="#ff0700"/><stop offset=".107" stop-color="#ff2400"/><stop offset=".133" stop-color="#ff2600"/><stop offset=".202" stop-color="#ff1800"/><stop offset=".451" stop-color="#ff0600"/><stop offset="1" stop-color="#ff0200"/></linearGradient>
<linearGradient id="c248" x1="0" y1="0" x2="0" y2="1"><stop offset="0" stop-color="#ff2000"/><stop offset=".06" stop-color="#ff0700"/><stop offset=".146" stop-color="#ff1300"/><stop offset=".446" stop-color="#ff0500"/><stop offset="1" stop-color="#ff0200"/></linearGradient>
<linearGradient id="c249" x1="0" y1="0" x2="0" y2="1"><stop offset="0" stop-color="#ff3700"/><stop offset=".021" stop-color="#ff2e00"/><stop offset=".06" stop-color="#ff1000"/><stop offset=".099" stop-color="#ff0500"/><stop offset="1" stop-color="#ff0100"/></linearGradient>
<linearGradient id="c250" x1="0" y1="0" x2="0" y2="1"><stop offset="0" stop-color="#ff4c00"/><stop offset=".026" stop-color="#ff4300"/><stop offset=".082" stop-color="#ff1100"/><stop offset=".124" stop-color="#ff0400"/><stop offset="1" stop-color="#ff0000"/></linearGradient>
<linearGradient id="c251" x1="0" y1="0" x2="0" y2="1"><stop offset="0" stop-color="#ff5700"/><stop offset=".03" stop-color="#ff5200"/><stop offset=".094" stop-color="#ff1700"/><stop offset=".146" stop-color="#ff0700"/><stop offset=".361" stop-color="#ff0000"/><stop offset="1" stop-color="#ff0000"/></linearGradient>
<linearGradient id="c252" x1="0" y1="0" x2="0" y2="1"><stop offset="0" stop-color="#ff5400"/><stop offset=".026" stop-color="#ff5a00"/><stop offset=".043" stop-color="#ff5300"/><stop offset=".094" stop-color="#ff2400"/><stop offset=".12" stop-color="#ff1600"/><stop offset=".227" stop-color="#ff0500"/><stop offset="1" stop-color="#ff0000"/></linearGradient>
<linearGradient id="c253" x1="0" y1="0" x2="0" y2="1"><stop offset="0" stop-color="#ff4500"/><stop offset=".026" stop-color="#ff5100"/><stop offset=".043" stop-color="#ff5000"/><stop offset=".12" stop-color="#ff1e00"/><stop offset=".258" stop-color="#ff0700"/><stop offset="1" stop-color="#ff0000"/></linearGradient>
<linearGradient id="c254" x1="0" y1="0" x2="0" y2="1"><stop offset="0" stop-color="#ff2e00"/><stop offset=".03" stop-color="#ff3e00"/><stop offset=".047" stop-color="#ff4000"/><stop offset=".12" stop-color="#ff2000"/><stop offset=".275" stop-color="#ff0900"/><stop offset=".511" stop-color="#ff0200"/><stop offset="1" stop-color="#ff0100"/></linearGradient>
<linearGradient id="c255" x1="0" y1="0" x2="0" y2="1"><stop offset="0" stop-color="#ff1700"/><stop offset=".039" stop-color="#ff2a00"/><stop offset=".06" stop-color="#ff2b00"/><stop offset=".133" stop-color="#ff1900"/><stop offset=".365" stop-color="#ff0600"/><stop offset="1" stop-color="#ff0200"/></linearGradient>
<linearGradient id="c256" x1="0" y1="0" x2="0" y2="1"><stop offset="0" stop-color="#ff0800"/><stop offset=".069" stop-color="#ff1800"/><stop offset=".378" stop-color="#ff0500"/><stop offset="1" stop-color="#ff0200"/></linearGradient>
<linearGradient id="c257" x1="0" y1="0" x2="0" y2="1"><stop offset="0" stop-color="#ff0600"/><stop offset=".086" stop-color="#ff0a00"/><stop offset="1" stop-color="#ff0100"/></linearGradient>
<linearGradient id="c258" x1="0" y1="0" x2="0" y2="1"><stop offset="0" stop-color="#ff0f00"/><stop offset=".052" stop-color="#ff0300"/><stop offset="1" stop-color="#ff0100"/></linearGradient>
<linearGradient id="c259" x1="0" y1="0" x2="0" y2="1"><stop offset="0" stop-color="#ff1a00"/><stop offset=".034" stop-color="#ff0800"/><stop offset=".086" stop-color="#ff0100"/><stop offset="1" stop-color="#ff0000"/></linearGradient>
<linearGradient id="cb" x1="0" y1="1" x2="0" y2="0"><stop offset="0" stop-color="#0000ff"/><stop offset=".4" stop-color="#ffffff"/><stop offset=".8" stop-color="#ffff00"/><stop offset="1" stop-color="#ff0000"/></linearGradient>
</defs>
<g clip-path="url(#hc)">
<rect x="360.40" y="7.7" width="1.60" height="233.8" fill="url(#c0)"/><rect x="361.40" y="7.7" width="1.60" height="233.8" fill="url(#c1)"/><rect x="362.39" y="7.7" width="1.60" height="233.8" fill="url(#c2)"/><rect x="363.39" y="7.7" width="1.60" height="233.8" fill="url(#c3)"/><rect x="364.39" y="7.7" width="1.60" height="233.8" fill="url(#c4)"/><rect x="365.38" y="7.7" width="1.60" height="233.8" fill="url(#c5)"/><rect x="366.38" y="7.7" width="1.60" height="233.8" fill="url(#c6)"/><rect x="367.38" y="7.7" width="1.60" height="233.8" fill="url(#c7)"/><rect x="368.37" y="7.7" width="1.60" height="233.8" fill="url(#c8)"/><rect x="369.37" y="7.7" width="1.60" height="233.8" fill="url(#c9)"/><rect x="370.37" y="7.7" width="1.60" height="233.8" fill="url(#c10)"/><rect x="371.36" y="7.7" width="1.60" height="233.8" fill="url(#c11)"/><rect x="372.36" y="7.7" width="1.60" height="233.8" fill="url(#c12)"/><rect x="373.35" y="7.7" width="1.60" height="233.8" fill="url(#c13)"/><rect x="374.35" y="7.7" width="1.60" height="233.8" fill="url(#c14)"/><rect x="375.35" y="7.7" width="1.60" height="233.8" fill="url(#c15)"/><rect x="376.34" y="7.7" width="1.60" height="233.8" fill="url(#c16)"/><rect x="377.34" y="7.7" width="1.60" height="233.8" fill="url(#c17)"/><rect x="378.34" y="7.7" width="1.60" height="233.8" fill="url(#c18)"/><rect x="379.33" y="7.7" width="1.60" height="233.8" fill="url(#c19)"/><rect x="380.33" y="7.7" width="1.60" height="233.8" fill="url(#c20)"/><rect x="381.33" y="7.7" width="1.60" height="233.8" fill="url(#c21)"/><rect x="382.32" y="7.7" width="1.60" height="233.8" fill="url(#c22)"/><rect x="383.32" y="7.7" width="1.60" height="233.8" fill="url(#c23)"/><rect x="384.32" y="7.7" width="1.60" height="233.8" fill="url(#c24)"/><rect x="385.31" y="7.7" width="1.60" height="233.8" fill="url(#c25)"/><rect x="386.31" y="7.7" width="1.60" height="233.8" fill="url(#c26)"/><rect x="387.31" y="7.7" width="1.60" height="233.8" fill="url(#c27)"/><rect x="388.30" y="7.7" width="1.60" height="233.8" fill="url(#c28)"/><rect x="389.30" y="7.7" width="1.60" height="233.8" fill="url(#c29)"/><rect x="390.30" y="7.7" width="1.60" height="233.8" fill="url(#c30)"/><rect x="391.29" y="7.7" width="1.60" height="233.8" fill="url(#c31)"/><rect x="392.29" y="7.7" width="1.60" height="233.8" fill="url(#c32)"/><rect x="393.29" y="7.7" width="1.60" height="233.8" fill="url(#c33)"/><rect x="394.28" y="7.7" width="1.60" height="233.8" fill="url(#c34)"/><rect x="395.28" y="7.7" width="1.60" height="233.8" fill="url(#c35)"/><rect x="396.28" y="7.7" width="1.60" height="233.8" fill="url(#c36)"/><rect x="397.27" y="7.7" width="1.60" height="233.8" fill="url(#c37)"/><rect x="398.27" y="7.7" width="1.60" height="233.8" fill="url(#c38)"/><rect x="399.26" y="7.7" width="1.60" height="233.8" fill="url(#c39)"/><rect x="400.26" y="7.7" width="1.60" height="233.8" fill="url(#c40)"/><rect x="401.26" y="7.7" width="1.60" height="233.8" fill="url(#c41)"/><rect x="402.25" y="7.7" width="1.60" height="233.8" fill="url(#c42)"/><rect x="403.25" y="7.7" width="1.60" height="233.8" fill="url(#c43)"/><rect x="404.25" y="7.7" width="1.60" height="233.8" fill="url(#c44)"/><rect x="405.24" y="7.7" width="1.60" height="233.8" fill="url(#c45)"/><rect x="406.24" y="7.7" width="1.60" height="233.8" fill="url(#c46)"/><rect x="407.24" y="7.7" width="1.60" height="233.8" fill="url(#c47)"/><rect x="408.23" y="7.7" width="1.60" height="233.8" fill="url(#c48)"/><rect x="409.23" y="7.7" width="1.60" height="233.8" fill="url(#c49)"/><rect x="410.23" y="7.7" width="1.60" height="233.8" fill="url(#c50)"/><rect x="411.22" y="7.7" width="1.60" height="233.8" fill="url(#c51)"/><rect x="412.22" y="7.7" width="1.60" height="233.8" fill="url(#c52)"/><rect x="413.22" y="7.7" width="1.60" height="233.8" fill="url(#c53)"/><rect x="414.21" y="7.7" width="1.60" height="233.8" fill="url(#c54)"/><rect x="415.21" y="7.7" width="1.60" height="233.8" fill="url(#c55)"/><rect x="416.21" y="7.7" width="1.60" height="233.8" fill="url(#c56)"/><rect x="417.20" y="7.7" width="1.60" height="233.8" fill="url(#c57)"/><rect x="418.20" y="7.7" width="1.60" height="233.8" fill="url(#c58)"/><rect x="419.20" y="7.7" width="1.60" height="233.8" fill="url(#c59)"/><rect x="420.19" y="7.7" width="1.60" height="233.8" fill="url(#c60)"/><rect x="421.19" y="7.7" width="1.60" height="233.8" fill="url(#c61)"/><rect x="422.19" y="7.7" width="1.60" height="233.8" fill="url(#c62)"/><rect x="423.18" y="7.7" width="1.60" height="233.8" fill="url(#c63)"/><rect x="424.18" y="7.7" width="1.60" height="233.8" fill="url(#c64)"/><rect x="425.17" y="7.7" width="1.60" height="233.8" fill="url(#c65)"/><rect x="426.17" y="7.7" width="1.60" height="233.8" fill="url(#c66)"/><rect x="427.17" y="7.7" width="1.60" height="233.8" fill="url(#c67)"/><rect x="428.16" y="7.7" width="1.60" height="233.8" fill="url(#c68)"/><rect x="429.16" y="7.7" width="1.60" height="233.8" fill="url(#c69)"/><rect x="430.16" y="7.7" width="1.60" height="233.8" fill="url(#c70)"/><rect x="431.15" y="7.7" width="1.60" height="233.8" fill="url(#c71)"/><rect x="432.15" y="7.7" width="1.60" height="233.8" fill="url(#c72)"/><rect x="433.15" y="7.7" width="1.60" height="233.8" fill="url(#c73)"/><rect x="434.14" y="7.7" width="1.60" height="233.8" fill="url(#c74)"/><rect x="435.14" y="7.7" width="1.60" height="233.8" fill="url(#c75)"/><rect x="436.14" y="7.7" width="1.60" height="233.8" fill="url(#c76)"/><rect x="437.13" y="7.7" width="1.60" height="233.8" fill="url(#c77)"/><rect x="438.13" y="7.7" width="1.60" height="233.8" fill="url(#c78)"/><rect x="439.13" y="7.7" width="1.60" height="233.8" fill="url(#c79)"/><rect x="440.12" y="7.7" width="1.60" height="233.8" fill="url(#c80)"/><rect x="441.12" y="7.7" width="1.60" height="233.8" fill="url(#c81)"/><rect x="442.12" y="7.7" width="1.60" height="233.8" fill="url(#c82)"/><rect x="443.11" y="7.7" width="1.60" height="233.8" fill="url(#c83)"/><rect x="444.11" y="7.7" width="1.60" height="233.8" fill="url(#c84)"/><rect x="445.11" y="7.7" width="1.60" height="233.8" fill="url(#c85)"/><rect x="446.10" y="7.7" width="1.60" height="233.8" fill="url(#c86)"/><rect x="447.10" y="7.7" width="1.60" height="233.8" fill="url(#c87)"/><rect x="448.10" y="7.7" width="1.60" height="233.8" fill="url(#c88)"/><rect x="449.09" y="7.7" width="1.60" height="233.8" fill="url(#c89)"/><rect x="450.09" y="7.7" width="1.60" height="233.8" fill="url(#c90)"/><rect x="451.08" y="7.7" width="1.60" height="233.8" fill="url(#c91)"/><rect x="452.08" y="7.7" width="1.60" height="233.8" fill="url(#c92)"/><rect x="453.08" y="7.7" width="1.60" height="233.8" fill="url(#c93)"/><rect x="454.07" y="7.7" width="1.60" height="233.8" fill="url(#c94)"/><rect x="455.07" y="7.7" width="1.60" height="233.8" fill="url(#c95)"/><rect x="456.07" y="7.7" width="1.60" height="233.8" fill="url(#c96)"/><rect x="457.06" y="7.7" width="1.60" height="233.8" fill="url(#c97)"/><rect x="458.06" y="7.7" width="1.60" height="233.8" fill="url(#c98)"/><rect x="459.06" y="7.7" width="1.60" height="233.8" fill="url(#c99)"/><rect x="460.05" y="7.7" width="1.60" height="233.8" fill="url(#c100)"/><rect x="461.05" y="7.7" width="1.60" height="233.8" fill="url(#c101)"/><rect x="462.05" y="7.7" width="1.60" height="233.8" fill="url(#c102)"/><rect x="463.04" y="7.7" width="1.60" height="233.8" fill="url(#c103)"/><rect x="464.04" y="7.7" width="1.60" height="233.8" fill="url(#c104)"/><rect x="465.04" y="7.7" width="1.60" height="233.8" fill="url(#c105)"/><rect x="466.03" y="7.7" width="1.60" height="233.8" fill="url(#c106)"/><rect x="467.03" y="7.7" width="1.60" height="233.8" fill="url(#c107)"/><rect x="468.03" y="7.7" width="1.60" height="233.8" fill="url(#c108)"/><rect x="469.02" y="7.7" width="1.60" height="233.8" fill="url(#c109)"/><rect x="470.02" y="7.7" width="1.60" height="233.8" fill="url(#c110)"/><rect x="471.02" y="7.7" width="1.60" height="233.8" fill="url(#c111)"/><rect x="472.01" y="7.7" width="1.60" height="233.8" fill="url(#c112)"/><rect x="473.01" y="7.7" width="1.60" height="233.8" fill="url(#c113)"/><rect x="474.01" y="7.7" width="1.60" height="233.8" fill="url(#c114)"/><rect x="475.00" y="7.7" width="1.60" height="233.8" fill="url(#c115)"/><rect x="476.00" y="7.7" width="1.60" height="233.8" fill="url(#c116)"/><rect x="477.00" y="7.7" width="1.60" height="233.8" fill="url(#c117)"/><rect x="477.99" y="7.7" width="1.60" height="233.8" fill="url(#c118)"/><rect x="478.99" y="7.7" width="1.60" height="233.8" fill="url(#c119)"/><rect x="479.98" y="7.7" width="1.60" height="233.8" fill="url(#c120)"/><rect x="480.98" y="7.7" width="1.60" height="233.8" fill="url(#c121)"/><rect x="481.98" y="7.7" width="1.60" height="233.8" fill="url(#c122)"/><rect x="482.97" y="7.7" width="1.60" height="233.8" fill="url(#c123)"/><rect x="483.97" y="7.7" width="1.60" height="233.8" fill="url(#c124)"/><rect x="484.97" y="7.7" width="1.60" height="233.8" fill="url(#c125)"/><rect x="485.96" y="7.7" width="1.60" height="233.8" fill="url(#c126)"/><rect x="486.96" y="7.7" width="1.60" height="233.8" fill="url(#c127)"/><rect x="487.96" y="7.7" width="1.60" height="233.8" fill="url(#c128)"/><rect x="488.95" y="7.7" width="1.60" height="233.8" fill="url(#c129)"/><rect x="489.95" y="7.7" width="1.60" height="233.8" fill="url(#c130)"/><rect x="490.95" y="7.7" width="1.60" height="233.8" fill="url(#c131)"/><rect x="491.94" y="7.7" width="1.60" height="233.8" fill="url(#c132)"/><rect x="492.94" y="7.7" width="1.60" height="233.8" fill="url(#c133)"/><rect x="493.94" y="7.7" width="1.60" height="233.8" fill="url(#c134)"/><rect x="494.93" y="7.7" width="1.60" height="233.8" fill="url(#c135)"/><rect x="495.93" y="7.7" width="1.60" height="233.8" fill="url(#c136)"/><rect x="496.93" y="7.7" width="1.60" height="233.8" fill="url(#c137)"/><rect x="497.92" y="7.7" width="1.60" height="233.8" fill="url(#c138)"/><rect x="498.92" y="7.7" width="1.60" height="233.8" fill="url(#c139)"/><rect x="499.92" y="7.7" width="1.60" height="233.8" fill="url(#c140)"/><rect x="500.91" y="7.7" width="1.60" height="233.8" fill="url(#c141)"/><rect x="501.91" y="7.7" width="1.60" height="233.8" fill="url(#c142)"/><rect x="502.90" y="7.7" width="1.60" height="233.8" fill="url(#c143)"/><rect x="503.90" y="7.7" width="1.60" height="233.8" fill="url(#c144)"/><rect x="504.90" y="7.7" width="1.60" height="233.8" fill="url(#c145)"/><rect x="505.89" y="7.7" width="1.60" height="233.8" fill="url(#c146)"/><rect x="506.89" y="7.7" width="1.60" height="233.8" fill="url(#c147)"/><rect x="507.89" y="7.7" width="1.60" height="233.8" fill="url(#c148)"/><rect x="508.88" y="7.7" width="1.60" height="233.8" fill="url(#c149)"/><rect x="509.88" y="7.7" width="1.60" height="233.8" fill="url(#c150)"/><rect x="510.88" y="7.7" width="1.60" height="233.8" fill="url(#c151)"/><rect x="511.87" y="7.7" width="1.60" height="233.8" fill="url(#c152)"/><rect x="512.87" y="7.7" width="1.60" height="233.8" fill="url(#c153)"/><rect x="513.87" y="7.7" width="1.60" height="233.8" fill="url(#c154)"/><rect x="514.86" y="7.7" width="1.60" height="233.8" fill="url(#c155)"/><rect x="515.86" y="7.7" width="1.60" height="233.8" fill="url(#c156)"/><rect x="516.86" y="7.7" width="1.60" height="233.8" fill="url(#c157)"/><rect x="517.85" y="7.7" width="1.60" height="233.8" fill="url(#c158)"/><rect x="518.85" y="7.7" width="1.60" height="233.8" fill="url(#c159)"/><rect x="519.85" y="7.7" width="1.60" height="233.8" fill="url(#c160)"/><rect x="520.84" y="7.7" width="1.60" height="233.8" fill="url(#c161)"/><rect x="521.84" y="7.7" width="1.60" height="233.8" fill="url(#c162)"/><rect x="522.84" y="7.7" width="1.60" height="233.8" fill="url(#c163)"/><rect x="523.83" y="7.7" width="1.60" height="233.8" fill="url(#c164)"/><rect x="524.83" y="7.7" width="1.60" height="233.8" fill="url(#c165)"/><rect x="525.83" y="7.7" width="1.60" height="233.8" fill="url(#c166)"/><rect x="526.82" y="7.7" width="1.60" height="233.8" fill="url(#c167)"/><rect x="527.82" y="7.7" width="1.60" height="233.8" fill="url(#c168)"/><rect x="528.82" y="7.7" width="1.60" height="233.8" fill="url(#c169)"/><rect x="529.81" y="7.7" width="1.60" height="233.8" fill="url(#c170)"/><rect x="530.81" y="7.7" width="1.60" height="233.8" fill="url(#c171)"/><rect x="531.80" y="7.7" width="1.60" height="233.8" fill="url(#c172)"/><rect x="532.80" y="7.7" width="1.60" height="233.8" fill="url(#c173)"/><rect x="533.80" y="7.7" width="1.60" height="233.8" fill="url(#c174)"/><rect x="534.79" y="7.7" width="1.60" height="233.8" fill="url(#c175)"/><rect x="535.79" y="7.7" width="1.60" height="233.8" fill="url(#c176)"/><rect x="536.79" y="7.7" width="1.60" height="233.8" fill="url(#c177)"/><rect x="537.78" y="7.7" width="1.60" height="233.8" fill="url(#c178)"/><rect x="538.78" y="7.7" width="1.60" height="233.8" fill="url(#c179)"/><rect x="539.78" y="7.7" width="1.60" height="233.8" fill="url(#c180)"/><rect x="540.77" y="7.7" width="1.60" height="233.8" fill="url(#c181)"/><rect x="541.77" y="7.7" width="1.60" height="233.8" fill="url(#c182)"/><rect x="542.77" y="7.7" width="1.60" height="233.8" fill="url(#c183)"/><rect x="543.76" y="7.7" width="1.60" height="233.8" fill="url(#c184)"/><rect x="544.76" y="7.7" width="1.60" height="233.8" fill="url(#c185)"/><rect x="545.76" y="7.7" width="1.60" height="233.8" fill="url(#c186)"/><rect x="546.75" y="7.7" width="1.60" height="233.8" fill="url(#c187)"/><rect x="547.75" y="7.7" width="1.60" height="233.8" fill="url(#c188)"/><rect x="548.75" y="7.7" width="1.60" height="233.8" fill="url(#c189)"/><rect x="549.74" y="7.7" width="1.60" height="233.8" fill="url(#c190)"/><rect x="550.74" y="7.7" width="1.60" height="233.8" fill="url(#c191)"/><rect x="551.74" y="7.7" width="1.60" height="233.8" fill="url(#c192)"/><rect x="552.73" y="7.7" width="1.60" height="233.8" fill="url(#c193)"/><rect x="553.73" y="7.7" width="1.60" height="233.8" fill="url(#c194)"/><rect x="554.73" y="7.7" width="1.60" height="233.8" fill="url(#c195)"/><rect x="555.72" y="7.7" width="1.60" height="233.8" fill="url(#c196)"/><rect x="556.72" y="7.7" width="1.60" height="233.8" fill="url(#c197)"/><rect x="557.71" y="7.7" width="1.60" height="233.8" fill="url(#c198)"/><rect x="558.71" y="7.7" width="1.60" height="233.8" fill="url(#c199)"/><rect x="559.71" y="7.7" width="1.60" height="233.8" fill="url(#c200)"/><rect x="560.70" y="7.7" width="1.60" height="233.8" fill="url(#c201)"/><rect x="561.70" y="7.7" width="1.60" height="233.8" fill="url(#c202)"/><rect x="562.70" y="7.7" width="1.60" height="233.8" fill="url(#c203)"/><rect x="563.69" y="7.7" width="1.60" height="233.8" fill="url(#c204)"/><rect x="564.69" y="7.7" width="1.60" height="233.8" fill="url(#c205)"/><rect x="565.69" y="7.7" width="1.60" height="233.8" fill="url(#c206)"/><rect x="566.68" y="7.7" width="1.60" height="233.8" fill="url(#c207)"/><rect x="567.68" y="7.7" width="1.60" height="233.8" fill="url(#c208)"/><rect x="568.68" y="7.7" width="1.60" height="233.8" fill="url(#c209)"/><rect x="569.67" y="7.7" width="1.60" height="233.8" fill="url(#c210)"/><rect x="570.67" y="7.7" width="1.60" height="233.8" fill="url(#c211)"/><rect x="571.67" y="7.7" width="1.60" height="233.8" fill="url(#c212)"/><rect x="572.66" y="7.7" width="1.60" height="233.8" fill="url(#c213)"/><rect x="573.66" y="7.7" width="1.60" height="233.8" fill="url(#c214)"/><rect x="574.66" y="7.7" width="1.60" height="233.8" fill="url(#c215)"/><rect x="575.65" y="7.7" width="1.60" height="233.8" fill="url(#c216)"/><rect x="576.65" y="7.7" width="1.60" height="233.8" fill="url(#c217)"/><rect x="577.65" y="7.7" width="1.60" height="233.8" fill="url(#c218)"/><rect x="578.64" y="7.7" width="1.60" height="233.8" fill="url(#c219)"/><rect x="579.64" y="7.7" width="1.60" height="233.8" fill="url(#c220)"/><rect x="580.63" y="7.7" width="1.60" height="233.8" fill="url(#c221)"/><rect x="581.63" y="7.7" width="1.60" height="233.8" fill="url(#c222)"/><rect x="582.63" y="7.7" width="1.60" height="233.8" fill="url(#c223)"/><rect x="583.62" y="7.7" width="1.60" height="233.8" fill="url(#c224)"/><rect x="584.62" y="7.7" width="1.60" height="233.8" fill="url(#c225)"/><rect x="585.62" y="7.7" width="1.60" height="233.8" fill="url(#c226)"/><rect x="586.61" y="7.7" width="1.60" height="233.8" fill="url(#c227)"/><rect x="587.61" y="7.7" width="1.60" height="233.8" fill="url(#c228)"/><rect x="588.61" y="7.7" width="1.60" height="233.8" fill="url(#c229)"/><rect x="589.60" y="7.7" width="1.60" height="233.8" fill="url(#c230)"/><rect x="590.60" y="7.7" width="1.60" height="233.8" fill="url(#c231)"/><rect x="591.60" y="7.7" width="1.60" height="233.8" fill="url(#c232)"/><rect x="592.59" y="7.7" width="1.60" height="233.8" fill="url(#c233)"/><rect x="593.59" y="7.7" width="1.60" height="233.8" fill="url(#c234)"/><rect x="594.59" y="7.7" width="1.60" height="233.8" fill="url(#c235)"/><rect x="595.58" y="7.7" width="1.60" height="233.8" fill="url(#c236)"/><rect x="596.58" y="7.7" width="1.60" height="233.8" fill="url(#c237)"/><rect x="597.58" y="7.7" width="1.60" height="233.8" fill="url(#c238)"/><rect x="598.57" y="7.7" width="1.60" height="233.8" fill="url(#c239)"/><rect x="599.57" y="7.7" width="1.60" height="233.8" fill="url(#c240)"/><rect x="600.57" y="7.7" width="1.60" height="233.8" fill="url(#c241)"/><rect x="601.56" y="7.7" width="1.60" height="233.8" fill="url(#c242)"/><rect x="602.56" y="7.7" width="1.60" height="233.8" fill="url(#c243)"/><rect x="603.56" y="7.7" width="1.60" height="233.8" fill="url(#c244)"/><rect x="604.55" y="7.7" width="1.60" height="233.8" fill="url(#c245)"/><rect x="605.55" y="7.7" width="1.60" height="233.8" fill="url(#c246)"/><rect x="606.54" y="7.7" width="1.60" height="233.8" fill="url(#c247)"/><rect x="607.54" y="7.7" width="1.60" height="233.8" fill="url(#c248)"/><rect x="608.54" y="7.7" width="1.60" height="233.8" fill="url(#c249)"/><rect x="609.53" y="7.7" width="1.60" height="233.8" fill="url(#c250)"/><rect x="610.53" y="7.7" width="1.60" height="233.8" fill="url(#c251)"/><rect x="611.53" y="7.7" width="1.60" height="233.8" fill="url(#c252)"/><rect x="612.52" y="7.7" width="1.60" height="233.8" fill="url(#c253)"/><rect x="613.52" y="7.7" width="1.60" height="233.8" fill="url(#c254)"/><rect x="614.52" y="7.7" width="1.60" height="233.8" fill="url(#c255)"/><rect x="615.51" y="7.7" width="1.60" height="233.8" fill="url(#c256)"/><rect x="616.51" y="7.7" width="1.60" height="233.8" fill="url(#c257)"/><rect x="617.51" y="7.7" width="1.60" height="233.8" fill="url(#c258)"/><rect x="618.50" y="7.7" width="1.00" height="233.8" fill="url(#c259)"/>
</g>
<text transform="translate(355.7,245.4) scale(1.06,1)" text-anchor="end" class="k">0</text>
<text transform="translate(355.7,206.4) scale(1.06,1)" text-anchor="end" class="k">200</text>
<text transform="translate(355.7,167.5) scale(1.06,1)" text-anchor="end" class="k">400</text>
<text transform="translate(355.7,128.5) scale(1.06,1)" text-anchor="end" class="k">600</text>
<text transform="translate(355.7,89.5) scale(1.06,1)" text-anchor="end" class="k">800</text>
<text transform="translate(355.7,50.6) scale(1.06,1)" text-anchor="end" class="k">1000</text>
<text transform="translate(355.7,11.6) scale(1.06,1)" text-anchor="end" class="k">1200</text>
<text transform="translate(361.2,254.8) scale(1.06,1)" text-anchor="middle" class="k">−50</text>
<text transform="translate(490.2,256.7) scale(1.06,1)" text-anchor="middle" class="k">0</text>
<text transform="translate(619.1,256.6) scale(1.06,1)" text-anchor="middle" class="k">50</text>
<text x="473.2" y="272.4"><tspan class="i">B</tspan><tspan class="s" dy="2">z</tspan><tspan dy="-2"> (mT)</tspan></text>
<text transform="translate(320.9,139.8) rotate(-90)"><tspan class="i">B</tspan><tspan class="s" dy="2">y</tspan><tspan dy="-2"> (mT)</tspan></text>
<rect x="634.8" y="8.0" width="13.0" height="233.5" fill="url(#cb)" stroke="#333" stroke-width=".5"/>
<text transform="translate(652.3,245.8) scale(1.02,1)" style="font-size:10px">0</text><text transform="translate(652.3,222.4) scale(1.02,1)" style="font-size:10px">0.1</text><path d="M646.1999999999999 218.1H647.8" stroke="#333" stroke-width=".6"/><text transform="translate(652.3,199.0) scale(1.02,1)" style="font-size:10px">0.2</text><path d="M646.1999999999999 194.7H647.8" stroke="#333" stroke-width=".6"/><text transform="translate(652.3,175.7) scale(1.02,1)" style="font-size:10px">0.3</text><path d="M646.1999999999999 171.4H647.8" stroke="#333" stroke-width=".6"/><text transform="translate(652.3,152.3) scale(1.02,1)" style="font-size:10px">0.4</text><path d="M646.1999999999999 148.0H647.8" stroke="#333" stroke-width=".6"/><text transform="translate(652.3,128.9) scale(1.02,1)" style="font-size:10px">0.5</text><path d="M646.1999999999999 124.6H647.8" stroke="#333" stroke-width=".6"/><text transform="translate(652.3,105.5) scale(1.02,1)" style="font-size:10px">0.6</text><path d="M646.1999999999999 101.2H647.8" stroke="#333" stroke-width=".6"/><text transform="translate(652.3,82.1) scale(1.02,1)" style="font-size:10px">0.7</text><path d="M646.1999999999999 77.8H647.8" stroke="#333" stroke-width=".6"/><text transform="translate(652.3,58.8) scale(1.02,1)" style="font-size:10px">0.8</text><path d="M646.1999999999999 54.5H647.8" stroke="#333" stroke-width=".6"/><text transform="translate(652.3,35.4) scale(1.02,1)" style="font-size:10px">0.9</text><path d="M646.1999999999999 31.1H647.8" stroke="#333" stroke-width=".6"/><text transform="translate(652.3,12.0) scale(1.02,1)" style="font-size:10px">1</text>
<path d="M490.3 241.4L582.5 56.3" stroke="#548235" stroke-width="3" stroke-dasharray="9.3 4.6" fill="none"/>
<path d="M586.1 48.6L578.7 54.5L589.2 62.8Z" fill="#548235"/>
<path d="M584.9 65.7V238" stroke="#548235" stroke-width="3.1" stroke-dasharray="2.6 3.82" fill="none"/>
<path d="M492.5 241.4H581" stroke="#548235" stroke-width="2.7" stroke-dasharray="2.2 2.15" fill="none"/>
<path d="M589.5 241.4L581.3 237L581.3 245.8Z" fill="#548235"/>
<text x="593.2" y="148" class="g"><tspan>Δ</tspan><tspan class="i">B</tspan><tspan class="s g" dy="2">y</tspan></text>
<text x="546.2" y="260" class="g"><tspan>Δ</tspan><tspan class="i">B</tspan><tspan class="s g" dy="2">z</tspan></text>
<text x="309.7" y="7.8" class="b">c</text>
<text x="0.1" y="7.8" class="b">a</text>
<path d="M30.9 64.7V222" stroke="#000" stroke-width="4" fill="none"/><path d="M30.7 231.3L25.3 221H36.1Z" fill="#000"/>
<text x="44.6" y="238.8" class="i">B</text>
<path d="M58.8 151.4L227 152.9" stroke="#222" stroke-width="1" fill="none"/><path d="M233.3 152.9L226.4 149.2V156.6Z" fill="#000"/>
<path d="M139.8 245.4V59" stroke="#222" stroke-width="1" fill="none"/><path d="M139.8 52.1L135.9 59.3H143.7Z" fill="#000"/>
<circle cx="139" cy="153" r="65.3" fill="none" stroke="#111" stroke-width="1"/>
<path d="M139.9 90.4A65.5 65.5 0 0 0 151.1 218.0" fill="none" stroke="#1f6fd0" stroke-width="2.8" stroke-dasharray="2.6 2.95"/>
<path d="M147.7 88.5A65.5 65.5 0 1 1 157.9 218.5" fill="none" stroke="#6a35b0" stroke-width="2.8" stroke-dasharray="2.6 2.95"/>
<path d="M148 88.2Q135 87.6 123 88.8" stroke="#ff0000" stroke-width="3" fill="none"/><path d="M117.5 88.8L124.6 85.2V92.4Z" fill="#ff0000"/>
<path d="M126 218.9H150" stroke="#ff0000" stroke-width="3" fill="none"/><path d="M157.6 218.9L149.3 215V222.8Z" fill="#ff0000"/>
<path d="M73.6 141.3V163" stroke="#ff0000" stroke-width="2.6" fill="none"/><path d="M73.4 170L69.5 162.6H77.4Z" fill="#ff0000"/>
<path d="M203.5 165.4V139" stroke="#ff0000" stroke-width="2.8" fill="none"/><path d="M203.5 131.6L199.6 139.6H207.4Z" fill="#ff0000"/>
<path d="M139.8 152.8H158" stroke="#7030a0" stroke-width="3.6" fill="none"/><path d="M167.5 152.9L157.3 148.3V157.5Z" fill="#7030a0"/>
<text x="121.8" y="52.7"><tspan class="i">k</tspan><tspan class="s" dy="2">y</tspan></text>
<text x="239.6" y="157.6"><tspan class="i">k</tspan><tspan class="s" dy="2.2">x</tspan></text>
<text x="150.2" y="121.3" style="font-size:10.2px"><tspan class="i">g</tspan><tspan class="ser" dx=".4" style="font-size:10.4px">μ</tspan></text>
<path d="M146 127.3H170.1" stroke="#444" stroke-width="1" fill="none"/>
<text x="149" y="140.7" style="font-size:10.2px"><tspan class="i">ħ</tspan><tspan class="ser" dx=".6" style="font-size:10px">v</tspan><tspan dy="2.6" style="font-size:6.5px;font-weight:bold">f</tspan></text>
<text x="-1.4" y="297.5" class="b">b</text>
<text transform="translate(10.7,411.8) rotate(-90)" style="font-size:11.8px;letter-spacing:.2px">Normalized current</text>
<rect x="39.4" y="309.2" width="101.5" height="106.4" fill="none" stroke="#333" stroke-width="0.9"/>
<path d="M39.4 415.6 39.7 415.5 39.9 415.5 40.2 415.4 40.4 415.4 40.7 415.3 40.9 415.3 41.2 415.3 41.4 415.3 41.7 415.3 41.9 415.3 42.2 415.3 42.4 415.4 42.7 415.4 43 415.5 43.2 415.5 43.5 415.6 43.7 415.5 44 415.4 44.2 415.4 44.5 415.3 44.7 415.3 45 415.2 45.2 415.2 45.5 415.2 45.7 415.2 46 415.2 46.3 415.2 46.5 415.3 46.8 415.3 47 415.4 47.3 415.5 47.5 415.6 47.8 415.5 48 415.4 48.3 415.4 48.5 415.3 48.8 415.2 49 415.2 49.3 415.1 49.5 415.1 49.8 415.1 50.1 415.1 50.3 415.2 50.6 415.2 50.8 415.3 51.1 415.4 51.3 415.5 51.6 415.6 51.8 415.5 52.1 415.4 52.3 415.3 52.6 415.2 52.8 415.1 53.1 415 53.4 415 53.6 415 53.9 415 54.1 415 54.4 415 54.6 415.1 54.9 415.2 55.1 415.3 55.4 415.4 55.6 415.6 55.9 415.5 56.1 415.3 56.4 415.2 56.7 415.1 56.9 415 57.2 414.9 57.4 414.8 57.7 414.8 57.9 414.8 58.2 414.8 58.4 414.9 58.7 415 58.9 415.1 59.2 415.3 59.4 415.4 59.7 415.6 60 415.4 60.2 415.2 60.5 415.1 60.7 414.9 61 414.7 61.2 414.6 61.5 414.5 61.7 414.5 62 414.5 62.2 414.5 62.5 414.6 62.7 414.7 63 414.9 63.3 415.1 63.5 415.3 63.8 415.5 64 415.4 64.3 415.2 64.5 414.9 64.8 414.7 65 414.5 65.3 414.3 65.5 414.2 65.8 414.1 66 414.1 66.3 414.1 66.6 414.2 66.8 414.4 67.1 414.6 67.3 414.8 67.6 415.2 67.8 415.5 68.1 415.4 68.3 415 68.6 414.6 68.8 414.3 69.1 414 69.3 413.7 69.6 413.5 69.8 413.3 70.1 413.3 70.4 413.3 70.6 413.4 70.9 413.6 71.1 413.8 71.4 414.2 71.6 414.6 71.9 415.1 72.1 415.5 72.4 415 72.6 414.4 72.9 413.8 73.1 413.3 73.4 412.8 73.7 412.5 73.9 412.2 74.2 412 74.4 411.9 74.7 412 74.9 412.2 75.2 412.6 75.4 413.1 75.7 413.7 75.9 414.5 76.2 415.3 76.4 414.9 76.7 414 77 413 77.2 412 77.5 411.1 77.7 410.2 78 409.5 78.2 409 78.5 408.6 78.7 408.5 79 408.6 79.2 409 79.5 409.6 79.7 410.5 80 411.6 80.3 413 80.5 414.6 80.8 414.8 81 412.9 81.3 410.9 81.5 408.9 81.8 406.9 82 405 82.3 403.3 82.5 401.9 82.8 400.8 83 400.1 83.3 399.9 83.6 400.2 83.8 401 84.1 402.5 84.3 404.6 84.6 407.4 84.8 410.8 85.1 414.9 85.3 411.5 85.6 406.2 85.8 400.3 86.1 394 86.3 387.2 86.6 380.2 86.9 372.9 87.1 365.6 87.4 358.2 87.6 351 87.9 344 88.1 337.4 88.4 331.3 88.6 325.8 88.9 320.9 89.1 316.8 89.4 313.5 89.6 311.1 89.9 309.7 90.2 309.2 90.4 309.7 90.7 311.1 90.9 313.5 91.2 316.8 91.4 320.9 91.7 325.8 91.9 331.3 92.2 337.4 92.4 344 92.7 351 92.9 358.2 93.2 365.6 93.4 372.9 93.7 380.2 94 387.2 94.2 394 94.5 400.3 94.7 406.2 95 411.5 95.2 414.9 95.5 410.8 95.7 407.4 96 404.6 96.2 402.5 96.5 401 96.7 400.2 97 399.9 97.3 400.1 97.5 400.8 97.8 401.9 98 403.3 98.3 405 98.5 406.9 98.8 408.9 99 410.9 99.3 412.9 99.5 414.8 99.8 414.6 100 413 100.3 411.6 100.6 410.5 100.8 409.6 101.1 409 101.3 408.6 101.6 408.5 101.8 408.6 102.1 409 102.3 409.5 102.6 410.2 102.8 411.1 103.1 412 103.3 413 103.6 414 103.9 414.9 104.1 415.3 104.4 414.5 104.6 413.7 104.9 413.1 105.1 412.6 105.4 412.2 105.6 412 105.9 411.9 106.1 412 106.4 412.2 106.6 412.5 106.9 412.8 107.2 413.3 107.4 413.8 107.7 414.4 107.9 415 108.2 415.5 108.4 415.1 108.7 414.6 108.9 414.2 109.2 413.8 109.4 413.6 109.7 413.4 109.9 413.3 110.2 413.3 110.4 413.3 110.7 413.5 111 413.7 111.2 414 111.5 414.3 111.7 414.6 112 415 112.2 415.4 112.5 415.5 112.7 415.2 113 414.8 113.2 414.6 113.5 414.4 113.7 414.2 114 414.1 114.3 414.1 114.5 414.1 114.8 414.2 115 414.3 115.3 414.5 115.5 414.7 115.8 414.9 116 415.2 116.3 415.4 116.5 415.5 116.8 415.3 117 415.1 117.3 414.9 117.6 414.7 117.8 414.6 118.1 414.5 118.3 414.5 118.6 414.5 118.8 414.5 119.1 414.6 119.3 414.7 119.6 414.9 119.8 415.1 120.1 415.2 120.3 415.4 120.6 415.6 120.9 415.4 121.1 415.3 121.4 415.1 121.6 415 121.9 414.9 122.1 414.8 122.4 414.8 122.6 414.8 122.9 414.8 123.1 414.9 123.4 415 123.6 415.1 123.9 415.2 124.2 415.3 124.4 415.5 124.7 415.6 124.9 415.4 125.2 415.3 125.4 415.2 125.7 415.1 125.9 415 126.2 415 126.4 415 126.7 415 126.9 415 127.2 415 127.5 415.1 127.7 415.2 128 415.3 128.2 415.4 128.5 415.5 128.7 415.6 129 415.5 129.2 415.4 129.5 415.3 129.7 415.2 130 415.2 130.2 415.1 130.5 415.1 130.8 415.1 131 415.1 131.3 415.2 131.5 415.2 131.8 415.3 132 415.4 132.3 415.4 132.5 415.5 132.8 415.6 133 415.5 133.3 415.4 133.5 415.3 133.8 415.3 134 415.2 134.3 415.2 134.6 415.2 134.8 415.2 135.1 415.2 135.3 415.2 135.6 415.3 135.8 415.3 136.1 415.4 136.3 415.4 136.6 415.5 136.8 415.6 137.1 415.5 137.3 415.5 137.6 415.4 137.9 415.4 138.1 415.3 138.4 415.3 138.6 415.3 138.9 415.3 139.1 415.3 139.4 415.3 139.6 415.3 139.9 415.4 140.1 415.4 140.4 415.5 140.6 415.5 140.9 415.6" fill="none" stroke="#0072bd" stroke-width=".92" stroke-linejoin="round"/>
<path d="M64.8 415.6v-1.1M64.8 309.2v1.1 M90.2 415.6v-1.1M90.2 309.2v1.1 M115.5 415.6v-1.1M115.5 309.2v1.1 M39.4 364.2h1.1M140.9 364.2h-1.1 M39.4 312.8h1.1M140.9 312.8h-1.1" stroke="#333" stroke-width=".6" fill="none"/>
<text transform="translate(33.9,419.5) scale(1.06,1)" text-anchor="end" class="k">0</text><text transform="translate(33.9,368.1) scale(1.06,1)" text-anchor="end" class="k">0.5</text><text transform="translate(33.9,316.7) scale(1.06,1)" text-anchor="end" class="k">1</text>
<text transform="translate(36.9,429.8) scale(1.06,1)" text-anchor="middle" class="k">−40</text><text transform="translate(62.7,429.8) scale(1.06,1)" text-anchor="middle" class="k">−20</text><text transform="translate(88.6,429.8) scale(1.06,1)" text-anchor="middle" class="k">0</text><text transform="translate(114.5,429.8) scale(1.06,1)" text-anchor="middle" class="k">20</text><text transform="translate(140.4,429.8) scale(1.06,1)" text-anchor="middle" class="k">40</text>
<text x="75.0" y="300.6" style="font-size:11.2px"><tspan class="i">B</tspan><tspan class="s" dy="1.8">y</tspan><tspan dy="-1.8"> = 0</tspan></text>
<text x="71.6" y="447.9"><tspan class="i">B</tspan><tspan class="s" dy="2">z</tspan><tspan dy="-2"> (mT)</tspan></text>
<rect x="174.2" y="309.4" width="100.4" height="105.6" fill="none" stroke="#333" stroke-width="0.9"/>
<path d="M174.2 414.4 174.5 414.3 174.7 414.1 175 414 175.2 413.9 175.5 413.9 175.7 413.9 176 413.9 176.2 414 176.5 414.2 176.7 414.3 177 414.5 177.2 414.7 177.5 415 177.7 414.8 178 414.6 178.2 414.4 178.5 414.1 178.7 414 179 413.8 179.2 413.7 179.5 413.7 179.7 413.7 180 413.7 180.2 413.8 180.5 413.9 180.7 414.1 181 414.3 181.2 414.6 181.5 414.9 181.7 414.8 182 414.6 182.2 414.3 182.5 414 182.7 413.8 183 413.6 183.2 413.5 183.5 413.4 183.7 413.3 184 413.4 184.2 413.5 184.5 413.6 184.7 413.8 185 414.1 185.2 414.4 185.5 414.7 185.7 414.9 186 414.5 186.2 414.2 186.5 413.8 186.8 413.5 187 413.3 187.3 413.1 187.5 412.9 187.8 412.9 188 412.9 188.3 413 188.5 413.1 188.8 413.4 189 413.7 189.3 414.1 189.5 414.5 189.8 414.9 190 414.6 190.3 414.1 190.5 413.7 190.8 413.2 191 412.9 191.3 412.6 191.5 412.3 191.8 412.2 192 412.2 192.3 412.2 192.5 412.4 192.8 412.7 193 413.1 193.3 413.5 193.5 414.1 193.8 414.7 194 414.7 194.3 414.1 194.5 413.4 194.8 412.8 195 412.3 195.3 411.8 195.5 411.4 195.8 411.2 196 411.1 196.3 411.1 196.5 411.2 196.8 411.5 197 412 197.3 412.5 197.5 413.2 197.8 414 198 414.9 198.3 414.2 198.5 413.3 198.8 412.4 199 411.6 199.3 410.8 199.6 410.2 199.8 409.7 200.1 409.3 200.3 409.2 200.6 409.2 200.8 409.5 201.1 409.9 201.3 410.6 201.6 411.5 201.8 412.5 202.1 413.7 202.3 415 202.6 413.7 202.8 412.3 203.1 411 203.3 409.7 203.6 408.5 203.8 407.5 204.1 406.7 204.3 406.1 204.6 405.8 204.8 405.8 205.1 406.2 205.3 406.8 205.6 407.7 205.8 409 206.1 410.5 206.3 412.3 206.6 414.3 206.8 413.6 207.1 411.4 207.3 409.2 207.6 407.1 207.8 405.1 208.1 403.2 208.3 401.7 208.6 400.4 208.8 399.6 209.1 399.1 209.3 399.2 209.6 399.7 209.8 400.7 210.1 402.3 210.3 404.2 210.6 406.7 210.8 409.5 211.1 412.6 211.3 414 211.6 410.4 211.8 406.8 212.1 403.2 212.4 399.7 212.6 396.5 212.9 393.6 213.1 391.2 213.4 389.3 213.6 388 213.9 387.3 214.1 387.4 214.4 388.2 214.6 389.7 214.9 391.9 215.1 394.9 215.4 398.4 215.6 402.6 215.9 407.1 216.1 412.1 216.4 412.8 216.6 407.6 216.9 402.4 217.1 397.5 217.4 393 217.6 388.9 217.9 385.5 218.1 382.9 218.4 381.2 218.6 380.6 218.9 380.9 219.1 382.4 219.4 385.1 219.6 388.9 219.9 393.8 220.1 399.8 220.4 406.7 220.6 414.5 220.9 407 221.1 397.8 221.4 388.3 221.6 378.6 221.9 368.9 222.1 359.3 222.4 350.1 222.6 341.4 222.9 333.5 223.1 326.4 223.4 320.5 223.6 315.7 223.9 312.2 224.1 310.1 224.4 309.4 224.7 310.1 224.9 312.2 225.2 315.7 225.4 320.5 225.7 326.4 225.9 333.5 226.2 341.4 226.4 350.1 226.7 359.3 226.9 368.9 227.2 378.6 227.4 388.3 227.7 397.8 227.9 407 228.2 414.5 228.4 406.7 228.7 399.8 228.9 393.8 229.2 388.9 229.4 385.1 229.7 382.4 229.9 380.9 230.2 380.6 230.4 381.2 230.7 382.9 230.9 385.5 231.2 388.9 231.4 393 231.7 397.5 231.9 402.4 232.2 407.6 232.4 412.8 232.7 412.1 232.9 407.1 233.2 402.6 233.4 398.4 233.7 394.9 233.9 391.9 234.2 389.7 234.4 388.2 234.7 387.4 234.9 387.3 235.2 388 235.4 389.3 235.7 391.2 235.9 393.6 236.2 396.5 236.4 399.7 236.7 403.2 237 406.8 237.2 410.4 237.5 414 237.7 412.6 238 409.5 238.2 406.7 238.5 404.2 238.7 402.3 239 400.7 239.2 399.7 239.5 399.2 239.7 399.1 240 399.6 240.2 400.4 240.5 401.7 240.7 403.2 241 405.1 241.2 407.1 241.5 409.2 241.7 411.4 242 413.6 242.2 414.3 242.5 412.3 242.7 410.5 243 409 243.2 407.7 243.5 406.8 243.7 406.2 244 405.8 244.2 405.8 244.5 406.1 244.7 406.7 245 407.5 245.2 408.5 245.5 409.7 245.7 411 246 412.3 246.2 413.7 246.5 415 246.7 413.7 247 412.5 247.2 411.5 247.5 410.6 247.7 409.9 248 409.5 248.2 409.2 248.5 409.2 248.7 409.3 249 409.7 249.2 410.2 249.5 410.8 249.8 411.6 250 412.4 250.3 413.3 250.5 414.2 250.8 414.9 251 414 251.3 413.2 251.5 412.5 251.8 412 252 411.5 252.3 411.2 252.5 411.1 252.8 411.1 253 411.2 253.3 411.4 253.5 411.8 253.8 412.3 254 412.8 254.3 413.4 254.5 414.1 254.8 414.7 255 414.7 255.3 414.1 255.5 413.5 255.8 413.1 256 412.7 256.3 412.4 256.5 412.2 256.8 412.2 257 412.2 257.3 412.3 257.5 412.6 257.8 412.9 258 413.2 258.3 413.7 258.5 414.1 258.8 414.6 259 414.9 259.3 414.5 259.5 414.1 259.8 413.7 260 413.4 260.3 413.1 260.5 413 260.8 412.9 261 412.9 261.3 412.9 261.5 413.1 261.8 413.3 262.1 413.5 262.3 413.8 262.6 414.2 262.8 414.5 263.1 414.9 263.3 414.7 263.6 414.4 263.8 414.1 264.1 413.8 264.3 413.6 264.6 413.5 264.8 413.4 265.1 413.3 265.3 413.4 265.6 413.5 265.8 413.6 266.1 413.8 266.3 414 266.6 414.3 266.8 414.6 267.1 414.8 267.3 414.9 267.6 414.6 267.8 414.3 268.1 414.1 268.3 413.9 268.6 413.8 268.8 413.7 269.1 413.7 269.3 413.7 269.6 413.7 269.8 413.8 270.1 414 270.3 414.1 270.6 414.4 270.8 414.6 271.1 414.8 271.3 415 271.6 414.7 271.8 414.5 272.1 414.3 272.3 414.2 272.6 414 272.8 413.9 273.1 413.9 273.3 413.9 273.6 413.9 273.8 414 274.1 414.1 274.3 414.3 274.6 414.4" fill="none" stroke="#0072bd" stroke-width=".92" stroke-linejoin="round"/>
<path d="M199.3 415.0v-1.1M199.3 309.4v1.1 M224.4 415.0v-1.1M224.4 309.4v1.1 M249.5 415.0v-1.1M249.5 309.4v1.1 M174.2 382.5h1.1M274.6 382.5h-1.1 M174.2 350.0h1.1M274.6 350.0h-1.1 M174.2 317.5h1.1M274.6 317.5h-1.1" stroke="#333" stroke-width=".6" fill="none"/>
<text transform="translate(169.8,418.9) scale(1.06,1)" text-anchor="end" class="k">0</text><text transform="translate(169.8,386.4) scale(1.06,1)" text-anchor="end" class="k">0.1</text><text transform="translate(169.8,353.9) scale(1.06,1)" text-anchor="end" class="k">0.2</text><text transform="translate(169.8,321.4) scale(1.06,1)" text-anchor="end" class="k">0.3</text>
<text transform="translate(171.8,429.8) scale(1.06,1)" text-anchor="middle" class="k">−40</text><text transform="translate(197.7,429.8) scale(1.06,1)" text-anchor="middle" class="k">−20</text><text transform="translate(223.5,429.8) scale(1.06,1)" text-anchor="middle" class="k">0</text><text transform="translate(249.3,429.8) scale(1.06,1)" text-anchor="middle" class="k">20</text><text transform="translate(275.2,429.8) scale(1.06,1)" text-anchor="middle" class="k">40</text>
<text x="209.0" y="300.6" style="font-size:11.2px"><tspan class="i">B</tspan><tspan class="s" dy="1.8">y</tspan><tspan dy="-1.8"> = 90</tspan></text>
<text x="205.8" y="447.9"><tspan class="i">B</tspan><tspan class="s" dy="2">z</tspan><tspan dy="-2"> (mT)</tspan></text>
<rect x="308.2" y="308.7" width="100.4" height="105.1" fill="none" stroke="#777" stroke-width="0.7"/>
<path d="M308.2 410.8 308.5 411.6 308.7 412.6 309 413.6 309.2 412.9 309.5 411.8 309.7 410.8 310 409.8 310.2 409 310.5 408.4 310.7 407.9 311 407.7 311.2 407.7 311.5 407.9 311.7 408.4 312 409.1 312.2 410 312.5 411.1 312.7 412.3 313 413.6 313.2 412.6 313.5 411.3 313.7 410 314 408.9 314.2 407.9 314.5 407.1 314.7 406.6 315 406.3 315.2 406.4 315.5 406.7 315.7 407.4 316 408.3 316.2 409.5 316.5 410.8 316.7 412.4 317 413.5 317.2 411.8 317.5 410.1 317.7 408.4 318 407 318.2 405.7 318.5 404.7 318.7 404 319 403.7 319.2 403.7 319.5 404.2 319.7 405 320 406.2 320.2 407.7 320.5 409.5 320.8 411.6 321 413.8 321.3 411.5 321.5 409.2 321.8 407 322 405 322.3 403.3 322.5 401.9 322.8 400.9 323 400.4 323.3 400.4 323.5 400.9 323.8 401.9 324 403.5 324.3 405.5 324.5 407.9 324.8 410.7 325 413.7 325.3 410.7 325.5 407.5 325.8 404.4 326 401.5 326.3 398.9 326.5 396.7 326.8 395.1 327 394.1 327.3 393.7 327.5 394.1 327.8 395.2 328 397 328.3 399.5 328.5 402.7 328.8 406.3 329 410.5 329.3 412.7 329.5 408.1 329.8 403.5 330 399 330.3 394.9 330.5 391.3 330.8 388.2 331 386 331.3 384.6 331.5 384.2 331.8 384.8 332 386.5 332.3 389.2 332.5 393 332.8 397.6 333 403.1 333.3 409.2 333.6 411.8 333.8 404.9 334.1 397.9 334.3 391 334.6 384.5 334.8 378.5 335.1 373.4 335.3 369.2 335.6 366.1 335.8 364.4 336.1 364 336.3 365.1 336.6 367.6 336.8 371.6 337.1 376.9 337.3 383.5 337.6 391.1 337.8 399.7 338.1 408.9 338.3 409 338.6 399.3 338.8 389.6 339.1 380.4 339.3 371.8 339.6 364.2 339.8 357.8 340.1 352.8 340.3 349.3 340.6 347.5 340.8 347.4 341.1 349.1 341.3 352.5 341.6 357.5 341.8 364.1 342.1 371.9 342.3 380.8 342.6 390.6 342.8 400.8 343.1 411.4 343.3 405.8 343.6 395.7 343.8 386.3 344.1 377.9 344.3 370.8 344.6 365 344.8 360.9 345.1 358.4 345.3 357.8 345.6 358.9 345.9 361.8 346.1 366.3 346.4 372.3 346.6 379.6 346.9 387.9 347.1 396.9 347.4 406.4 347.6 411.6 347.9 402.2 348.1 393.2 348.4 385.1 348.6 378.1 348.9 372.3 349.1 368.1 349.4 365.4 349.6 364.5 349.9 365.4 350.1 367.9 350.4 372.1 350.6 377.7 350.9 384.6 351.1 392.6 351.4 401.3 351.6 410.4 351.9 408 352.1 399 352.4 390.6 352.6 383.1 352.9 376.7 353.1 371.8 353.4 368.6 353.6 367.1 353.9 367.6 354.1 370.1 354.4 374.5 354.6 380.8 354.9 388.8 355.1 398.3 355.4 409.1 355.6 406.7 355.9 394.2 356.1 381.4 356.4 368.7 356.6 356.4 356.9 345 357.1 334.6 357.4 325.6 357.6 318.4 357.9 313.1 358.1 309.8 358.4 308.7 358.7 309.8 358.9 313.1 359.2 318.4 359.4 325.6 359.7 334.6 359.9 345 360.2 356.4 360.4 368.7 360.7 381.4 360.9 394.2 361.2 406.7 361.4 409.1 361.7 398.3 361.9 388.8 362.2 380.8 362.4 374.5 362.7 370.1 362.9 367.6 363.2 367.1 363.4 368.6 363.7 371.8 363.9 376.7 364.2 383.1 364.4 390.6 364.7 399 364.9 408 365.2 410.4 365.4 401.3 365.7 392.6 365.9 384.6 366.2 377.7 366.4 372.1 366.7 367.9 366.9 365.4 367.2 364.5 367.4 365.4 367.7 368.1 367.9 372.3 368.2 378.1 368.4 385.1 368.7 393.2 368.9 402.2 369.2 411.6 369.4 406.4 369.7 396.9 369.9 387.9 370.2 379.6 370.4 372.3 370.7 366.3 370.9 361.8 371.2 358.9 371.5 357.8 371.7 358.4 372 360.9 372.2 365 372.5 370.8 372.7 377.9 373 386.3 373.2 395.7 373.5 405.8 373.7 411.4 374 400.8 374.2 390.6 374.5 380.8 374.7 371.9 375 364.1 375.2 357.5 375.5 352.5 375.7 349.1 376 347.4 376.2 347.5 376.5 349.3 376.7 352.8 377 357.8 377.2 364.2 377.5 371.8 377.7 380.4 378 389.6 378.2 399.3 378.5 409 378.7 408.9 379 399.7 379.2 391.1 379.5 383.5 379.7 376.9 380 371.6 380.2 367.6 380.5 365.1 380.7 364 381 364.4 381.2 366.1 381.5 369.2 381.7 373.4 382 378.5 382.2 384.5 382.5 391 382.7 397.9 383 404.9 383.2 411.8 383.5 409.2 383.8 403.1 384 397.6 384.3 393 384.5 389.2 384.8 386.5 385 384.8 385.3 384.2 385.5 384.6 385.8 386 386 388.2 386.3 391.3 386.5 394.9 386.8 399 387 403.5 387.3 408.1 387.5 412.7 387.8 410.5 388 406.3 388.3 402.7 388.5 399.5 388.8 397 389 395.2 389.3 394.1 389.5 393.7 389.8 394.1 390 395.1 390.3 396.7 390.5 398.9 390.8 401.5 391 404.4 391.3 407.5 391.5 410.7 391.8 413.7 392 410.7 392.3 407.9 392.5 405.5 392.8 403.5 393 401.9 393.3 400.9 393.5 400.4 393.8 400.4 394 400.9 394.3 401.9 394.5 403.3 394.8 405 395 407 395.3 409.2 395.5 411.5 395.8 413.8 396.1 411.6 396.3 409.5 396.6 407.7 396.8 406.2 397.1 405 397.3 404.2 397.6 403.7 397.8 403.7 398.1 404 398.3 404.7 398.6 405.7 398.8 407 399.1 408.4 399.3 410.1 399.6 411.8 399.8 413.5 400.1 412.4 400.3 410.8 400.6 409.5 400.8 408.3 401.1 407.4 401.3 406.7 401.6 406.4 401.8 406.3 402.1 406.6 402.3 407.1 402.6 407.9 402.8 408.9 403.1 410 403.3 411.3 403.6 412.6 403.8 413.6 404.1 412.3 404.3 411.1 404.6 410 404.8 409.1 405.1 408.4 405.3 407.9 405.6 407.7 405.8 407.7 406.1 407.9 406.3 408.4 406.6 409 406.8 409.8 407.1 410.8 407.3 411.8 407.6 412.9 407.8 413.6 408.1 412.6 408.3 411.6 408.6 410.8" fill="none" stroke="#0072bd" stroke-width=".92" stroke-linejoin="round"/>
<path d="M333.3 413.8v-1.1M333.3 308.7v1.1 M358.4 413.8v-1.1M358.4 308.7v1.1 M383.5 413.8v-1.1M383.5 308.7v1.1 M308.2 386.4h1.1M408.6 386.4h-1.1 M308.2 358.9h1.1M408.6 358.9h-1.1 M308.2 331.5h1.1M408.6 331.5h-1.1" stroke="#777" stroke-width=".6" fill="none"/>
<text transform="translate(304.0,417.7) scale(1.06,1)" text-anchor="end" class="k">0</text><text transform="translate(304.0,390.2) scale(1.06,1)" text-anchor="end" class="k">0.02</text><text transform="translate(304.0,362.8) scale(1.06,1)" text-anchor="end" class="k">0.04</text><text transform="translate(304.0,335.4) scale(1.06,1)" text-anchor="end" class="k">0.06</text>
<text transform="translate(305.8,429.8) scale(1.06,1)" text-anchor="middle" class="k">−40</text><text transform="translate(331.6,429.8) scale(1.06,1)" text-anchor="middle" class="k">−20</text><text transform="translate(357.5,429.8) scale(1.06,1)" text-anchor="middle" class="k">0</text><text transform="translate(383.4,429.8) scale(1.06,1)" text-anchor="middle" class="k">20</text><text transform="translate(409.2,429.8) scale(1.06,1)" text-anchor="middle" class="k">40</text>
<text x="338.4" y="300.6" style="font-size:11.2px"><tspan class="i">B</tspan><tspan class="s" dy="1.8">y</tspan><tspan dy="-1.8"> = 280</tspan></text>
<text x="339.8" y="447.9"><tspan class="i">B</tspan><tspan class="s" dy="2">z</tspan><tspan dy="-2"> (mT)</tspan></text>
<rect x="442.9" y="308.7" width="100.6" height="105.1" fill="none" stroke="#777" stroke-width="0.7"/>
<path d="M442.9 406.3 443.2 407.8 443.4 409.6 443.7 411.7 443.9 413.8 444.2 411.6 444.4 409.4 444.7 407.3 444.9 405.5 445.2 403.9 445.4 402.7 445.7 401.9 445.9 401.6 446.2 401.7 446.4 402.4 446.7 403.5 446.9 405.1 447.2 407.1 447.4 409.5 447.7 412.1 447.9 412.8 448.2 409.9 448.4 407.2 448.7 404.6 448.9 402.2 449.2 400.2 449.4 398.7 449.7 397.8 449.9 397.4 450.2 397.6 450.4 398.5 450.7 400 450.9 402.1 451.2 404.7 451.5 407.8 451.7 411.2 452 412.8 452.2 409.1 452.5 405.4 452.7 401.9 453 398.8 453.2 396.2 453.5 394.1 453.7 392.8 454 392.2 454.2 392.5 454.5 393.6 454.7 395.5 455 398.3 455.2 401.8 455.5 405.9 455.7 410.5 456 412.2 456.2 407.1 456.5 402 456.7 397.1 457 392.6 457.2 388.7 457.5 385.5 457.7 383.3 458 382 458.2 381.9 458.5 383 458.7 385.2 459 388.6 459.2 393 459.5 398.4 459.8 404.6 460 411.4 460.3 409 460.5 401.6 460.8 394.4 461 387.5 461.3 381.2 461.5 375.9 461.8 371.6 462 368.7 462.3 367.2 462.5 367.3 462.8 369.1 463 372.5 463.3 377.6 463.5 384.2 463.8 392.2 464 401.4 464.3 411.5 464.5 405.4 464.8 394.4 465 383.3 465.3 372.7 465.5 362.9 465.8 354.1 466 346.7 466.3 341 466.5 337.2 466.8 335.6 467 336.2 467.3 339.1 467.5 344.3 467.8 351.7 468 361.1 468.3 372.4 468.6 385.3 468.8 399.4 469.1 413.3 469.3 398 469.6 382.7 469.8 367.8 470.1 353.8 470.3 341.1 470.6 330.1 470.8 321.1 471.1 314.4 471.3 310.2 471.6 308.7 471.8 309.9 472.1 313.8 472.3 320.4 472.6 329.3 472.8 340.5 473.1 353.5 473.3 368 473.6 383.5 473.8 399.6 474.1 411.7 474.3 395.8 474.6 380.8 474.8 366.9 475.1 354.8 475.3 344.7 475.6 336.8 475.8 331.5 476.1 328.8 476.3 328.8 476.6 331.5 476.9 336.7 477.1 344.2 477.4 353.8 477.6 365.2 477.9 377.9 478.1 391.5 478.4 405.5 478.6 408 478.9 394.4 479.1 381.8 479.4 370.4 479.6 360.7 479.9 353 480.1 347.4 480.4 344.3 480.6 343.5 480.9 345.2 481.1 349.2 481.4 355.4 481.6 363.5 481.9 373.2 482.1 384.2 482.4 396 482.6 408.3 482.9 407.1 483.1 395.3 483.4 384.4 483.6 374.6 483.9 366.5 484.1 360.2 484.4 356 484.6 354 484.9 354.2 485.2 356.6 485.4 361.2 485.7 367.8 485.9 376 486.2 385.6 486.4 396.2 486.7 407.4 486.9 408.7 487.2 397.5 487.4 387 487.7 377.5 487.9 369.5 488.2 363.3 488.4 359.1 488.7 357.1 488.9 357.5 489.2 360.2 489.4 365.2 489.7 372.5 489.9 381.7 490.2 392.7 490.4 405.1 490.7 409.2 490.9 395.2 491.2 381.1 491.4 367.4 491.7 354.4 491.9 342.6 492.2 332.3 492.4 324 492.7 317.8 492.9 314.1 493.2 312.8 493.5 314.1 493.7 317.8 494 324 494.2 332.3 494.5 342.6 494.7 354.4 495 367.4 495.2 381.1 495.5 395.2 495.7 409.2 496 405.1 496.2 392.7 496.5 381.7 496.7 372.5 497 365.2 497.2 360.2 497.5 357.5 497.7 357.1 498 359.1 498.2 363.3 498.5 369.5 498.7 377.5 499 387 499.2 397.5 499.5 408.7 499.7 407.4 500 396.2 500.2 385.6 500.5 376 500.7 367.8 501 361.2 501.2 356.6 501.5 354.2 501.8 354 502 356 502.3 360.2 502.5 366.5 502.8 374.6 503 384.4 503.3 395.3 503.5 407.1 503.8 408.3 504 396 504.3 384.2 504.5 373.2 504.8 363.5 505 355.4 505.3 349.2 505.5 345.2 505.8 343.5 506 344.3 506.3 347.4 506.5 353 506.8 360.7 507 370.4 507.3 381.8 507.5 394.4 507.8 408 508 405.5 508.3 391.5 508.5 377.9 508.8 365.2 509 353.8 509.3 344.2 509.5 336.7 509.8 331.5 510.1 328.8 510.3 328.8 510.6 331.5 510.8 336.8 511.1 344.7 511.3 354.8 511.6 366.9 511.8 380.8 512.1 395.8 512.3 411.7 512.6 399.6 512.8 383.5 513.1 368 513.3 353.5 513.6 340.5 513.8 329.3 514.1 320.4 514.3 313.8 514.6 309.9 514.8 308.7 515.1 310.2 515.3 314.4 515.6 321.1 515.8 330.1 516.1 341.1 516.3 353.8 516.6 367.8 516.8 382.7 517.1 398 517.3 413.3 517.6 399.4 517.8 385.3 518.1 372.4 518.4 361.1 518.6 351.7 518.9 344.3 519.1 339.1 519.4 336.2 519.6 335.6 519.9 337.2 520.1 341 520.4 346.7 520.6 354.1 520.9 362.9 521.1 372.7 521.4 383.3 521.6 394.4 521.9 405.4 522.1 411.5 522.4 401.4 522.6 392.2 522.9 384.2 523.1 377.6 523.4 372.5 523.6 369.1 523.9 367.3 524.1 367.2 524.4 368.7 524.6 371.6 524.9 375.9 525.1 381.2 525.4 387.5 525.6 394.4 525.9 401.6 526.1 409 526.4 411.4 526.6 404.6 526.9 398.4 527.2 393 527.4 388.6 527.7 385.2 527.9 383 528.2 381.9 528.4 382 528.7 383.3 528.9 385.5 529.2 388.7 529.4 392.6 529.7 397.1 529.9 402 530.2 407.1 530.4 412.2 530.7 410.5 530.9 405.9 531.2 401.8 531.4 398.3 531.7 395.5 531.9 393.6 532.2 392.5 532.4 392.2 532.7 392.8 532.9 394.1 533.2 396.2 533.4 398.8 533.7 401.9 533.9 405.4 534.2 409.1 534.4 412.8 534.7 411.2 534.9 407.8 535.2 404.7 535.5 402.1 535.7 400 536 398.5 536.2 397.6 536.5 397.4 536.7 397.8 537 398.7 537.2 400.2 537.5 402.2 537.7 404.6 538 407.2 538.2 409.9 538.5 412.8 538.7 412.1 539 409.5 539.2 407.1 539.5 405.1 539.7 403.5 540 402.4 540.2 401.7 540.5 401.6 540.7 401.9 541 402.7 541.2 403.9 541.5 405.5 541.7 407.3 542 409.4 542.2 411.6 542.5 413.8 542.7 411.7 543 409.6 543.2 407.8 543.5 406.3" fill="none" stroke="#0072bd" stroke-width=".92" stroke-linejoin="round"/>
<path d="M468.0 413.8v-1.1M468.0 308.7v1.1 M493.2 413.8v-1.1M493.2 308.7v1.1 M518.4 413.8v-1.1M518.4 308.7v1.1 M442.9 387.7h1.1M543.5 387.7h-1.1 M442.9 361.6h1.1M543.5 361.6h-1.1 M442.9 335.5h1.1M543.5 335.5h-1.1" stroke="#777" stroke-width=".6" fill="none"/>
<text transform="translate(438.8,417.7) scale(1.06,1)" text-anchor="end" class="k">0</text><text transform="translate(438.8,391.6) scale(1.06,1)" text-anchor="end" class="k">0.01</text><text transform="translate(438.8,365.5) scale(1.06,1)" text-anchor="end" class="k">0.02</text><text transform="translate(438.8,339.4) scale(1.06,1)" text-anchor="end" class="k">0.03</text><text transform="translate(438.8,313.3) scale(1.06,1)" text-anchor="end" class="k">0.04</text>
<text transform="translate(440.6,429.8) scale(1.06,1)" text-anchor="middle" class="k">−40</text><text transform="translate(466.4,429.8) scale(1.06,1)" text-anchor="middle" class="k">−20</text><text transform="translate(492.3,429.8) scale(1.06,1)" text-anchor="middle" class="k">0</text><text transform="translate(518.1,429.8) scale(1.06,1)" text-anchor="middle" class="k">20</text><text transform="translate(544.0,429.8) scale(1.06,1)" text-anchor="middle" class="k">40</text>
<text x="474.6" y="300.6" style="font-size:11.2px"><tspan class="i">B</tspan><tspan class="s" dy="1.8">y</tspan><tspan dy="-1.8"> = 370</tspan></text>
<text x="474.6" y="447.9"><tspan class="i">B</tspan><tspan class="s" dy="2">z</tspan><tspan dy="-2"> (mT)</tspan></text>
<rect x="577.3" y="308.7" width="100.9" height="105.1" fill="none" stroke="#777" stroke-width="0.7"/>
<path d="M577.3 411.1 577.6 412.3 577.8 408.1 578.1 403.9 578.3 399.9 578.6 396.3 578.8 393.3 579.1 390.9 579.3 389.3 579.6 388.6 579.8 388.8 580.1 390 580.3 392.1 580.6 395.2 580.8 399.1 581.1 403.7 581.3 408.9 581.6 413.1 581.8 407.2 582.1 401.3 582.3 395.5 582.6 390.2 582.8 385.4 583.1 381.3 583.4 378.3 583.6 376.3 583.9 375.5 584.1 376.1 584.4 377.9 584.6 381.1 584.9 385.5 585.1 391.1 585.4 397.7 585.6 405.1 585.9 413.2 586.1 406 586.4 397.4 586.6 389.1 586.9 381.2 587.1 374.1 587.4 368 587.6 363.1 587.9 359.8 588.1 358.1 588.4 358.1 588.7 360.1 588.9 363.9 589.2 369.5 589.4 376.9 589.7 385.8 589.9 396.1 590.2 407.5 590.4 407.9 590.7 395.2 590.9 382.4 591.2 369.8 591.4 358 591.7 347.1 591.9 337.5 592.2 329.7 592.4 323.8 592.7 320 592.9 318.6 593.2 319.6 593.4 323.1 593.7 328.9 593.9 337.1 594.2 347.4 594.5 359.6 594.7 373.4 595 388.4 595.2 404.3 595.5 407 595.7 390.8 596 375 596.2 360 596.5 346.4 596.7 334.4 597 324.4 597.2 316.7 597.5 311.4 597.7 308.7 598 308.7 598.2 311.3 598.5 316.5 598.7 324.1 599 333.8 599.2 345.4 599.5 358.5 599.8 372.7 600 387.6 600.3 402.9 600.5 409.7 600.8 395.2 601 381.8 601.3 369.7 601.5 359.3 601.8 350.9 602 344.6 602.3 340.7 602.5 339.2 602.8 340 603 343.2 603.3 348.5 603.5 355.7 603.8 364.6 604 374.9 604.3 386.1 604.5 398 604.8 410.1 605 405.6 605.3 394.2 605.6 383.7 605.8 374.4 606.1 366.7 606.3 360.6 606.6 356.5 606.8 354.3 607.1 354.1 607.3 355.8 607.6 359.5 607.8 364.8 608.1 371.6 608.3 379.7 608.6 388.6 608.8 398.2 609.1 408.1 609.3 409.8 609.6 400.4 609.8 391.8 610.1 384.1 610.3 377.7 610.6 372.8 610.8 369.4 611.1 367.7 611.4 367.7 611.6 369.4 611.9 372.6 612.1 377.3 612.4 383.2 612.6 390.2 612.9 397.8 613.1 406 613.4 413.3 613.6 405.1 613.9 397.4 614.1 390.3 614.4 384.2 614.6 379.2 614.9 375.6 615.1 373.3 615.4 372.6 615.6 373.3 615.9 375.4 616.1 378.9 616.4 383.7 616.7 389.4 616.9 395.9 617.2 402.9 617.4 410.2 617.7 410 617.9 403 618.2 396.4 618.4 390.7 618.7 385.8 618.9 382.2 619.2 379.7 619.4 378.7 619.7 378.9 619.9 380.6 620.2 383.5 620.4 387.5 620.7 392.6 620.9 398.4 621.2 404.9 621.4 411.6 621.7 409.1 621.9 402.5 622.2 396.3 622.5 390.8 622.7 386.1 623 382.5 623.2 380.2 623.5 379.1 623.7 379.4 624 381 624.2 384 624.5 388.1 624.7 393.3 625 399.3 625.2 406.1 625.5 413.2 625.7 407.1 626 399.8 626.2 392.9 626.5 386.6 626.7 381.1 627 376.6 627.2 373.2 627.5 371.2 627.8 370.5 628 371.2 628.3 373.2 628.5 376.6 628.8 381.1 629 386.6 629.3 392.9 629.5 399.8 629.8 407.1 630 413.2 630.3 406.1 630.5 399.3 630.8 393.3 631 388.1 631.3 384 631.5 381 631.8 379.4 632 379.1 632.3 380.2 632.5 382.5 632.8 386.1 633 390.8 633.3 396.3 633.6 402.5 633.8 409.1 634.1 411.6 634.3 404.9 634.6 398.4 634.8 392.6 635.1 387.5 635.3 383.5 635.6 380.6 635.8 378.9 636.1 378.7 636.3 379.7 636.6 382.2 636.8 385.8 637.1 390.7 637.3 396.4 637.6 403 637.8 410 638.1 410.2 638.3 402.9 638.6 395.9 638.8 389.4 639.1 383.7 639.4 378.9 639.6 375.4 639.9 373.3 640.1 372.6 640.4 373.3 640.6 375.6 640.9 379.2 641.1 384.2 641.4 390.3 641.6 397.4 641.9 405.1 642.1 413.3 642.4 406 642.6 397.8 642.9 390.2 643.1 383.2 643.4 377.3 643.6 372.6 643.9 369.4 644.1 367.7 644.4 367.7 644.7 369.4 644.9 372.8 645.2 377.7 645.4 384.1 645.7 391.8 645.9 400.4 646.2 409.8 646.4 408.1 646.7 398.2 646.9 388.6 647.2 379.7 647.4 371.6 647.7 364.8 647.9 359.5 648.2 355.8 648.4 354.1 648.7 354.3 648.9 356.5 649.2 360.6 649.4 366.7 649.7 374.4 649.9 383.7 650.2 394.2 650.5 405.6 650.7 410.1 651 398 651.2 386.1 651.5 374.9 651.7 364.6 652 355.7 652.2 348.5 652.5 343.2 652.7 340 653 339.2 653.2 340.7 653.5 344.6 653.7 350.9 654 359.3 654.2 369.7 654.5 381.8 654.7 395.2 655 409.7 655.2 402.9 655.5 387.6 655.7 372.7 656 358.5 656.3 345.4 656.5 333.8 656.8 324.1 657 316.5 657.3 311.3 657.5 308.7 657.8 308.7 658 311.4 658.3 316.7 658.5 324.4 658.8 334.4 659 346.4 659.3 360 659.5 375 659.8 390.8 660 407 660.3 404.3 660.5 388.4 660.8 373.4 661 359.6 661.3 347.4 661.6 337.1 661.8 328.9 662.1 323.1 662.3 319.6 662.6 318.6 662.8 320 663.1 323.8 663.3 329.7 663.6 337.5 663.8 347.1 664.1 358 664.3 369.8 664.6 382.4 664.8 395.2 665.1 407.9 665.3 407.5 665.6 396.1 665.8 385.8 666.1 376.9 666.3 369.5 666.6 363.9 666.8 360.1 667.1 358.1 667.4 358.1 667.6 359.8 667.9 363.1 668.1 368 668.4 374.1 668.6 381.2 668.9 389.1 669.1 397.4 669.4 406 669.6 413.2 669.9 405.1 670.1 397.7 670.4 391.1 670.6 385.5 670.9 381.1 671.1 377.9 671.4 376.1 671.6 375.5 671.9 376.3 672.1 378.3 672.4 381.3 672.7 385.4 672.9 390.2 673.2 395.5 673.4 401.3 673.7 407.2 673.9 413.1 674.2 408.9 674.4 403.7 674.7 399.1 674.9 395.2 675.2 392.1 675.4 390 675.7 388.8 675.9 388.6 676.2 389.3 676.4 390.9 676.7 393.3 676.9 396.3 677.2 399.9 677.4 403.9 677.7 408.1 677.9 412.3 678.2 411.1" fill="none" stroke="#0072bd" stroke-width=".92" stroke-linejoin="round"/>
<path d="M602.5 413.8v-1.1M602.5 308.7v1.1 M627.8 413.8v-1.1M627.8 308.7v1.1 M653.0 413.8v-1.1M653.0 308.7v1.1 M577.3 375.9h1.1M678.2 375.9h-1.1 M577.3 338.0h1.1M678.2 338.0h-1.1" stroke="#777" stroke-width=".6" fill="none"/>
<text transform="translate(574.8,417.7) scale(1.06,1)" text-anchor="end" class="k">0</text><text transform="translate(574.8,379.8) scale(1.06,1)" text-anchor="end" class="k">0.01</text><text transform="translate(574.8,341.9) scale(1.06,1)" text-anchor="end" class="k">0.02</text>
<text transform="translate(575.1,429.8) scale(1.06,1)" text-anchor="middle" class="k">−40</text><text transform="translate(601.0,429.8) scale(1.06,1)" text-anchor="middle" class="k">−20</text><text transform="translate(626.9,429.8) scale(1.06,1)" text-anchor="middle" class="k">0</text><text transform="translate(652.7,429.8) scale(1.06,1)" text-anchor="middle" class="k">20</text><text transform="translate(678.6,429.8) scale(1.06,1)" text-anchor="middle" class="k">40</text>
<text x="607.7" y="300.6" style="font-size:11.2px"><tspan class="i">B</tspan><tspan class="s" dy="1.8">y</tspan><tspan dy="-1.8"> = 460</tspan></text>
<text x="609.1" y="447.9"><tspan class="i">B</tspan><tspan class="s" dy="2">z</tspan><tspan dy="-2"> (mT)</tspan></text>
</svg>
</body></html>
